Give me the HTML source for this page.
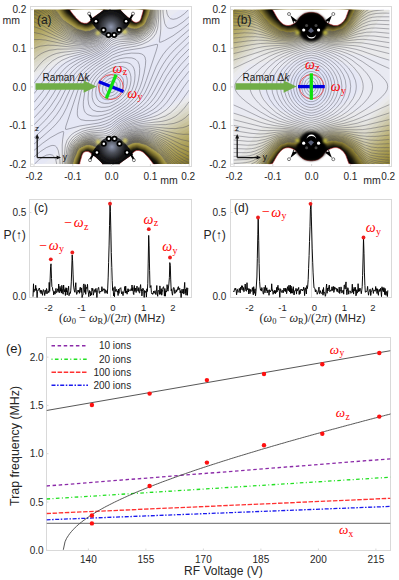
<!DOCTYPE html>
<html><head><meta charset="utf-8"><style>
html,body{margin:0;padding:0;background:#fff;}
svg{display:block;}
</style></head><body>
<svg width="399" height="580" viewBox="0 0 399 580">
<rect width="399" height="580" fill="#fff"/>
<clipPath id="cpa"><rect x="34.0" y="9.7" width="155.3" height="154.5"/></clipPath>
<g clip-path="url(#cpa)">
<rect x="34.0" y="9.7" width="155.3" height="154.5" fill="#e0e4f8"/>
<path fill="#e5e7f5" fill-rule="evenodd" d="M189.1 164.1L34.1 164.1L34.1 9.8L189.1 9.8L189.1 164.1ZM106.5 102.1L111.6 100.9L117.1 98.1L121.4 94.5L124.7 90.1L126.7 84.8L127 79.8L126.6 77.6L125.7 75.6L122.9 72.9L120.1 71.9L117.1 71.7L113.4 72.2L110.1 73.4L106.6 75.2L103.4 77.6L100.6 80.4L98.4 83.6L96.8 87.1L96 90.6L96 94.1L96.7 97.1L98.1 99.3L100.4 101L103.1 101.9L106.5 102.1Z"/>
<path fill="#e9eaf2" fill-rule="evenodd" d="M34.4 79.6L34.1 79.7L34.1 9.8L181.7 9.8L178.9 10.6L176.6 11.8L171.4 15.8L167.1 21.9L162.7 31.3L159 36.8L153.6 41.8L146.1 46L139.4 48.2L132.1 48.8L126.9 48.4L116.4 46.1L111.6 45.6L100.4 51.2L93.6 53.6L85.6 55.1L76.6 55.3L34.4 79.6ZM189.1 164.1L40.9 164.1L44.1 163.2L46.2 162.1L51.6 157.9L55.9 151.8L60.3 142.6L63.9 137.1L69.4 132L76.6 127.9L83.1 125.7L90.1 125L95.9 125.4L106.6 127.7L111.4 128.2L122.9 122.5L129.4 120.2L137.6 118.7L146.4 118.6L189.1 93.9L189.1 164.1Z"/>
<path fill="#eaeaec" fill-rule="evenodd" d="M34.1 76.4L34.1 9.8L170.5 9.8L167.4 12.4L164.7 15.8L162.1 20.6L158.9 28.6L155.9 33.3L151.4 37.7L145.1 41.2L141.9 42.6L138.4 43.5L131.1 43.8L125.9 42.9L114.6 39.1L110.9 38.3L103.1 43.2L95.6 46.8L88.9 48.5L81.6 49L34.1 76.4ZM189.1 164.1L52.4 164.1L55.6 161.4L58.1 158.2L60.9 153.2L64.2 145.1L67.2 140.3L71.9 136L77.9 132.6L81.1 131.2L84.6 130.3L91.9 130L97.1 130.9L108.4 134.7L112.1 135.5L120.1 130.5L127.4 127L134.4 125.2L141.4 124.8L189.1 97.3L189.1 164.1Z"/>
<path fill="#e5e5e2" fill-rule="evenodd" d="M34.4 72.9L34.1 73.1L34.1 9.8L165.5 9.8L161.6 14.8L156.8 26.6L154.1 31.1L149.6 35.5L143.4 39L140.1 40.2L136.9 40.9L129.9 40.8L122.9 38.7L113.1 34.1L110.9 33.5L102.4 39.7L95.9 43.1L89.4 45L81.9 45.5L34.4 72.9ZM189.1 164.1L57.4 164.1L59.6 161.6L61.4 158.8L66.3 147.1L69 142.6L73.4 138.3L79.6 134.8L82.6 133.7L86.1 132.9L93.1 133L100.1 135.1L109.6 139.6L112.1 140.3L120.6 134.1L127.1 130.7L133.9 128.8L141.1 128.3L189.1 100.6L189.1 164.1Z"/>
<path fill="#e0dfd7" fill-rule="evenodd" d="M34.4 69.6L34.1 69.7L34.1 9.8L162.3 9.8L159.3 14.6L155.2 25.3L152.8 29.6L148.6 33.8L142.4 37.2L139.1 38.4L135.9 39L132.1 39L128.9 38.4L121.1 35.5L111.4 29.7L108.1 31.8L102.1 37L97.6 39.7L93.9 41.4L89.9 42.5L85.6 43L80.9 42.7L34.4 69.6ZM189.1 164.1L60.6 164.1L63.7 159.3L67.9 148.3L70.3 144.1L74.4 140L80.6 136.6L83.9 135.4L87.1 134.8L90.9 134.8L94.1 135.4L102.1 138.5L111.6 144.1L115.1 141.8L120.9 136.8L125.4 134.1L129.4 132.3L133.6 131.2L137.6 130.8L142.1 131.1L189.1 103.9L189.1 164.1Z"/>
<path fill="#dcdacd" fill-rule="evenodd" d="M34.1 66.4L34.1 9.8L160 9.8L157.9 13.6L154.1 24.1L151.6 28.6L147.9 32.4L141.6 35.9L138.6 36.9L135.4 37.4L131.9 37.3L128.4 36.6L124.1 35L120.6 33.2L113.1 27.5L111.4 26.6L108.4 28.8L101.6 35.1L96.6 38.2L92.6 39.9L88.1 40.9L84.1 41.1L78.9 40.6L34.1 66.4ZM189.1 164.1L62.9 164.1L65.2 160.1L68.9 149.8L71.3 145.3L75.1 141.4L81.4 137.9L84.4 136.9L87.6 136.4L91.1 136.5L94.6 137.2L98.9 138.8L102.4 140.6L109.9 146.3L111.6 147.2L115.1 144.6L121.4 138.7L126.1 135.7L130.1 133.9L134.6 132.9L138.9 132.7L144 133.3L189.1 107.3L189.1 164.1Z"/>
<path fill="#d7d5c2" fill-rule="evenodd" d="M34.4 62.9L34.1 63.1L34.1 9.8L158.2 9.8L156.8 12.6L152.6 24.3L150.6 27.8L146.9 31.6L140.6 34.9L137.1 35.9L133.1 36.1L129.6 35.6L125.4 34.1L121.6 32.1L118.7 30.1L111.6 23.1L110.1 23.8L109.9 25L101.4 33.4L96.4 36.7L91.9 38.6L87.4 39.5L83.1 39.4L76.9 38.4L34.4 62.9ZM189.1 164.1L64.7 164.1L66.2 161.3L70.5 149.3L72.3 146.1L76.1 142.2L82.1 139L85.6 137.9L89.6 137.7L93.1 138.1L97.1 139.5L100.9 141.4L104.1 143.6L111.4 150.7L112.9 150L113.1 148.8L121.6 140.4L126.9 136.9L131.1 135.2L135.9 134.3L139.9 134.4L146.1 135.4L189.1 110.6L189.1 164.1Z"/>
<path fill="#d2ceb5" fill-rule="evenodd" d="M34.1 59.7L34.1 9.8L156.8 9.8L152.6 21.3L149.8 27.1L146.4 30.6L140.1 34L136.6 34.9L132.9 35L129.6 34.4L125.1 32.7L121.8 30.8L118.9 28.6L111.9 20.5L110.1 21.6L109.9 22.7L100.7 32.3L95.4 35.8L90.9 37.6L86.1 38.2L82.4 38L74.6 36.3L34.1 59.7ZM189.1 164.1L66.2 164.1L70.6 151.8L73.3 146.6L76.9 143L82.9 139.8L86.4 138.9L90.1 138.8L93.4 139.4L97.9 141.1L101.1 142.9L104.1 145.3L111.1 153.3L112.9 152.2L113.1 151.1L122.2 141.6L124.6 139.6L127.6 137.9L132.1 136.2L136.9 135.6L140.6 135.8L148.4 137.5L189.1 113.9L189.1 164.1Z"/>
<path fill="#cdc8a8" fill-rule="evenodd" d="M34.1 56.4L34.1 9.8L155.5 9.8L152.5 19.1L149 26.6L145.6 30L139.6 33.1L136.4 34L132.6 34L129.6 33.4L125 31.6L122.1 29.8L119.5 27.6L111.9 18.3L110.1 19.7L109.9 20.7L100.2 31.3L97.9 33.2L94.6 35L90.1 36.7L85.4 37.1L80.1 36.3L72.4 34.3L34.1 56.4ZM189.1 164.1L67.4 164.1L70.5 154.8L73.9 147.3L77.3 143.8L83.4 140.7L86.6 139.8L90.4 139.8L93.4 140.4L97.9 142.2L100.9 144L103.6 146.3L111.1 155.5L112.9 154.1L113.1 153.1L122.9 142.4L125.1 140.6L128.4 138.8L132.9 137.1L137.9 136.7L144.9 137.9L150.5 139.6L189.1 117.3L189.1 164.1Z"/>
<path fill="#c8c29b" fill-rule="evenodd" d="M34.4 52.9L34.1 53L34.1 9.8L154.6 9.8L152 18.1L148.4 26.1L145.1 29.3L138.9 32.5L135.6 33.2L131.9 33L127.4 31.7L124.2 30.1L121.1 27.8L118.9 25.5L112.1 16.1L99.6 30.6L97.4 32.4L94.1 34.2L89.6 35.8L84.4 36.1L75.9 34.2L70.6 32L34.4 52.9ZM189.1 164.1L68.4 164.1L71 155.8L73.3 150.1L74.7 147.6L77.9 144.5L83.9 141.4L87.1 140.6L90.9 140.7L95.1 142L98.6 143.6L101.9 146L104.1 148.3L110.9 157.7L123.4 143.2L125.7 141.3L129.1 139.5L133.6 138L138.6 137.7L147.1 139.6L152.4 141.8L189.1 120.6L189.1 164.1Z"/>
<path fill="#c3bc8e" fill-rule="evenodd" d="M34.1 49.7L34.1 9.8L153.8 9.8L151.3 17.8L147.6 25.8L144.6 28.7L138.4 31.9L135.4 32.4L131.6 32.2L126.9 30.6L123.9 28.9L121.3 26.8L118.9 24.1L113.6 16.5L112.1 13.6L109.9 17.3L106.3 21.1L99.6 29.3L97.1 31.6L93.4 33.6L88.9 35L83.6 35.1L75.1 32.9L68.9 29.6L34.1 49.7ZM189.1 164.1L69.2 164.1L71.5 156.6L75.3 148.1L78.4 145.1L84.4 142L87.6 141.4L91.4 141.6L96.1 143.2L99.1 144.9L101.8 147.1L104 149.6L109.4 157.3L110.9 160.2L113.1 156.5L116.8 152.6L123.5 144.3L126.1 142.1L129.6 140.2L134.1 138.8L139.4 138.7L147.9 140.9L154.1 144.1L189.1 124L189.1 164.1Z"/>
<path fill="#bfb682" fill-rule="evenodd" d="M34.1 46.4L34.1 9.8L153 9.8L150.9 16.8L147.1 25.3L144.1 28.2L138.1 31.2L135.1 31.7L131.6 31.5L127.1 29.9L124.1 28.1L121.6 26L119.2 23.1L114.1 15.6L112.6 12.2L111.4 12.2L109.9 15.8L105.6 20.4L99.2 28.6L96.6 30.9L92.9 33L87.9 34.3L83.1 34.1L75.1 31.9L66.9 27.5L34.1 46.4ZM189.1 164.1L69.9 164.1L72.1 156.8L76 148.3L78.9 145.6L84.9 142.6L87.9 142.1L91.4 142.3L95.9 143.9L98.9 145.7L101.4 147.8L103.7 150.6L108.8 158.1L110.3 161.6L111.6 161.7L113.1 158L117.4 153.4L123.7 145.3L126.4 142.9L130.1 140.8L135.1 139.5L139.9 139.7L147.9 141.9L156.1 146.3L189.1 127.3L189.1 164.1Z"/>
<path fill="#bab075" fill-rule="evenodd" d="M34.4 42.9L34.1 43L34.1 9.8L152.4 9.8L150.3 16.6L146.5 25.1L143.9 27.6L137.6 30.7L134.9 31.1L131.6 30.8L127.4 29.3L124.6 27.6L121.9 25.3L119.7 22.6L114.7 15.1L113.4 11.6L110.9 11.3L109.4 15L105.1 19.7L98.6 28.2L96.1 30.4L91.9 32.6L88.9 33.5L85.6 33.7L78.1 32L73.9 30.4L65.1 25.1L34.4 42.9ZM189.1 164.1L70.6 164.1L72.7 157.1L75.3 150.8L76.6 148.6L79.4 146L85.4 143.1L88.1 142.7L91.4 143L95.6 144.5L98.4 146.2L101.2 148.6L103.4 151.3L108.3 158.8L109.7 162.3L112.1 162.5L113.6 158.8L117.9 154.1L124.4 145.6L127.1 143.2L131.1 141.2L133.9 140.4L137.4 140.1L144.9 141.8L149.1 143.4L157.9 148.7L189.1 130.6L189.1 164.1Z"/>
<path fill="#b5ab6b" fill-rule="evenodd" d="M34.1 39.7L34.1 9.8L151.7 9.8L150 15.8L146 24.8L143.4 27.3L137.4 30.2L134.4 30.5L131.9 30.2L127.9 28.8L125.4 27.4L122.3 24.8L120.2 22.1L115.3 14.6L113.9 10.6L110.1 10.5L109.9 12.5L109 14.3L104.3 19.6L98.4 27.5L95.6 30L91.4 32.1L88.6 32.8L85.4 33L77.1 31L73.9 29.5L63.4 22.8L34.1 39.7ZM189.1 164.1L71.2 164.1L73 158.1L77 149.1L79.6 146.5L85.6 143.6L88.6 143.3L91.1 143.6L95.1 145L97.6 146.4L100.6 148.9L102.7 151.6L107.8 159.3L109.1 163.2L112.9 163.3L113.1 161.3L114.1 159.4L118.9 154.1L124.6 146.3L127.4 143.8L131.6 141.7L134.4 141L137.6 140.8L145.9 142.8L149.1 144.3L159.6 151L189.1 134L189.1 164.1Z"/>
<path fill="#b0a562" fill-rule="evenodd" d="M34.1 36.4L34.1 9.8L151.1 9.8L149.5 15.6L145.5 24.6L143 26.8L136.9 29.7L134.1 29.9L131.9 29.6L127.9 28.2L125.6 26.8L122.7 24.3L120.6 21.6L115.7 14.1L114.8 12.1L114.5 10.1L110.1 9.8L109.6 10.1L109.2 12.3L108.3 14.1L103.8 19.1L97.6 27.4L95.1 29.5L90.6 31.7L88.1 32.2L84.9 32.3L76.6 30L66.1 23.7L61.9 20.3L34.1 36.4ZM189.1 164.1L71.8 164.1L73.5 158.3L77.4 149.3L79.9 147L86.1 144.1L88.9 143.9L91.1 144.2L95.1 145.6L97.4 146.9L100.4 149.6L102.4 152.2L107.3 159.8L108.2 161.8L108.5 163.8L112.9 164L113.4 163.6L113.7 161.6L114.6 159.8L119.2 154.8L125.4 146.4L127.9 144.3L132.1 142.2L134.6 141.6L137.9 141.5L146.4 143.8L156.9 150.1L161.1 153.5L189.1 137.3L189.1 164.1Z"/>
<path fill="#aca05a" fill-rule="evenodd" d="M34.4 32.9L34.1 33L34.1 9.8L109 9.8L108.7 11.8L107.9 13.6L102.9 19.1L97.1 27.1L94.6 29.2L90.1 31.2L87.4 31.7L84.9 31.6L76.4 29.2L65.6 22.4L60.6 17.8L34.4 32.9ZM135.6 29.3L132.6 29.2L129.1 28.1L126.9 27.1L124.1 24.9L121.8 22.3L116.4 14L115.4 11.8L115.1 9.8L150.6 9.8L149 15.3L146.2 22.3L144.9 24.5L143.1 26.1L140.1 27.8L137.6 29L135.6 29.3ZM189.1 164.1L114 164.1L114 163.6L114.3 161.8L115.1 160.2L119.6 155.3L125.8 146.8L128.4 144.6L132.9 142.6L135.6 142.1L138.1 142.2L146.6 144.6L157.4 151.4L162.4 156.1L189.1 140.6L189.1 164.1ZM107.6 164.1L72.4 164.1L74 158.3L76.9 151.3L78.3 149.1L80.1 147.5L84.6 145.1L88.6 144.4L91.1 144.8L95.1 146.2L99.8 149.8L106.8 160.1L107.7 162.3L107.6 164.1Z"/>
<path fill="#a79b52" fill-rule="evenodd" d="M87.9 31.1L84.1 30.9L75.9 28.2L65.1 21.1L59.4 15.1L34.1 29.7L34.1 9.8L108.4 9.8L108.2 11.6L107.5 13.1L102.5 18.6L96.4 27.1L92.6 29.6L87.9 31.1ZM135.6 28.8L132.9 28.7L129.1 27.6L127.1 26.6L124.6 24.6L122.3 22.1L116.8 13.6L115.9 11.6L115.7 9.8L132.3 9.8L133.9 10.2L134.4 9.8L150.1 9.8L148.5 15.3L144.6 24.1L143.1 25.5L140.4 27.1L137.6 28.4L135.6 28.8ZM189.1 164.1L114.6 164.1L114.6 163.6L115.6 160.6L120.4 155.3L127 146.3L129.1 144.8L132.4 143.3L136.6 142.6L140.6 143.4L147.4 145.7L157.9 152.7L163.6 158.7L189.1 144L189.1 164.1ZM107.1 164.1L91 164.1L89.1 163.5L88.6 164.1L72.9 164.1L74.5 158.6L77.3 151.6L78.6 149.4L80.4 147.9L84.6 145.7L88.6 144.9L90.9 145.3L94.9 146.6L99.6 150.3L106.3 160.3L107.2 162.6L107.1 164.1Z"/>
<path fill="#a3964a" fill-rule="evenodd" d="M87.4 30.6L83.9 30.3L77.9 28.5L75.9 27.5L64.6 19.8L61.1 16.1L58.4 12.4L34.1 26.3L34.1 9.8L83.6 9.8L85.1 11L90.7 9.8L107.9 9.8L107.8 11.3L107.1 12.8L102.1 18.1L95.9 26.8L92.1 29.3L87.4 30.6ZM135.9 28.3L133.1 28.3L129.4 27.1L127.4 26.2L124.9 24.2L123 22.1L117.2 13.3L116.4 11.6L116.1 9.8L130.5 9.8L134.4 11L135.3 9.8L149.6 9.8L148.1 15.1L144.2 23.8L142.9 25.1L140.9 26.3L137.9 27.8L135.9 28.3ZM189.1 164.1L139.5 164.1L137.9 162.8L131.8 164.1L115.1 164.1L115.1 163.6L116 160.8L120.9 155.7L127.4 146.7L132.1 144L136.6 143.2L138.9 143.5L143.9 144.9L147.4 146.5L158.4 154.1L161.9 157.7L164.6 161.4L189.1 147.3L189.1 164.1ZM106.6 164.1L92.8 164.1L88.6 162.8L87.6 164.1L73.4 164.1L74.9 158.8L77.7 151.8L78.9 149.8L80.6 148.3L84.9 146.1L88.4 145.4L90.6 145.7L94.6 147.1L99.1 150.6L105.9 160.7L106.8 162.8L106.6 164.1Z"/>
<path fill="#9e9042" fill-rule="evenodd" d="M34.4 22.9L34.1 23L34.1 9.8L56.9 9.8L34.4 22.9ZM87.1 30.1L84.4 29.9L77.4 27.7L67.4 21.1L62.6 16.8L57.6 9.8L82.3 9.8L85.1 12.1L93.6 9.8L107.5 9.8L106.6 12.6L101.4 18.2L95.4 26.6L91.4 29L87.1 30.1ZM136.1 27.8L133.4 27.8L129.9 26.8L127.9 25.9L125.4 24L123.4 21.8L117.6 13L116.8 11.3L116.6 9.8L128.8 9.8L134.6 11.7L136.1 9.8L149.1 9.8L147.7 14.8L143.9 23.5L141.9 25.2L137.9 27.3L136.1 27.8ZM165.4 164.1L140.8 164.1L137.9 161.7L129.1 164.1L115.5 164.1L115.5 163.6L116.4 161.2L121.6 155.6L127.7 147.1L132.4 144.5L136.6 143.7L138.9 144L145.9 146.3L155.9 152.9L160.5 157.1L165.4 164.1ZM106.4 164.1L94.5 164.1L88.4 162.1L86.8 164.1L73.9 164.1L75.4 158.8L79.3 150.1L80.9 148.7L85.1 146.5L88.4 145.9L90.4 146.1L94.4 147.5L98.9 151.1L105.5 161.1L106.2 162.6L106.4 164.1ZM189.1 164.1L165.9 164.1L189.1 150.7L189.1 164.1Z"/>
<path fill="#95883b" fill-rule="evenodd" d="M34.1 19.7L34.1 9.8L51.2 9.8L34.1 19.7ZM87.1 29.6L84.4 29.3L77.6 27.2L67.8 20.6L63.1 16.5L58.4 9.8L81.2 9.8L83.1 12L84.9 13.3L88.4 11.8L95.5 9.8L107 9.8L106.3 12.3L101 17.8L95.1 26.2L91.6 28.4L87.1 29.6ZM136.4 27.4L133.6 27.4L129.9 26.3L128.1 25.5L125.7 23.6L123.8 21.6L117.9 12.6L117 9.8L127.4 9.8L134.9 12.5L136.1 11.3L136.8 9.8L148.7 9.8L147.3 14.6L143.6 23.2L141.9 24.8L136.4 27.4ZM164.4 164.1L141.8 164.1L140.1 162L138.1 160.5L134.6 162L127.2 164.1L116 163.8L116.7 161.6L122 156.1L127.9 147.6L129.4 146.4L132.4 145L136.6 144.2L138.9 144.5L145.6 146.7L155.4 153.3L158.4 155.8L160.9 158.6L163.4 162.1L164.4 164.1ZM105.9 164.1L95.9 164.1L88.1 161.3L86.9 162.6L86.1 164.1L74.3 164.1L75.7 159.1L79.6 150.3L80.9 149.2L85.1 146.9L88.4 146.3L94.1 147.9L98.5 151.3L105.1 161.3L105.8 162.8L105.9 164.1ZM189.1 164.1L171.7 164.1L189.1 154L189.1 164.1Z"/>
<path fill="#8a7d36" fill-rule="evenodd" d="M34.1 16.3L34.1 9.8L45.4 9.8L34.1 16.3ZM87.4 29.1L84.4 28.8L76.9 26.2L65 17.6L61.9 14.1L59.2 9.8L80.3 9.8L82.4 12.5L84.6 14.2L88.6 12.5L97 9.8L106.6 9.8L105.9 12.1L100.7 17.3L94.9 25.8L91.6 27.9L87.4 29.1ZM136.6 26.9L133.9 27L130.9 26.2L128.6 25.3L126.4 23.6L124.2 21.3L118.4 12.5L117.4 9.8L126.2 9.8L135.1 13.2L136.6 11.8L137.5 9.8L148.2 9.8L146.9 14.6L143.4 22.8L141.9 24.3L136.6 26.9ZM163.6 164.1L142.8 164.1L140.7 161.3L138.4 159.6L134.4 161.3L125.8 164.1L116.4 163.8L117 161.8L122.4 156.4L128.4 147.8L132.6 145.4L136.6 144.7L138.6 145L145.4 147.2L155 153.8L158.1 156.3L160.6 159.1L163.6 164.1ZM105.4 164.1L97 164.1L87.9 160.6L86.4 162L85.5 164.1L74.8 164.1L76.1 159.3L79.9 150.6L81.1 149.5L85.4 147.3L88.4 146.7L94.1 148.3L98.1 151.6L104.8 161.6L105.5 163.1L105.4 164.1ZM189.1 164.1L177.4 164.1L189.1 157.3L189.1 164.1Z"/>
<path fill="#7f7331" fill-rule="evenodd" d="M34.4 12.8L34.1 13L34.1 9.8L39.6 9.8L34.4 12.8ZM87.6 28.6L84.6 28.4L77.3 25.8L65.4 17.1L62.4 13.8L59.9 9.8L79.5 9.8L82.2 13.6L83.9 14.9L84.9 15.1L88.9 13.1L94.6 11.3L98.1 9.8L106.2 9.8L105.6 11.7L99.9 17.5L94.5 25.6L91.4 27.5L87.6 28.6ZM135.9 26.6L133.6 26.5L129.6 25.3L125.9 22.6L124.5 21.1L118.6 12.1L117.8 9.8L125.2 9.8L128.4 11.4L133.9 13.2L135.4 14.1L137.1 12.3L138 9.8L147.8 9.8L146.6 14.3L142.9 22.8L141.4 24.1L137.4 26.2L135.9 26.6ZM163.1 164.1L143.6 164.1L140.9 160.3L138.4 158.7L134.1 160.7L128.4 162.5L124.7 164.1L116.8 163.8L117.4 162.1L123.1 156.3L128.6 148.1L132.4 146L136.6 145.1L138.6 145.4L145.1 147.6L154.4 154.1L159 158.1L163.1 164.1ZM105.1 164.1L98 164.1L94.6 162.4L89.1 160.6L87.6 159.7L86 161.3L84.9 164.1L75.2 164.1L76.5 159.3L80.1 150.9L81.4 149.8L85.6 147.6L88.4 147.2L93.9 148.7L97.9 152L104.5 161.8L105.1 164.1ZM189.1 164.1L183.2 164.1L189.1 160.7L189.1 164.1Z"/>
<path fill="#73682c" fill-rule="evenodd" d="M88.1 28.1L84.9 28L77.6 25.5L65.6 16.5L62.9 13.5L60.6 9.8L78.7 9.8L81.6 14.1L83.3 15.6L84.4 15.8L85.1 15.8L89.6 13.4L95.6 11.5L99 9.8L105.8 9.8L105.3 11.6L99.1 17.7L94.3 25.1L91.9 26.8L88.1 28.1ZM136.4 26.1L134.1 26.2L131.1 25.4L129.1 24.6L127.4 23.3L124.7 20.6L121.9 15.8L118.9 11.8L118.2 9.8L124.4 9.8L127.9 11.7L133.6 13.6L135.6 15.1L137.4 13.1L138.6 9.8L147.4 9.8L146.1 14.3L142.6 22.6L141.4 23.7L136.4 26.1ZM162.4 164.1L144.3 164.1L141.5 159.8L139.8 158.3L138.6 158L137.9 158L133.5 160.3L127.4 162.3L123.8 164.1L117.2 163.8L117.9 162.1L123.9 156.1L128.9 148.5L132.6 146.4L136.6 145.6L139.1 146.1L145.6 148.5L157.5 157.3L160.1 160.3L162.4 164.1ZM104.6 164.1L98.8 164.1L95.1 162.1L89.4 160.2L87.4 158.7L85.7 160.6L84.4 164.1L75.6 164.1L76.8 159.6L80.4 151.2L81.6 150.1L85.6 148L88.1 147.6L93.6 149L97.1 151.9L104.1 162L104.7 163.3L104.6 164.1Z"/>
<path fill="#685d27" fill-rule="evenodd" d="M88.1 27.6L84.9 27.6L77.9 25.1L65.9 16.1L63.3 13.1L61.3 9.8L78 9.8L81 14.6L83.1 16.4L84.1 16.6L85.1 16.5L89.9 13.9L95.9 11.9L99.9 9.8L105.5 9.8L105 11.3L98.4 17.8L94 24.8L91.6 26.4L88.1 27.6ZM135.6 25.8L133.9 25.8L129.9 24.6L126.4 21.8L119.2 11.6L118.6 9.8L123.6 9.8L127.6 12.2L133.6 14.1L135.9 16.1L137.9 13.6L139.1 9.8L147 9.8L145.8 14.1L142.4 22.3L141.4 23.3L138.6 24.7L135.6 25.8ZM161.6 164.1L145.1 164.1L142.1 159.3L139.9 157.4L138.9 157.2L137.9 157.3L133.1 159.9L127.1 161.9L122.9 164.1L117.5 163.8L118.1 162.4L124.1 156.5L129.1 148.8L132.6 146.9L136.6 146L138.4 146.3L145.3 148.8L157.1 157.8L159.8 160.8L161.6 164.1ZM104.4 164.1L99.5 164.1L95.6 161.8L89.4 159.7L87.1 157.7L85.1 160.3L83.9 164.1L76 164.1L77.2 159.6L80.7 151.3L85.9 148.3L88.1 148L93.4 149.3L96.9 152.2L103.7 162.1L104.4 164.1Z"/>
<path fill="#5c5322" fill-rule="evenodd" d="M86.4 27.3L84.6 27.1L78.1 24.7L66.4 15.8L64 13.1L62 9.8L77.3 9.8L78.5 12.3L80.5 15.1L82.6 17.1L83.9 17.3L85.1 17.2L88.9 15L96.1 12.3L100.6 9.8L105.1 9.8L104.7 11.1L98.1 17.5L94.9 23L93.4 24.8L90.1 26.6L86.4 27.3ZM136.4 25.4L134.1 25.4L130.9 24.5L127.9 22.6L125.4 20.1L122.9 15.8L119.5 11.3L118.9 9.8L122.9 9.8L127.1 12.5L133.6 14.6L136.1 17.1L137.1 16.3L138.2 14.3L139.5 9.8L146.6 9.8L145.4 14.1L142.1 22.1L141.1 23L136.4 25.4ZM160.9 164.1L145.7 164.1L144.6 161.6L142.6 158.8L140.4 156.7L139.1 156.5L137.9 156.6L134.1 158.8L126.9 161.5L122.2 164.1L117.9 163.8L118.4 162.6L124.9 156.3L129.5 149.1L132.9 147.2L136.6 146.5L138.4 146.7L144.9 149.1L156.7 158.1L159.4 161.2L160.9 164.1ZM103.9 164.1L100.2 164.1L95.9 161.3L89.4 159.2L86.9 156.7L85.9 157.5L84.9 159.3L83.5 164.1L76.4 164.1L77.5 159.8L81 151.6L85.9 148.7L88.1 148.3L93.1 149.7L96.6 152.6L100.5 158.6L103.4 162.3L104.1 163.6L103.9 164.1Z"/>
<path fill="#50481e" fill-rule="evenodd" d="M87.6 26.8L85.1 26.8L78.4 24.4L66.7 15.3L64.4 12.8L62.6 9.8L76.7 9.8L77.9 12.6L80 15.6L82.4 17.8L83.9 18L85.4 17.8L89.1 15.4L95.9 12.9L101.3 9.8L104.8 9.8L104.4 11L97.9 17.1L93.3 24.3L91.1 25.7L87.6 26.8ZM135.9 25.1L134.1 25L131.1 24.2L128.4 22.6L125.9 20.1L123.2 15.6L119.7 11.1L119.2 9.8L122.4 9.8L126.9 12.9L133.4 15L135.9 17.8L136.9 17.9L138.7 14.6L140 9.8L146.2 9.8L145.1 13.8L141.9 21.9L140.9 22.8L135.9 25.1ZM160.4 164.1L146.4 164.1L145.1 161.3L143.5 158.8L141.1 156.3L139.9 155.8L137.6 156L134.4 158.1L127.2 160.8L121.5 164.1L118.2 163.8L118.6 162.8L125.1 156.7L128.4 151.1L129.9 149.3L133.1 147.6L136.9 146.9L144.6 149.4L156.6 158.8L158.9 161.4L160.4 164.1ZM103.6 164.1L100.7 164.1L96.1 160.9L89.6 158.8L87.1 156L86.1 155.9L84.2 159.3L83 164.1L76.7 164.1L77.9 159.8L81.2 151.8L86.1 149L88.1 148.7L93.1 150.1L96.3 152.8L100.2 158.8L103.2 162.6L103.6 164.1Z"/>
<path fill="#443d1a" fill-rule="evenodd" d="M87.9 26.4L85.1 26.3L78.7 24.1L66.7 14.6L64.7 12.3L63.2 9.8L76 9.8L77.5 13.1L79.6 16.1L82.1 18.5L83.6 18.6L85.4 18.5L88.9 16.1L96.1 13.3L101.9 9.9L104.5 9.8L104.1 10.7L97.1 17.3L93 24.1L90.9 25.4L87.9 26.4ZM136.4 24.6L134.4 24.7L131.4 23.8L128.6 22.3L126.1 19.7L123.9 15.8L120.1 11.1L119.5 9.8L121.8 9.8L127.1 13.5L132.9 15.2L134.1 16.1L135.6 18.2L136.4 18.5L137.8 18.1L139.7 13.3L140.4 9.8L145.9 9.8L144.8 13.8L141.6 21.6L140.9 22.4L136.4 24.6ZM159.6 164.1L147 164.1L145.6 160.8L143.4 157.8L140.9 155.3L139.4 155.2L137.6 155.3L134.1 157.7L126.9 160.5L120.9 164.1L118.5 163.8L118.9 163.1L125.8 156.6L128.8 151.3L130.1 149.6L133.4 148L136.9 147.3L144.4 149.7L156.4 159.3L158.5 161.8L159.6 164.1ZM103.4 164.1L101.3 164.1L95.9 160.3L90 158.6L88.9 157.7L87.4 155.6L86.6 155.3L85.4 155.4L85.1 155.8L83.1 161.1L82.6 164.1L77.1 164.1L78.2 160.1L81.4 152.1L86.1 149.3L88.1 149.1L92.9 150.4L96 153.1L99.9 159.1L103 162.8L103.4 164.1Z"/>
<path fill="#383316" fill-rule="evenodd" d="M86.1 26.1L78.9 23.7L74.6 20L67.1 14.3L65.2 12.1L63.9 9.8L75.4 9.8L77.1 13.6L79.6 16.9L81.9 19.1L84.1 19.3L85.4 19.1L88.9 16.7L96.9 13.4L102.5 9.8L104.2 9.8L103.9 10.5L96.9 16.9L92.6 23.9L89.9 25.3L86.1 26.1ZM136.1 24.3L134.5 24.3L130.9 23.3L128.9 21.9L126.4 19.3L124.2 15.6L119.8 9.8L121.4 9.8L124.4 12.3L127.4 14.1L132.9 15.6L135.9 19.1L138.1 18.8L140.3 12.8L140.8 9.8L145.5 9.8L144.4 13.8L141.3 21.6L136.1 24.3ZM159.1 164.1L147.6 164.1L146 160.3L143.3 156.8L141.1 154.7L138.9 154.5L137.6 154.7L133.6 157.4L127.4 159.8L120.4 164.1L118.8 163.8L126.1 156.9L130.4 149.9L133.1 148.5L136.9 147.7L144.2 150.1L148.4 153.8L156 159.6L157.9 161.8L159.1 164.1ZM103.1 164.1L101.8 164.1L98.1 161.1L95.6 159.7L90.1 158.2L87.1 154.7L84.8 155.1L82.9 160.3L82.2 164.1L77.5 164.1L78.6 160.1L81.6 152.3L86.4 149.6L87.9 149.4L92.6 150.7L95.4 153.1L99.6 159.4L102.7 163.1L103.1 164.1Z"/>
<path fill="#2c2812" fill-rule="evenodd" d="M87.4 25.6L85.4 25.6L79.1 23.5L74.9 19.6L67.4 13.8L65.6 11.8L64.5 9.8L74.8 9.8L76.4 13.6L79.3 17.3L81.6 19.6L84.1 19.9L85.6 19.7L88.9 17.2L95.9 14.4L103.1 9.8L103.9 9.8L96.1 17.1L92.4 23.6L90.6 24.6L87.4 25.6ZM136.6 23.8L134.6 24L129.9 22.3L126.7 19.1L123.6 14.1L120.1 9.8L120.9 9.8L124.1 12.6L127.1 14.5L132.8 16.1L135.9 19.8L138.6 19.1L140.7 12.8L141.2 9.8L145.1 9.8L144.1 13.6L141.1 21.3L136.6 23.8ZM158.4 164.1L148.2 164.1L146.6 160.3L143.6 156.4L141.4 154.2L138.9 153.9L137.4 154.1L133.9 156.7L125.9 160.1L119.9 164.1L119.1 163.8L126.4 157.3L128 155.1L129.3 152.1L130.6 150.2L133.1 148.9L136.9 148.1L143.9 150.3L148.6 154.6L155.6 160L157.5 162.1L158.4 164.1ZM102.6 164.1L102.1 164.1L98.9 161.2L95.9 159.3L90.1 157.7L87.1 154L84.4 154.7L82.3 160.8L81.8 164.1L77.8 164.1L78.9 160.1L82 152.3L86.4 150L87.9 149.8L92.4 151L95.1 153.4L99.4 159.7L102.4 163.1L102.8 163.8L102.6 164.1Z"/>
<path fill="#201e0f" fill-rule="evenodd" d="M87.6 25.1L85.4 25.2L79.4 23.2L67.4 13.1L65.1 9.8L74.2 9.8L75.9 13.8L78.9 17.6L81.4 20.1L83.9 20.4L85.6 20.4L88.9 17.8L94.9 15.4L99.4 12.7L99.9 12.7L95 17.8L93.2 21.8L92.1 23.2L90.4 24.3L87.6 25.1ZM136.4 23.6L134.6 23.6L130.2 22.1L127.5 19.3L123.1 12.7L123.6 12.6L127.4 15.2L132.4 16.3L134.9 19.5L136.1 20.3L139 19.3L141.1 13.1L141.5 9.8L144.8 9.8L143.8 13.6L140.9 21.1L136.4 23.6ZM102.4 10.9L102.4 10.7L102.4 10.9ZM121.4 11L121.4 10.7L121.4 11ZM101.9 11.4L101.9 11L101.9 11.4ZM121.9 11.5L121.9 11.2L121.9 11.5ZM101.4 11.8L101.1 11.5L101.4 11.8ZM122.4 12.1L122.4 11.6L122.4 12.1ZM100.9 12.2L100.6 11.8L100.9 12.2ZM122.9 12.6L122.6 12.3L122.9 12.1L123.2 12.3L122.9 12.6ZM100.4 12.6L99.9 12.3L100.4 12.3L100.4 12.6ZM157.9 164.1L148.8 164.1L147 159.8L144.1 156.2L141.6 153.7L139.1 153.4L137.4 153.4L133.6 156.3L128.1 158.5L123.6 161.1L123.1 160.8L127.6 156.6L130.9 150.6L133.4 149.3L137.1 148.5L143.6 150.6L155.5 160.6L157 162.3L157.9 164.1ZM81.4 164.1L78.2 164.1L79.2 160.3L81.8 153.3L82.6 152.2L86.9 150.1L88.4 150.2L92.9 151.8L95.4 154.3L97.9 158.3L100.4 161.3L99.9 161.6L95.6 158.6L90.6 157.5L88.1 154.3L86.9 153.5L84.1 154.3L82.1 160.1L81.4 164.1ZM122.9 161.6L122.6 161.3L122.9 161.1L122.9 161.6ZM122.4 162L122.1 161.6L122.5 161.6L122.4 162ZM100.6 162.2L100.6 161.7L100.6 162.2ZM121.6 162.4L121.5 162.1L121.9 162.1L121.6 162.4ZM101.1 162.6L101.1 162.3L101.1 162.6ZM121.1 162.8L121.1 162.4L121.1 162.8ZM101.6 163.1L101.6 162.8L101.6 163.1ZM120.6 163.2L120.6 162.9L120.6 163.2Z"/>
<path fill="#1a180d" fill-rule="evenodd" d="M86.6 24.8L85.4 24.8L79.5 22.8L67.8 12.8L65.7 9.8L73.6 9.8L75.3 13.8L76.3 15.3L80.6 20.1L82.4 20.8L85.6 21L89.1 18.2L96.4 15.1L96.5 15.6L94.2 18.1L92.8 21.6L91.9 22.9L90.1 23.9L86.6 24.8ZM136.1 23.3L134.9 23.3L130.6 21.8L127.8 19.1L125.1 14.7L125.6 14.6L128.6 16.1L132.1 16.6L133 17.3L134.1 19.3L135.9 20.9L139.2 19.8L141.3 13.8L141.9 9.8L144.5 9.8L143.4 13.6L140.5 21.1L136.1 23.3ZM124.4 14L124.4 13.7L124.4 14ZM124.9 14.5L124.9 14.1L124.9 14.5ZM97.4 14.7L97.4 14.4L97.4 14.7ZM96.9 15.2L96.5 15.1L96.6 14.8L97 14.8L96.9 15.2ZM157.1 164.1L149.5 164.1L147.2 159.1L143.5 154.8L141.4 153.2L137.4 152.8L133.9 155.6L127.6 158.3L126.9 158.1L128.7 155.8L130.3 152.1L131.2 150.8L133.6 149.7L137.4 148.9L143.6 151.1L155.1 160.9L156.7 162.8L157.1 164.1ZM80.9 164.1L78.5 164.1L82 153.6L82.6 152.6L86.9 150.5L88.1 150.5L92.4 151.9L95.3 154.8L97.9 158.8L97.6 159.3L94.6 157.7L90.9 157.2L87.4 153L85.9 153.3L83.8 154.1L81.5 160.6L80.9 164.1ZM126.9 158.7L126.5 158.6L126.9 158.1L126.9 158.7ZM126.4 159L126.1 158.6L126.4 159ZM125.6 159.4L125.6 159.1L125.6 159.4ZM98.1 159.7L98.1 159.3L98.1 159.7Z"/>
<path fill="#15140b" fill-rule="evenodd" d="M87.1 24.3L85.6 24.5L79.8 22.6L68.1 12.3L66.3 9.8L73 9.8L75.1 14.6L80.9 20.9L85.9 21.6L89.1 18.7L94.6 16.5L91.6 22.6L90.4 23.3L87.1 24.3ZM136.4 22.9L135.1 23L130.9 21.6L128.6 19.3L126.6 16.3L126.9 16L128.1 16.6L132.1 17.1L133.7 19.6L135.6 21.3L139.4 20.2L141.8 13.3L142.3 9.8L144.1 9.8L143.2 13.3L140.4 20.8L136.4 22.9ZM126.4 16L126.4 15.7L126.4 16ZM156.6 164.1L150.1 164.1L147.9 159.2L142.1 152.9L137.4 152.2L133.6 155.2L129.1 157.1L128.7 156.6L130.6 152.3L131.6 151L136.1 149.4L137.6 149.4L143.4 151.3L154.7 161.3L156.6 164.1ZM80.6 164.1L78.9 164.1L82.3 153.6L82.9 152.7L86.9 150.8L88 150.8L92.1 152.3L94.5 154.6L96.3 157.3L96.1 157.8L94.9 157.2L91.1 156.8L90.3 156.1L89.2 154.1L87.4 152.5L83.6 153.6L81.4 159.8L80.6 164.1ZM128.6 157.3L128.4 156.9L128.8 157.1L128.6 157.3ZM96.6 158.1L96.6 157.9L96.6 158.1Z"/>
<path fill="#111009" fill-rule="evenodd" d="M85.9 24.1L79.9 22.2L68.4 11.8L67 9.8L72.3 9.8L74.7 14.8L80.9 21.3L85.9 22.2L89.1 19.3L92.6 18.1L92.8 18.6L92.1 20.8L91.2 22.3L85.9 24.1ZM142.1 15L141.7 14.6L142.4 12.8L142.6 9.8L143.8 9.8L142.1 15ZM142.1 15.3L141.6 15.6L141.5 15.1L141.9 14.8L142.1 15.3ZM141.4 17.1L141 16.6L141.6 15.6L141.9 15.8L141.4 17.1ZM141.4 17.4L140.9 17.5L140.9 17.1L141.1 16.9L141.4 17.4ZM136.1 22.7L135.1 22.7L131.4 21.3L129.2 19.3L127.9 17.1L131.9 17.5L133.1 19.8L135.6 21.8L138.9 20.9L139.9 20.2L140.1 20.4L136.1 22.7ZM92.9 18.3L92.9 17.8L92.9 18.3ZM141.1 18.1L140.9 18.3L140.6 17.8L141.1 17.7L141.1 18.1ZM140.6 19.5L140.1 19.3L140.6 18.1L141 18.6L140.6 19.5ZM140.4 20.2L139.9 19.8L140.4 19.6L140.4 20.2ZM155.9 164.1L150.7 164.1L148.2 158.8L142.4 152.6L137.1 151.6L133.8 154.6L130.1 156L129.9 155.8L131 152.6L132.1 151.2L136.4 149.8L137.4 149.7L142.9 151.4L154.7 162.1L155.9 164.1ZM94.4 156.6L91.1 156.3L89.9 154.1L87.4 152L84.4 153L84.1 152.6L87.1 151.1L91.4 152.3L94.8 155.8L94.9 156.3L94.4 156.6ZM83.9 153.3L83.4 153.1L83.6 152.7L84.1 152.8L83.9 153.3ZM82.6 155L82.3 154.6L83.1 153L83.5 153.3L82.9 153.6L82.6 155ZM82.6 155.3L82.1 155.6L82.1 155.1L82.4 154.9L82.6 155.3ZM82.1 156.3L81.8 155.8L82.1 155.6L82.4 155.8L82.1 156.3ZM81.9 157.4L81.4 157.3L81.9 156.1L82.2 156.6L81.9 157.4ZM95.1 156.7L94.8 156.6L95.1 156.3L95.1 156.7ZM81.6 158.1L81.4 158.3L81.1 157.8L81.6 157.7L81.6 158.1ZM80.4 164.1L79.2 164.1L81.1 158.1L81.5 158.6L80.7 160.3L80.4 164.1Z"/>
<path fill="#0c0b08" fill-rule="evenodd" d="M79.4 21.1L68.7 11.3L67.7 9.8L71.7 9.8L74.5 15.3L79.5 20.6L79.4 21.1ZM143.4 9.8L143 9.8L143.4 9.8ZM143.1 10.6L143.1 10.2L143.1 10.6ZM134.1 21.8L131.1 20.6L129.1 17.8L131.6 17.9L132.6 20.1L134.2 21.3L134.1 21.8ZM86.6 23.6L85.6 23.7L82.6 22.5L80.9 22.3L80.7 21.8L85.9 22.7L89.6 19.6L91.1 19.2L91.8 19.3L91.6 20.8L90.9 22L86.6 23.6ZM79.9 21.6L79.4 21.1L80 21.1L79.9 21.6ZM80.4 22.1L80 21.8L80.1 21.4L80.5 21.6L80.4 22.1ZM134.6 22.1L134.6 21.6L134.9 21.8L134.6 22.1ZM135.4 22.4L135.4 22L135.4 22.4ZM131.9 154.6L131.3 154.6L131.2 154.1L132.1 151.8L136.4 150.2L137.4 150.1L142.4 151.8L142.1 152.1L137.1 151.1L133.6 154.1L131.9 154.6ZM87.6 151.7L87.6 151.5L87.6 151.7ZM88.4 152.2L88.4 151.7L88.4 152.2ZM142.9 152.3L142.4 151.8L142.9 151.8L142.9 152.3ZM93.1 156.1L91.2 155.8L90.4 153.8L88.7 152.1L91.1 152.7L92 153.3L94 155.8L93.1 156.1ZM143.4 152.8L142.9 152.3L143.4 152.3L143.4 152.8ZM143.9 153.3L143.4 152.8L143.9 152.8L143.9 153.3ZM144.4 153.8L143.9 153.3L144.4 153.3L144.4 153.8ZM144.9 154.3L144.4 154.1L144.6 153.7L145 153.8L144.9 154.3ZM145.1 154.8L145.1 154.2L145.5 154.6L145.1 154.8ZM145.6 155.3L145.4 154.8L145.9 154.7L146 155.1L145.6 155.3ZM155.1 164.1L151.4 164.1L148.9 159.1L145.9 155.3L146.4 155.2L154.4 162.6L155.1 164.1ZM80.1 162.8L80.1 162.6L80.1 162.8ZM79.9 163.7L79.9 163.2L79.9 163.7ZM79.9 164.1L79.6 164.1L79.9 164.1Z"/>
<path fill="#070706" fill-rule="evenodd" d="M72.1 13.4L68.4 9.8L70.9 9.8L72.4 12.8L72.1 13.4ZM72.6 13.9L72.3 13.6L72.6 13.3L72.6 13.9ZM72.9 14.3L73.1 14L72.9 14.3ZM73.4 14.9L73.4 14.6L73.4 14.9ZM131.9 20.2L130.4 19.1L130.3 18.3L131.4 18.3L131.9 20.2ZM87.6 22.7L87.4 22.2L89.1 20.6L90.1 20L91 20.1L90.6 21.6L87.6 22.7ZM132.1 20.7L132.1 20.4L132.1 20.7ZM87.1 22.9L86.9 22.6L87.1 22.9ZM136.6 150.8L136.6 150.6L136.6 150.8ZM136.1 151.2L135.8 151.1L136.1 150.9L136.1 151.2ZM135.6 151.6L135.1 151.3L135.6 151.3L135.6 151.6ZM132.1 153.9L132.1 152.8L132.6 152.1L134.6 151.4L135.1 151.6L133.9 153.2L132.1 153.9ZM92.4 155.6L91.5 155.3L91.1 153.6L92.7 154.8L92.8 155.3L92.4 155.6ZM149.6 159.2L149.6 158.9L149.6 159.2ZM150.1 159.8L149.9 159.5L150.1 159.8ZM154.4 164.1L152.1 164.1L150.2 160.1L150.6 160L153.9 163L154.4 164.1Z"/>
<path fill="#050505" fill-rule="evenodd" d="M69.6 10L69.3 9.8L69.9 9.8L69.6 10ZM70.1 10.3L69.9 10.1L70.1 10.3ZM90.1 21.1L89.8 21.1L90.1 21.1ZM133.1 152.9L132.8 152.8L133.1 152.9ZM153.1 163.7L152.8 163.6L153.1 163.7ZM153.6 164.1L153.1 164.1L153.4 163.8L153.6 164.1Z"/>
<path fill="none" stroke="#50505a" stroke-width="0.55" stroke-opacity="0.85" d="M111.9 89.3L113.4 88.1L113.9 86.3L113.3 84.8L111.9 84.3L110.9 84.6L109.9 85.3L109.1 87.3L109.3 88.3L109.9 89.1L110.9 89.5L111.9 89.3M110.8 92.8L112.9 92.2L114.6 91.1L116.1 89.3L116.9 87.3L117.1 85.3L116.6 83.3L115.4 81.8L113.9 81.1L111.6 81.1L109.1 82.1L107.2 84.1L106 86.6L105.9 89.1L106.9 91.3L108.6 92.6L110.8 92.8M111.1 96.1L114.1 94.9L116.9 92.8L118.9 90.1L120.1 87.1L120.4 83.8L119.6 81L117.9 78.9L115.4 77.7L113.6 77.5L111.6 77.8L109.6 78.5L107.6 79.7L104.6 82.8L103.5 84.8L102.9 86.8L102.6 88.8L102.7 90.8L103.4 92.8L104.4 94.2L105.7 95.3L107.4 96.1L109.4 96.3L111.1 96.1M108.3 99.8L112.4 98.9L116.7 96.6L120.1 93.3L122.5 89.3L123.7 84.8L123.4 80.3L122.7 78.3L121.7 76.8L120.4 75.6L118.9 74.7L116.4 74L113.6 74.1L111.1 74.7L108.4 75.9L105.9 77.5L103.6 79.6L101.7 82.1L100.4 84.6L99.6 87.3L99.2 90.3L99.5 93.1L100.4 95.6L101.9 97.6L103.6 98.8L105.6 99.6L108.3 99.8M108.3 103.3L110.6 102.8L113.6 101.6L118.9 98.3L122.9 94.3L125.7 89.3L126.6 86.6L127.2 83.6L127.3 80.6L126.9 77.8L126.1 75.6L124.9 73.6L123.4 72.2L121.4 71.1L118.1 70.3L114.6 70.5L111.4 71.4L107.6 73.1L104.3 75.3L101.4 78.1L99.1 81.1L97.2 84.6L96.1 88.3L95.7 92.3L96.2 96.1L97.4 99.1L99.2 101.3L101.6 102.7L104.6 103.4L108.3 103.3M105.1 107.3L108.4 106.8L110.9 106L115.1 103.9L118.9 101.6L121.8 99.3L124.3 96.8L126.4 94.1L128 91.3L129.5 87.8L130.5 84.1L131 80.3L130.9 76.8L130.2 73.6L129.1 71.1L127.6 69.1L125.4 67.6L122.1 66.5L118.1 66.5L113.1 67.4L109.6 69L104.9 71.7L100.8 74.8L97.4 78.6L94.9 82.6L93.1 87.3L92.1 92.3L92.1 97.1L93.2 101.3L95 104.3L97.6 106.3L101.1 107.3L105.1 107.3M101.6 111.6L105.6 110.9L110.1 109.6L118.1 105.2L121.9 102.6L125.1 99.8L127.9 96.8L130.3 93.3L132.3 89.3L133.8 84.8L134.7 80.1L135 75.3L134.7 71.3L133.8 68.1L132.3 65.6L130.1 63.7L126.9 62.5L122.9 62.1L118.1 62.7L112.9 64.2L105.9 68L100.4 71.8L96.1 75.8L92.7 80.6L90 86.3L88.4 92.6L88 99.1L88.7 104.3L90.4 107.8L93.1 110.2L96.9 111.5L101.6 111.6M166.4 9.8L167.2 14.1L168.6 16.9L170.6 18.7L173.1 19.3L176.4 18.7L180.2 16.8L184.5 13.6L188.4 9.8M97.8 116.1L102.9 115.2L108.4 113.5L110.4 112.7L116.4 109.2L121.7 105.8L125.9 102.6L129.5 99.1L132.4 95.3L135 90.8L137 85.8L138.5 80.1L139.5 73.8L139.7 68.6L139.2 64.6L137.9 61.6L135.9 59.6L134 58.6L131.6 57.9L126.1 57.7L119.9 58.7L112.9 61L104.6 65.8L98.8 69.8L94.1 74.1L90.5 78.6L87.1 85.1L84.7 92.6L83.4 101.3L83.3 105.1L83.7 108.3L84.3 110.6L85.1 112.2L86.3 113.6L87.9 114.7L92.1 116L97.8 116.1M56.7 164.1L55.8 159.8L54.4 156.9L52.4 155.1L49.9 154.5L46.6 155.1L42.6 157.1L38.4 160.3L34.5 164.1M162.9 9.8L163.4 16.1L164.8 23.6L166.4 26.7L167.4 27.6L168.6 28.2L170.1 28.4L172.1 28.1L176.9 26.1L182.9 22.1L189.1 16.7M93 120.6L97.4 120L101.6 119.1L110.4 115.9L126.2 105.6L130.6 101.8L134.3 97.6L137.4 92.8L140 87.3L142.2 80.8L144.1 73.1L145.4 65.6L145.7 60.6L145 57.1L143.4 54.9L141.4 53.9L138.9 53.3L131.4 53.1L123.6 54.2L115.9 56.6L112.4 58.1L98.4 67.1L92.9 71.6L88.8 76.1L86.5 79.3L84.5 83.1L81.1 91.8L78.1 105.1L77.4 110.3L77.3 114.1L77.7 116.1L78.4 117.6L79.6 118.8L81.1 119.7L85.9 120.6L93 120.6M60.1 164.1L59.7 157.8L58.2 150.3L56.6 147.1L55.6 146.2L54.4 145.6L52.9 145.4L50.9 145.7L46.4 147.6L40.6 151.4L34.1 156.8M160.6 9.8L160.8 28.8L160.4 34.1L159.3 41.1L159.6 42.3L161.1 42L164.6 40.5L172.9 35.9L180.9 30.2L189.1 23.3M67 129.3L80.1 125.9L98.6 123.1L106.1 120.8L110.6 118.8L126.8 108.1L133.1 103.1L136.2 99.8L139.1 96.1L141.6 91.8L143.8 87.1L146.3 80.3L156.1 51.1L157.4 46.6L157.6 44.6L157.1 44.3L156.1 44.4L141.6 48.1L125.1 50.6L117.4 52.8L112.4 55L96 65.8L89.8 70.8L86.3 74.6L83.4 78.6L80.8 83.1L78.5 88.6L65.9 126.1L65.4 129.1L65.9 129.5L67 129.3M62.4 164.1L62.2 145.1L62.6 139.8L63.7 132.6L63.4 131.5L61.6 131.9L58.1 133.4L50.1 137.9L42.4 143.4L34.1 150.3M158.8 9.8L158.6 19.6L157.7 28.1L155.9 33.5L152.9 37.8L148.6 41.3L142.1 44.4L136.4 46L122.1 48.4L117.9 49.7L113.4 51.6L112.1 52.2L105.4 57.2L93.1 65L87.2 69.6L82.2 74.8L78 81.3L74.8 87.8L66.6 107.6L63.3 114.1L59.9 119.4L56.3 123.8L52.2 128.1L34.1 144M64.2 164.1L64.4 155.1L65.3 145.8L67.1 140.3L70.1 136L72.2 134.1L74.6 132.4L81.1 129.3L86.9 127.8L101.1 125.4L105.4 124L109.8 122.1L117.4 116.8L129.9 108.8L135.7 104.3L140.7 99.1L145 92.6L148.1 86.1L156.4 66.1L159.7 59.8L163.2 54.3L166.6 50.1L170.7 45.8L189.1 29.6M157.3 9.8L157 18.1L155.8 26.8L153.9 31.8L150.9 36L146.1 39.7L143.1 41.4L140.1 42.6L134.6 44L121.1 46L117.4 47.1L113.1 49L111.9 49.6L105.1 54.9L90.2 64.1L83.9 68.8L79 73.8L75 79.6L71.8 85.6L63.4 103.5L60.1 109.3L56.8 114.3L52.9 119.3L48.5 124.1L34.1 137.7M110.1 25.6L110.1 24.1L110.1 25.6M65.7 164.1L65.9 155.8L67.2 147.1L69 142.1L72.1 137.8L74.4 135.8L77.1 134L82.9 131.2L88.6 129.7L101.9 127.8L105.6 126.7L109.8 124.8L111.1 124.2L117.9 118.9L132.6 109.8L139 105.1L143.9 100.1L147.9 94.3L151.1 88.3L159.6 70.3L162.9 64.5L166.4 59.3L170.1 54.5L174.6 49.6L189.1 35.9M112.9 149.6L112.9 148.2L112.9 149.6M156 9.8L155.7 17.6L154.4 25.8L152.5 30.6L149.4 34.7L147.1 36.6L143.9 38.8L138.6 41.2L132.6 42.5L120.6 43.7L117.1 44.7L113.4 46.3L111.6 47.2L107.9 50.6L103.4 53.8L87 63.3L80.7 67.8L75.8 72.6L71.8 78.1L68.6 83.6L60 100.3L53.6 110.3L45.7 119.8L34.1 131.3M110.3 25.6L110.6 24.1L110.1 22.9L110.1 25.8L110.3 25.6M67 164.1L67.2 156.3L68.6 148.1L70.6 143.1L73.6 139.1L75.9 137.2L79.1 135L84.4 132.6L90.4 131.3L102.4 130.1L105.9 129.1L109.6 127.5L111.4 126.6L115.1 123.2L119.6 120L135.9 110.6L142.5 105.8L147.3 101.1L151.3 95.6L154.5 90.1L163 73.6L169.5 63.3L177.4 53.8L189.1 42.3M112.9 150.8L112.9 148L112.4 149.6L112.9 150.8M154.9 9.8L154.6 17.1L153.2 25.3L151.3 29.8L148.1 33.8L142.4 37.9L137.4 40L131.6 41L119.9 41.7L117.1 42.4L113.6 43.8L111.4 45L107.1 49L101.9 52.7L83.9 62.3L77.2 66.8L72.4 71.3L68.3 76.6L65 81.8L56.4 97.6L50.2 106.8L43.2 115.3L34.1 124.7M110.2 25.8L111 24.6L111.3 23.6L110.9 22.6L110.1 21.9L110.2 25.8M68.1 164.1L68.3 156.8L69.8 148.6L71.8 143.8L74.9 140L80.4 136L85.4 133.9L91.4 132.8L103.1 132.1L105.9 131.4L109.4 130L111.6 128.8L115.9 124.8L121.1 121.1L138.9 111.6L145.9 106.9L150.5 102.6L154.8 97.1L158 91.8L166.6 76.2L172.9 66.8L179.9 58.3L189.1 48.9M112.9 151.8L112.9 148L112 149.1L111.7 150.1L112 151.1L112.9 151.8M154 9.8L153.7 16.8L152.1 24.8L150.2 29.3L147.1 33L141.6 36.8L136.4 38.9L130.6 39.7L119.9 39.7L117.1 40.2L114.1 41.3L111.4 42.7L106.6 47.3L100.6 51.5L94.6 54.7L80.5 61.3L73.6 65.6L69.3 69.3L65.4 73.8L62 78.8L53.6 93.2L48.6 100.9L42.1 109.2L34.1 117.8M110.3 25.8L111.7 24.6L112 22.8L111.8 21.8L110.1 20.9L110.3 25.8M69 164.1L69.3 157.1L70.8 149.1L72.8 144.6L75.9 140.8L81.4 137L86.6 134.9L92.4 134.1L103.1 134.1L105.9 133.6L108.9 132.5L111.6 131.1L116.4 126.5L122.4 122.3L128.1 119.2L142.6 112.4L149.6 108.1L153.8 104.3L157.5 100.1L160.9 95.1L169.4 80.6L174.5 72.8L181.1 64.4L189.1 55.8M112.9 152.8L112.9 147.9L111.4 149.1L111 150.8L111.3 152.1L112.9 152.8M153.1 9.8L152.8 16.6L151.2 24.6L149.2 28.8L146.1 32.4L140.6 36.1L135.4 37.9L129.6 38.5L119.6 37.8L116.9 38.2L114.4 39.1L111.1 40.7L108.8 43.3L106.1 45.9L99.4 50.5L92.6 53.8L77.1 60.1L69.9 64.2L65.1 68.1L60.9 72.8L57.6 77.6L45.6 96.6L40.2 103.6L34.1 110.4M110.4 25.8L111.7 25.3L112.5 24.1L112.5 22.3L111.9 20.2L110.1 20L110.1 25.8L110.4 25.8M69.9 164.1L70.2 157.3L71.8 149.3L73.9 144.8L77 141.3L82.4 137.7L87.6 135.9L93.4 135.3L103.4 136L106 135.6L108.4 134.8L111.9 133.1L114.3 130.3L116.9 127.9L123.9 123.2L130.4 120L146.2 113.6L153.2 109.6L157.8 105.8L162 101.1L165.5 96.1L173.1 83.6L177.5 77.1L182.9 70.1L189.1 63.1M112.9 153.6L112.9 147.9L111 148.8L110.4 150.8L111.1 153.6L112.9 153.8L112.9 153.6M152.4 9.8L152 16.3L150.3 24.3L148.3 28.6L145.1 31.9L139.9 35.4L134.6 37L129.1 37.3L119.1 36.1L116.9 36.3L114.6 36.9L110.9 38.8L108.5 41.8L105.6 44.5L102.1 47.1L98.1 49.5L90.4 52.9L73.4 58.7L65.9 62.5L60.9 66.3L56.3 71.3L52.9 76.1L42.4 92.1L34.1 102.4M111 25.8L112.4 25.3L113.2 23.6L112.9 21.3L111.9 18.9L110.1 19.1L110.1 25.8L111 25.8M70.6 164.1L71 157.3L72.7 149.3L74.8 145.1L78 141.8L83.1 138.4L85.6 137.5L88.6 136.8L93.9 136.5L103.9 137.7L105.9 137.6L108.1 137L112.1 135L114.4 132.1L117.4 129.3L121.1 126.5L125.1 124.2L132.6 120.9L149.7 115.1L157.1 111.3L162 107.6L166.6 102.6L170 97.8L180.6 81.7L189.1 71.1M111.7 154.8L112.9 154.7L112.9 147.8L110.8 148.3L110.1 149.1L109.8 150.1L109.9 151.8L110.4 153.6L111.1 154.9L111.7 154.8M151.7 9.8L151.3 16.3L149.4 24.6L148.4 26.8L146.9 29L142.9 32.5L138.1 35.1L132.6 36.3L127.9 36.1L118.4 34.3L114.9 34.7L110.9 36.9L107.8 40.8L104.1 44.1L100.6 46.5L96.6 48.7L88.1 52L69.6 57L61.9 60.3L56.6 64L51.9 68.9L48.1 73.8L39.1 87.1L34.1 93.6M112.4 26.1L113.5 25.1L113.9 23.1L113.2 20.3L111.9 17.7L110.1 18.2L110.1 25.8L111.6 26.2L112.4 26.1M71.3 164.1L71.7 157.6L73.7 149.1L74.7 146.8L76.1 144.8L80.1 141.3L84.9 138.7L90.4 137.5L95.4 137.7L104.6 139.5L108.1 139.1L112.1 136.9L115.1 133.1L118.9 129.7L122.4 127.3L126.1 125.2L134.9 121.8L153.3 116.8L157.4 115.3L161.1 113.4L166.4 109.8L171.2 104.8L175 99.8L184 86.6L189.1 79.9M111.2 156.1L112.9 155.6L112.9 147.8L111.4 147.6L110.4 147.8L109.7 148.3L109.1 150.3L109.7 153.3L111.2 156.1M151 9.8L150.4 17.3L149.3 22.3L148.3 25.3L147.2 27.3L145.6 29.2L140.9 32.8L136.4 34.8L130.9 35.4L125.6 34.7L117.1 32.2L115.1 32.2L113.6 32.9L110.9 35L107.6 39.4L104.1 42.7L100.1 45.4L95.6 47.7L91.1 49.5L85.9 51L65.1 55.1L57.9 57.6L52.5 60.8L47.6 65.3L43.3 70.6L34.1 83.4M113.2 26.8L113.9 26.5L114.4 25.7L114.6 23.1L113.8 20.1L111.9 16.5L110.1 17.4L110.1 25.8L111.6 26.6L113.2 26.8M72 164.1L72.6 156.3L73.7 151.3L74.7 148.6L75.8 146.6L77.4 144.6L82.1 141L86.6 139L91.9 138.4L97.4 139.1L105.9 141.6L108.1 141.5L112.1 138.8L115.2 134.6L118.6 131.3L122.9 128.4L127.4 126.1L132.1 124.2L137.1 122.8L157.6 118.8L165.3 116.1L170.7 112.8L175.6 108.3L179.8 103.1L189.1 90M111.5 157.1L112.9 156.4L112.9 147.8L111.1 147.1L109.9 147L109.1 147.3L108.5 148.3L108.5 151.1L109.3 153.8L110.9 157.2L111.5 157.1M150.4 9.8L149.8 17.3L148.7 22.1L147.6 25.1L146.5 27.1L144.9 28.9L139.6 32.7L135.1 34.3L129.9 34.5L124.6 33.4L120.6 31.9L117.9 30.5L116.5 29.3L115.9 28.3L114.9 21.6L113.8 18.8L111.9 15.3L110.1 16.5L110.1 25.8L112.7 28.3L113.1 29.3L112.9 30.3L107.6 37.9L102.9 42.3L96.1 46.2L88.1 48.9L80.9 50.3L61.4 52.4L56.4 53.5L52.1 55L47.4 57.5L43.2 60.8L39.1 65.2L34.1 71.8M72.6 164.1L73.2 156.6L74.3 151.6L75.4 148.6L76.6 146.6L78.2 144.8L83.4 141.1L87.9 139.5L93.1 139.3L98.4 140.4L102.1 141.8L105.1 143.3L106.4 144.3L107 145.3L108 152.1L109.1 154.8L111.1 158.5L112.9 157.3L112.9 148.1L112.9 147.7L111.8 147.1L110.2 145.3L109.9 144.6L110 143.6L115.4 135.9L120.1 131.5L126.9 127.6L134.6 124.9L142.1 123.5L161.9 121.4L166.9 120.2L171.1 118.7L175.6 116.3L179.9 112.8L184.1 108.3L189.1 101.7M149.8 11.6L149.5 15.3L148.8 19.1L147.8 23.1L146.7 25.6L143.9 28.9L140.6 31.3L138.1 32.7L133.9 33.7L129.6 33.7L124.9 32.5L119.5 29.8L117.5 27.6L115.1 20.3L112.1 13.9L111.9 13.8L110.1 15.7L110.1 25.8L111.1 27.1L111.6 28.8L110.9 31.5L109.4 34.1L106.1 38.2L103.1 40.8L99.6 43.2L96.1 45L92.6 46.4L84.4 48.3L75.9 48.9L57.4 49.2L49.1 50.4L44.9 51.8L41.1 53.6L37.6 56.1L34.1 59.4M73.2 162.1L73.5 158.6L74.2 154.6L75.2 150.8L76.3 148.3L77.5 146.6L79.1 144.9L82.4 142.5L84.9 141.1L89.4 140L93.6 140.2L98.1 141.3L101.4 142.7L103.6 144L104.9 145.2L105.7 146.6L107.8 153.3L111.1 160L112.9 158.1L112.9 147.8L111.8 146.6L111.4 144.8L112.1 142.3L113.6 139.7L116.9 135.6L119.9 133L123.4 130.6L126.6 128.9L130.4 127.4L138.6 125.5L147.1 124.9L165.6 124.6L173.9 123.4L178.1 122L182 120.1L185.6 117.5L189.1 114.1M149 14.3L147.4 22.3L145.6 26.1L144.1 27.8L141.6 29.8L139.1 31.5L136.6 32.5L132.4 33.1L128.4 32.7L124.4 31.4L120.1 29L118.1 26.3L115.6 20.1L112.3 12.8L111.6 12.6L110.1 14.8L110 25.8L110.8 27.1L111 28.3L110.2 31.3L107.5 35.3L104.4 38.6L100.9 41.3L96.4 43.7L89.9 46L82.6 47.1L72.1 47.1L54.9 45.4L48.1 45.2L40.6 46.1L37.3 47.1L34.1 48.4M149.1 13.3L149.1 13.4M73.9 159.6L75.7 151.3L77.3 147.8L78.9 146L81.4 144L83.9 142.3L86.4 141.3L90.4 140.7L94.6 141.1L98.6 142.4L102.9 144.8L104.9 147.4L107.3 153.6L110.6 160.8L111.4 161.2L112.9 159L113 148.1L112.2 146.6L112 145.3L112.7 142.6L115.4 138.7L118.4 135.4L121.9 132.7L126.4 130.2L132.9 127.9L140.1 126.7L150.9 126.7L168.1 128.4L175.1 128.6L182.6 127.6L186.1 126.6L189.1 125.2M148.1 17.1L146.1 24.1L144.9 26.1L143.4 27.7L139.6 30.5L137.1 31.7L133.6 32.4L130.4 32.4L125.4 31L122.4 29.5L120.1 27.7L118.3 24.8L113.5 14.6L112.7 12.3L111.1 11.9L110.1 13.8L110 25.8L110.5 27.1L110.6 28.3L110.2 30.1L109.1 32L105.1 36.8L100.6 40.4L94.9 43.3L88.6 45.1L81.6 45.9L73.1 45.5L66.1 44.4L45.6 40.1L39.4 39.5L34.1 39.6M148.2 16.3L148.1 16.8M74.9 156.8L76.8 149.8L78 147.8L79.6 146.1L83.4 143.3L85.9 142.1L89.4 141.4L92.6 141.4L97.6 142.8L100.6 144.3L102.9 146.1L104.6 148.8L109.6 159.3L110.3 161.6L111.9 161.9L112.9 160L113 148.1L112.4 146.6L112.4 145.3L112.9 143.6L113.9 141.8L118.1 136.8L122.4 133.4L128.1 130.5L134.4 128.7L141.4 127.9L149.9 128.3L157.1 129.4L177.4 133.7L183.9 134.4L189.1 134.2M74.8 157.3L74.9 157M147.1 19.3L146.1 22.8L144.8 25.3L143.1 27.2L139.9 29.7L137.4 31L134.9 31.7L131.9 31.9L128.9 31.4L124.4 29.7L120.6 27L118.9 24.4L114.5 15.6L113.1 11.8L110.6 11.3L110.1 12.5L110 25.8L110.3 27.8L109.8 29.6L108.6 31.6L104.1 36.6L99.1 40.3L93.1 43L86.4 44.4L78.6 44.5L69.1 43.1L62.1 41.2L41.6 34.1L34.1 32.5M147.2 18.8L147.1 19.1M76 154.3L76.9 151.1L78.3 148.3L79.9 146.6L83.1 144.1L85.4 142.9L88.1 142.1L91.1 141.9L94.1 142.4L98.6 144.1L100.6 145.3L102.4 146.8L104.1 149.4L108.6 158.3L110 162.1L112.4 162.6L112.9 161.3L113 148.1L112.7 146.1L113.1 144.3L114.4 142.2L118.9 137.2L123.9 133.5L129.9 130.8L136.6 129.4L144.4 129.3L153.9 130.7L160.9 132.6L181.6 139.7L189.1 141.3M75.8 155.1L75.9 154.7M145.1 23.8L143.9 25.7L142.1 27.3L139.1 29.5L136.9 30.6L134.4 31.2L132.1 31.3L126.9 30.2L122.9 28.1L120.4 25.6L114.7 15.1L113.4 11.2L110.1 10.7L110.1 27.3L109.5 29.3L108.1 31.3L103.1 36.5L97.6 40.1L91.4 42.5L87.9 43.2L84.1 43.5L80.4 43.4L75.1 42.8L66.9 40.7L55.9 36.2L41.6 29.3L34.1 26.7M145.9 21.8L145.9 21.9M145.7 22.3L145.6 22.7M145.6 22.8L145.4 23.3M145.3 23.3L145.1 23.8M77.5 150.8L78.6 148.8L79.9 147.3L83.1 144.8L85.6 143.4L87.9 142.7L90.6 142.5L95.9 143.5L99.9 145.6L102.6 148.2L108.3 158.8L109.6 162.6L112.9 163.1L112.9 146.6L113.5 144.6L114.9 142.5L119.9 137.3L125.4 133.7L131.6 131.3L138.6 130.3L142.6 130.4L147.6 131L155.9 133L167.1 137.6L181.4 144.5L189.1 147.1M77.3 151.3L77.4 151.1M77.1 152.1L77.1 151.9M142.8 26.1L138.6 29.2L135.4 30.5L131.1 30.7L126.4 29.4L122.9 27.2L120.6 24.8L115.1 14.8L113.8 10.8L110.1 10.1L110 26.8L109.4 28.6L107.9 30.8L102.4 36.2L99.6 38.1L96.4 39.9L93.1 41.1L89.9 42L86.4 42.5L82.6 42.5L73.9 41.3L66.1 38.7L55.4 33.3L43.6 26.1L34.1 21.8M143.6 25.3L143.4 25.5M143.3 25.6L143.1 25.8M143.1 25.8L142.9 26M79.8 148.1L84.1 144.7L87.6 143.3L91.9 143.1L96.6 144.4L99.9 146.4L102.4 148.9L107.9 159.1L109.3 163.1L112.9 163.7L113 147.1L113.6 145.2L115.1 143L120.6 137.6L126.4 134.1L129.6 132.7L132.9 131.9L136.4 131.4L140.1 131.3L148.9 132.5L156.6 135L167.3 140.3L179.5 147.8L189.1 152.1M79.6 148.3L79.6 148.3M79.4 148.6L79.4 148.5M110.1 9.8L110 26.1L108.9 28.8L103.6 34.3L99.4 37.4L93.6 40.1L87.4 41.5L82.9 41.6L77.9 40.9L72.6 39.7L67.9 37.9L56.9 31.8L45.1 23.3L34.1 17.6M141.2 26.8L137.6 29.2L133.9 30.2L129.6 29.9L125.6 28.3L122.4 26.1L120.6 23.8L115.4 14.4L114.5 12.3L114.2 10.3L111.5 9.8M141.5 26.6L141.4 26.7M112.9 164.1L113 147.8L113.4 146.4L114.1 145L119.4 139.5L123.6 136.4L129.4 133.7L135.6 132.3L140.1 132.2L145.4 132.9L150.4 134.1L155.1 135.9L166.2 142.1L177.9 150.5L189.1 156.3M82 146.8L85.6 144.5L89.4 143.6L93.6 144L97.4 145.5L100.6 147.8L102.5 150.1L107.6 159.3L108.4 161.3L108.9 163.5L112.3 164.1M81.7 147.1L81.9 146.9M81.4 147.3L81.4 147.3M110.1 9.8L110 25.8L108.9 28.2L102.9 34.1L98.6 37.1L92.9 39.6L86.6 40.7L82.4 40.6L77.1 39.8L72.6 38.5L68.1 36.6L57.4 29.9L45.9 20.6L39.7 16.8L34.1 14M138.3 28.3L135.1 29.5L131.4 29.7L127.4 28.6L123.6 26.4L120.9 23.3L115.9 14.6L115 12.3L114.5 9.8M138.7 28.1L138.6 28.1M112.9 164.1L113 147.8L114.1 145.6L120.1 139.7L124.4 136.7L130.1 134.2L136.4 133.1L140.9 133.2L145.9 134L150.6 135.4L154.9 137.2L165.6 143.8L177.1 153.2L183.6 157.1L189.1 159.9M84.9 145.3L87.9 144.3L91.6 144.1L95.6 145.2L99.4 147.4L101.3 149.3L102.9 151.8L107.4 159.8L108.1 161.8L108.4 163.9L109.1 164.1M84.5 145.6L84.9 145.4M84.1 145.8L84.4 145.7M83.8 146.1L83.9 146M110.1 9.8L110 25.8L109.1 27.4L102.4 33.7L98.1 36.6L92.1 39.1L85.9 40L81.9 39.7L76.6 38.6L72.4 37.3L68.4 35.3L58.2 28.6L47.9 19.2L45.6 17.6L39.4 13.6L34.1 11M136.1 28.8L132.9 29.3L129.1 28.7L126.4 27.6L123.1 25.2L120.9 22.4L116.2 14.1L115.2 11.8L115 9.8M112.9 164.1L113 147.8L113.9 146.4L120.6 140.1L124.9 137.2L130.9 134.7L137.1 133.8L141.4 134.1L146.6 135.2L150.6 136.5L154.6 138.5L164.6 145.1L175.1 154.6L177.4 156.2L183.6 160.2L189.1 162.9M87.4 144.8L90.6 144.5L94.1 145.2L96.9 146.4L99.9 148.6L102.1 151.3L106.8 159.6L107.7 161.8L108 164.1M86.6 145.1L86.6 145.1M110.1 9.8L109.9 26.2L101.9 33.4L97.9 36L91.9 38.5L85.9 39.2L81.9 38.9L76.6 37.7L72.6 36.3L68.9 34.3L59 27.3L47.4 16.2L42.6 12.8L37.6 9.8M115.6 11.8L115.5 11.1M115.9 12.5L115.7 12.1M116.1 13.1L115.9 12.6M133.7 28.8L131.1 28.7L128.4 28L126.4 27L123.9 25.3L121.6 22.6L116.1 13.1M112.9 164.1L113.1 147.6L121.1 140.4L125.1 137.8L130.9 135.4L137.1 134.6L141.1 134.9L146.4 136.1L150.4 137.5L154.3 139.6L163.9 146.4L175.6 157.6L180.4 161L185.6 164.1M90.1 144.9L92.6 145.3L95.1 146L99.6 149L101.8 151.8L106.8 160.6M106.9 160.7L107 161.1M107.1 161.3L107.3 161.8M107.4 162L107.5 162.8M110.1 9.8L109.9 26.2L100.9 33.4L97.4 35.6L91.9 37.8L86.1 38.5L82.1 38.2L76.9 36.9L72.9 35.4L69.2 33.3L60.4 26.8L54.3 20.8L49.9 15.9L45.9 12.6L41.8 9.8M117.9 15.4L117.8 15.3M118.1 15.8L118 15.6M118.4 16.2L118.3 16.1M118.6 16.6L118.4 16.3M118.9 17.1L118.7 16.8M119.1 17.5L118.9 17.1M119.4 18L119.2 17.6M128.4 27.5L125.9 26.2L123.1 23.9L119.4 18.1M129.1 27.8L128.5 27.6M129.9 28L129.3 27.8M130.6 28.2L130.2 28.1M112.9 164.1L113.1 147.6L122.1 140.4L125.6 138.2L131.1 136L136.9 135.3L140.9 135.6L146.1 136.9L149.9 138.3L153.6 140.4L162.6 147L168.8 153.1L173.1 157.9L177.1 161.2L181.4 164.1M91.9 145.6L92 145.6M92.9 145.7L93.2 145.8M93.4 145.9L94.1 146.1M94.1 146.1L94.8 146.3M94.9 146.4L95.4 146.6M95.4 146.6L98.4 148.5L100.1 150.1L103.3 155.3M103.4 155.4L103.6 155.8M103.6 155.8L104 156.6M104.1 156.7L104.3 157.1M104.4 157.2L104.5 157.3M104.6 157.6L104.8 157.8M104.9 158L104.9 158.1M110.1 9.8L109.9 26.1L104.4 29.8L100 33.3L96.9 35.2L91.6 37.2L86.4 37.9L82.4 37.5L77.1 36.1L73.4 34.7L69.8 32.6L60.8 25.6L54.9 19.6L50.6 14.3L45.2 9.8M121.6 21.1L121.6 21.1M122.1 21.9L122.1 21.8M122.6 22.6L122.6 22.6M122.9 23L122.8 22.8M124.9 24.9L124.8 24.8M125.1 25.1L125.1 25.1M112.9 164.1L113.1 147.7L118.4 144.1L123.1 140.4L126.4 138.5L131.4 136.6L136.6 135.9L140.6 136.3L145.9 137.7L149.6 139.1L153.1 141.2L162.1 148.1L168.1 154.3L172.2 159.3L178 164.1M97.6 148.5L97.7 148.6M98.6 149.3L98.7 149.3M98.9 149.5L98.9 149.6M99.1 149.8L99.2 149.8M99.4 150L99.5 150.1M99.6 150.2L99.7 150.3M99.9 150.5L99.9 150.6M100.1 150.8L100.1 150.8M100.4 151.2L100.5 151.3M100.6 151.5L100.7 151.6M101.1 152.3L101.1 152.3M110.1 9.8L109.9 26.1L105.8 28.3L99.6 33L96.1 35L91.4 36.7L86.4 37.2L82.4 36.8L77.4 35.4L73.6 33.9L70.4 31.9L61 24.3L55.7 18.6L51.6 13.2L47.9 9.8M112.9 164.1L113.1 147.7L117.1 145.6L123.4 140.8L126.9 138.8L131.6 137.1L136.6 136.6L140.6 137L145.6 138.4L149.4 139.9L152.6 141.9L158.4 146.3L162.1 149.6L167.4 155.3L171.4 160.6L175.2 164.1M110.1 9.8L109.9 26L105.8 27.8L99.1 32.7L95.6 34.6L91.1 36.1L86.6 36.6L82.9 36.3L78.1 34.9L74.4 33.4L71 31.3L64.7 26.3L61.2 23.1L56.1 17.3L52.4 12L50.2 9.8M112.9 164.1L113.1 147.7L117.4 145.8L123.9 141.1L127.4 139.2L131.9 137.7L136.4 137.2L140.1 137.5L144.9 138.9L148.6 140.4L152.1 142.6L158.7 147.8L161.9 150.8L167 156.6L170.6 161.8L172.9 164.1M110.1 9.8L109.9 26L107.9 26.4L105.4 27.6L98.6 32.4L95.1 34.2L91.1 35.6L86.9 36.1L83.1 35.7L78.9 34.5L74.9 32.9L71.6 30.8L64.9 25.3L61.4 21.9L57 16.8L52.1 9.8M112.9 164.1L113.1 147.8L115.1 147.4L117.4 146.3L124.4 141.4L127.9 139.6L131.9 138.2L136.1 137.7L139.9 138.1L144.4 139.4L148.1 140.9L151.5 143.1L158.2 148.6L161.6 151.8L165.8 156.8L169.9 162.8L171 164.1M110.1 9.8L109.9 26L107.9 26.1L105.4 27.1L103.1 28.4L98.1 32.1L94.6 33.9L90.9 35.1L86.9 35.5L83.4 35.2L79.1 33.9L75.4 32.4L72.1 30.3L65.3 24.6L61.6 20.9L57.4 15.7L53.7 9.8M112.9 164.1L113.1 147.8L115.1 147.7L117.6 146.7L119.9 145.4L124.9 141.7L128.4 139.9L132.1 138.7L136.1 138.3L139.6 138.6L143.9 139.9L147.6 141.4L151 143.6L157.8 149.3L161.3 152.8L165.6 158.1L169.4 164.1M110 9.8L109.9 25.9L107.9 25.8L105.1 26.8L102.8 28.1L97.9 31.7L94.1 33.6L90.6 34.7L87.1 35L83.6 34.7L79.6 33.5L75.7 31.8L72.6 29.8L65.6 23.9L62.2 20.3L58 15.1L54.9 9.8M113 164.1L113.1 147.9L115.1 148L117.9 147L120.1 145.8L125.1 142.1L128.9 140.2L132.4 139.1L135.9 138.8L139.4 139.1L143.6 140.4L147.4 142L150.4 144L157.2 149.8L161.1 153.8L165.1 158.8L168.1 164.1M110 9.8L109.9 25.9L107.9 25.6L105.6 26.1L102.6 27.7L98.4 30.9L95.6 32.4L91.6 33.9L88.1 34.5L84.9 34.3L81.6 33.6L76.9 31.7L73.9 30L64.4 21.6L59.9 16.3L57.4 12.6M56.1 10.2L56.1 10.1M56.4 10.6L56.3 10.6M56.6 11.1L56.6 11.1M56.9 11.6L56.7 11.3M57.1 12L57 11.8M57.4 12.5L57.1 12.1M113 164.1L113.1 147.9L115.1 148.2L117.4 147.7L120.4 146.1L124.6 142.9L127.4 141.4L131.1 139.9L134.6 139.3L137.9 139.4L140.9 140.1L145.9 141.9L148.9 143.6L158.1 151.7L162.8 157.1L165.3 160.8M165.4 160.9L165.8 161.6M165.9 161.8L166 162.1M166.1 162.2L166.2 162.3M166.4 162.7L166.4 162.8M166.6 163.2L166.7 163.3M110 9.8L109.9 25.9L107.9 25.3L105.1 25.9L102.4 27.3L96.6 31.4L91.1 33.6L87.9 34L84.6 33.8L81.1 32.9L77.1 31.2L73.4 28.8L64.6 20.8M113 164.1L113.1 148L115.1 148.5L117.9 147.9L120.9 146.3L126.4 142.4L131.6 140.3L134.6 139.8L138.1 140L141.4 140.8L145.6 142.4L149.4 144.8L158 152.6M158.1 152.7L158.2 152.8M158.4 153L158.5 153.1M158.6 153.3L158.7 153.3M158.9 153.5L158.9 153.6M159.1 153.8L159.1 153.8M110 9.8L109.9 25.8L109.1 25.3L107.9 24.9L104.9 25.5L101.9 27.1L96.8 30.8L92.6 32.7L89.6 33.4L86.6 33.5L83.9 33.2L80.6 32.1L75.1 29.4L68.4 23.6M67.6 22.9L67.6 22.8M67.9 23.1L67.8 23.1M68.4 23.6L68.1 23.3M113 164.1L113.1 148L115.1 148.9L118.1 148.3L121.1 146.7L126.1 143L130.4 141.1L133.4 140.4L136.4 140.3L139.1 140.6L142.4 141.7L147.9 144.4L154.7 150.3M154.9 150.5L155 150.6M155.1 150.7L155.3 150.8M110 9.8L109.9 25.7L109.1 25L108.1 24.6L105.4 24.9L101.9 26.6L97.4 30L94.6 31.5L90.9 32.7L87.1 33.1L83.4 32.6L77.6 30.3L74.9 28.6L71.2 25.3M70.1 24.3L70.1 24.3M70.9 25L70.7 24.8M71.1 25.3L70.9 25.1M113 164.1L113.1 148.1L113.9 148.8L114.9 149.2L117.6 148.9L121.1 147.2L125.6 143.8L128.4 142.3L132.1 141.1L135.9 140.7L139.6 141.2L145.4 143.5L148.1 145.2L152.2 148.8M152.4 149L152.4 149.1M110 9.8L109.9 25.6L109.1 24.7L108.1 24.3L106.6 24.2L105.1 24.5L101.5 26.3L97.4 29.5L95.1 30.8L91.4 32.2L88.4 32.7L85.1 32.5L81.9 31.6L77.4 29.6L74.5 27.6M73.1 26.3L73.1 26.3M73.9 27L73.7 26.8M74.1 27.3L73.9 27.1M74.4 27.5L74.2 27.3M113 164.1L113.1 148.2L113.9 149.1L114.9 149.5L116.4 149.6L117.9 149.3L121.6 147.4L127.6 143.1L131.4 141.7L134.4 141.1L137.6 141.3L140.9 142.1L145.6 144.2L148.4 146.1M148.4 146.1L148.9 146.6M149.1 146.8L149.2 146.8M149.4 147L149.5 147.1M149.6 147.2L149.7 147.3M110 9.8L109.9 25.4L109.1 24.3L108.1 23.9L106.6 23.8L104.9 24.2L101.1 26.1L95.4 30.2L92.4 31.5L89.4 32.2L86.6 32.3L84.1 31.9L77.4 29.1M76.6 28.6L76.6 28.6M77.1 28.9L77 28.8M113 164.1L113.1 148.4L113.9 149.5L114.9 149.9L116.4 150L118.1 149.6L121.9 147.7L127.6 143.6L130.9 142.2L133.6 141.6L136.4 141.5L138.9 141.9L145.3 144.6M145.4 144.6L145.8 144.8M146.1 145L146.2 145.1M110 9.8L109.9 24.9L109.1 23.9L107.9 23.3L106.4 23.3L104.6 23.8L100.9 25.7L95.6 29.7L92.9 30.9L90.1 31.7L85.4 31.7L80.5 30.1M80.4 30L79.9 29.8M113 164.1L113.1 148.9L113.9 149.9L115.1 150.5L116.6 150.5L118.4 150L122.1 148.1L127.5 144.1L130.1 142.9L132.9 142.1L137.6 142.1L142.7 143.8M143.1 144L143.3 144.1M110 9.8L109.9 24.1L109.1 23.3L108.1 22.9L105.1 23.1L101.4 24.9L96.4 28.8L93.6 30.2L89.6 31.4L85.5 31.3M82.9 30.6L82.8 30.6M83.9 30.9L83.5 30.8M85.1 31.3L84.4 31.1M113 164.1L113.1 149.7L113.9 150.5L114.9 150.9L117.9 150.7L121.3 149.1L126.6 145L129.6 143.5L133.9 142.4L138 142.6M138.6 142.7L139 142.8M139.6 143L139.7 143.1M140.4 143.3L140.4 143.3M110 9.8L109.9 23.2L108.9 22.5L107.6 22.3L104.6 22.8L100.4 25.1L95.1 29.1L92.1 30.4L89.4 31M88.9 31.1L87.6 31.1M133.3 142.8L134.4 142.7M113 164.1L113.1 150.6L114.1 151.3L115.4 151.5L118.6 150.9L122.6 148.7L127.9 144.7L130.4 143.6L133.1 142.8M110 9.8L109.9 22.2L107.4 21.7L103.9 22.6L100.1 24.8L95.6 28.4L92.1 30M91.9 30.1L91.6 30.2M91 30.3L90.9 30.4M131.6 143.6L131.9 143.5M130.8 143.8L131.1 143.7M113 164.1L113.1 151.6L115.6 152.1L119.1 151.2L122.9 149L127.4 145.4L130.6 143.9M110 9.8L109.9 21.3L107.1 21.1L103.6 22.2L99.9 24.5L95.9 27.8M95.9 27.8L95.6 28M95.5 28.1L95.4 28.2M95.1 28.3L94.9 28.5M94.6 28.6L94.6 28.6M94.1 28.8L94.1 28.8M127.7 145.6L127.9 145.5M127.4 145.8L127.6 145.6M127 146.1L127.1 146M126.7 146.3L126.9 146.2M113 164.1L113.1 152.5L115.9 152.7L118.9 151.8L123.1 149.3L126.6 146.3M110 9.8L109.9 20.4L106.9 20.6L103.9 21.6L100.4 23.7L97.6 26M97.5 26.1L97.4 26.2M97.2 26.3L97.1 26.4M96.9 26.6L96.9 26.6M126 147.3L126.1 147.2M125.7 147.6L125.9 147.4M125.4 147.8L125.6 147.6M113 164.1L113.1 153.4L116.1 153.2L119.1 152.2L122.7 150.1L125.4 147.8M110 9.8L109.9 19.6L107.1 19.9L104.4 20.9L101.1 22.7L98.4 24.8M125.1 148.6L125.1 148.5M124.8 148.8L124.9 148.7M124.5 149.1L124.6 149M113 164.1L113.1 154.2L115.9 153.9L118.6 152.9L121.4 151.4L124.4 149.2M109.9 9.8L109.9 18.7L104.6 20.3L99.1 23.7M99 23.8L98.9 23.9M123.9 150.1L124.1 149.9M113.1 164.1L113.1 155.1L118.4 153.6L123.9 150.1M109.9 9.8L109.9 17.9L104.4 19.8L99.9 22.7M99.7 22.8L99.6 22.9M123.5 150.8L123.6 150.7M123.2 151.1L123.4 150.9M113.1 164.1L113.1 155.9L118.6 154L123.1 151.1M109.9 9.8L109.9 17.1L104.6 19.2L100.4 21.8M122.8 151.8L122.9 151.8M113.1 164.1L113.1 156.7L118.4 154.6L122.6 152M109.9 9.8L109.9 16.3L104.4 18.8L101.1 20.8M101.1 20.8L100.9 21M122.1 152.8L122.1 152.8M113.1 164.1L113.1 157.5L118.6 155L121.9 153M109.9 9.8L109.9 15.4L101.9 19.8M101.9 19.8L101.6 20M101.5 20.1L101.4 20.2M113.1 164.1L113.1 158.4L121.4 153.8M109.9 9.8L109.9 14.5L102.4 19M102.3 19.1L102.1 19.2M113.1 164.1L113.1 159.3L120.6 154.8M109.9 9.8L109.7 13.8L108.2 15.1L103.1 18M103 18.1L102.9 18.2M119.8 155.8L119.9 155.8M113.1 164.1L113.3 160.1L114.6 158.8L119.6 155.9M109.9 9.8L109.9 12.4L109.1 13.5L107.9 14.7L104.4 16.7M104.2 16.8L104.1 16.9M119 156.8L119.1 156.8M113.1 164.1L113.1 161.4L113.8 160.3L115.1 159.1L118.9 156.9M109.9 9.8L109.6 11.6L108.8 13.1L107.6 14.2L105.6 15.5M105.5 15.6L105.4 15.6M117.8 158.1L117.9 158M113.1 164.1L113.5 162.1L114.3 160.6L117.6 158.2M109.3 9.8L108.7 12.3L107.1 14M109.9 9.8L109.6 9.8M107 14.1L106.9 14.2M106.7 14.3L106.6 14.4M116.5 159.3L116.6 159.3M116.2 159.6L116.4 159.4M113.1 164.1L113.7 163.8L114 162.3L114.6 161.1L116.1 159.6M108.8 9.8L108.4 11.8M108.4 11.8L108.1 12.3M107.9 12.6L107.9 12.6M115 161.3L115.1 161.2M114.7 161.8L114.9 161.5M114.2 164.1L114.6 162"/>
<path fill="#fff" stroke="#c0282a" stroke-width="0.6" d="M-130.4 -60L69.6 9.7L70.1 10.3L70.7 11.2L71.4 12.2L72.2 13.3L73.1 14.4L74 15.5L74.9 16.6L76 17.7L77.1 18.9L78.2 20L79.3 21L80.3 21.8L81.3 22.4L82.3 22.8L83.3 23.1L84.2 23.3L85.2 23.3L86 23.3L86.8 23.2L87.5 22.9L88.1 22.5L88.8 22L89.4 21.5L90 21L90.5 20.5L91 20L91.4 19.5L91.9 18.9L92.5 18.2L93.5 17.4L94.9 16.4L96.7 15.2L98.7 13.8L100.7 12.5L102.3 11.2L103.5 10L103.9 8.8L103.6 7.7L103.1 6.5L102.6 5.5L102.6 4.6L103.5 4L105.5 3.6L108.5 3.3L112 3.2L115.5 3.3L118.5 3.6L120.5 4L121.4 4.6L121.5 5.5L121.1 6.5L120.6 7.7L120.3 8.8L120.5 10L121.4 11.2L122.6 12.6L124.1 14L125.6 15.3L126.9 16.5L128 17.4L128.8 18L129.4 18.3L129.9 18.5L130.3 18.5L130.7 18.6L131 18.8L131.3 19.1L131.4 19.3L131.5 19.6L131.5 19.9L131.7 20.2L132 20.5L132.5 20.8L133 21.3L133.6 21.7L134.3 22L135 22.3L135.7 22.4L136.4 22.4L137.2 22.3L137.9 22L138.7 21.7L139.4 21.2L140 20.5L140.6 19.5L141.1 18.3L141.5 16.8L141.9 15.4L142.3 14.1L142.6 13L142.8 12.2L143 11.5L143.1 10.9L143.1 10.4L143.2 10L143.2 9.7L343.2 -60Z"/>
<path fill="#fff" stroke="#c0282a" stroke-width="0.6" d="M353.4 233.8L153.4 164.1L152.9 163.5L152.3 162.6L151.6 161.6L150.8 160.5L149.9 159.4L149 158.3L148.1 157.2L147 156.1L145.9 154.9L144.8 153.8L143.7 152.8L142.7 152L141.7 151.4L140.7 151L139.7 150.7L138.8 150.5L137.8 150.5L137 150.5L136.2 150.6L135.5 150.9L134.9 151.3L134.2 151.8L133.6 152.3L133 152.8L132.5 153.3L132 153.8L131.6 154.3L131.1 154.9L130.5 155.6L129.5 156.4L128.1 157.4L126.3 158.6L124.3 160L122.3 161.3L120.7 162.6L119.5 163.8L119.1 165L119.4 166.1L119.9 167.3L120.4 168.3L120.4 169.2L119.5 169.8L117.5 170.2L114.5 170.5L111 170.6L107.5 170.5L104.5 170.2L102.5 169.8L101.6 169.2L101.5 168.3L101.9 167.3L102.4 166.1L102.7 165L102.5 163.8L101.6 162.6L100.4 161.2L98.9 159.8L97.4 158.5L96.1 157.3L95 156.4L94.2 155.8L93.6 155.5L93.1 155.3L92.7 155.3L92.3 155.2L92 155L91.7 154.7L91.6 154.5L91.5 154.2L91.5 153.9L91.3 153.6L91 153.3L90.5 153L90 152.5L89.4 152.1L88.7 151.8L88 151.5L87.3 151.4L86.6 151.4L85.8 151.5L85.1 151.8L84.3 152.1L83.6 152.6L83 153.3L82.4 154.3L81.9 155.5L81.5 157L81.1 158.4L80.7 159.7L80.4 160.8L80.2 161.6L80 162.3L79.9 162.9L79.9 163.4L79.8 163.8L79.8 164.1L-120.2 233.8Z"/>
<g><radialGradient id="hga" cx="111" cy="27" r="20" gradientUnits="userSpaceOnUse"><stop offset="0" stop-color="#9098b0"/><stop offset="0.3" stop-color="#50545e"/><stop offset="0.65" stop-color="#1a1a1c"/><stop offset="1" stop-color="#050505"/></radialGradient><path d="M90 19L93.5 17.4L103.5 10L103.5 8L120.5 8L120.5 10L128 17.4L131.5 19C130 24 125 30 120 34C116 38 106 38 102 34C97 30 92 24 90 19Z" fill="url(#hga)" filter="url(#bl05)"/><circle cx="96" cy="21.2" r="3" fill="#050505" filter="url(#bl05)"/><circle cx="103.5" cy="30" r="3" fill="#050505" filter="url(#bl05)"/><circle cx="108.5" cy="35" r="3" fill="#050505" filter="url(#bl05)"/><circle cx="114.2" cy="35" r="3" fill="#050505" filter="url(#bl05)"/><circle cx="119.2" cy="30" r="3" fill="#050505" filter="url(#bl05)"/><circle cx="126.1" cy="21.2" r="3" fill="#050505" filter="url(#bl05)"/><circle cx="97.9" cy="33" r="2.2" fill="#e0d860" opacity="0.85" filter="url(#bl1)"/><circle cx="124.8" cy="31.8" r="2.2" fill="#e0d860" opacity="0.85" filter="url(#bl1)"/><circle cx="96" cy="21.2" r="1.25" fill="#fff" filter="url(#bl05)"/><circle cx="103.5" cy="30" r="1.25" fill="#fff" filter="url(#bl05)"/><circle cx="108.5" cy="35" r="1.25" fill="#fff" filter="url(#bl05)"/><circle cx="114.2" cy="35" r="1.25" fill="#fff" filter="url(#bl05)"/><circle cx="119.2" cy="30" r="1.25" fill="#fff" filter="url(#bl05)"/><circle cx="126.1" cy="21.2" r="1.25" fill="#fff" filter="url(#bl05)"/><path d="M89 14L92.5 20" stroke="#050505" stroke-width="2" filter="url(#bl05)"/><path d="M133 14L129.5 20" stroke="#050505" stroke-width="2" filter="url(#bl05)"/><circle cx="89.1" cy="13.6" r="1.5" fill="#fff" stroke="#222" stroke-width="0.6"/><circle cx="133" cy="13.6" r="1.5" fill="#fff" stroke="#222" stroke-width="0.6"/></g><g transform="rotate(180 111.5 86.9)"><radialGradient id="hga" cx="111" cy="27" r="20" gradientUnits="userSpaceOnUse"><stop offset="0" stop-color="#9098b0"/><stop offset="0.3" stop-color="#50545e"/><stop offset="0.65" stop-color="#1a1a1c"/><stop offset="1" stop-color="#050505"/></radialGradient><path d="M90 19L93.5 17.4L103.5 10L103.5 8L120.5 8L120.5 10L128 17.4L131.5 19C130 24 125 30 120 34C116 38 106 38 102 34C97 30 92 24 90 19Z" fill="url(#hga)" filter="url(#bl05)"/><circle cx="96" cy="21.2" r="3" fill="#050505" filter="url(#bl05)"/><circle cx="103.5" cy="30" r="3" fill="#050505" filter="url(#bl05)"/><circle cx="108.5" cy="35" r="3" fill="#050505" filter="url(#bl05)"/><circle cx="114.2" cy="35" r="3" fill="#050505" filter="url(#bl05)"/><circle cx="119.2" cy="30" r="3" fill="#050505" filter="url(#bl05)"/><circle cx="126.1" cy="21.2" r="3" fill="#050505" filter="url(#bl05)"/><circle cx="97.9" cy="33" r="2.2" fill="#e0d860" opacity="0.85" filter="url(#bl1)"/><circle cx="124.8" cy="31.8" r="2.2" fill="#e0d860" opacity="0.85" filter="url(#bl1)"/><circle cx="96" cy="21.2" r="1.25" fill="#fff" filter="url(#bl05)"/><circle cx="103.5" cy="30" r="1.25" fill="#fff" filter="url(#bl05)"/><circle cx="108.5" cy="35" r="1.25" fill="#fff" filter="url(#bl05)"/><circle cx="114.2" cy="35" r="1.25" fill="#fff" filter="url(#bl05)"/><circle cx="119.2" cy="30" r="1.25" fill="#fff" filter="url(#bl05)"/><circle cx="126.1" cy="21.2" r="1.25" fill="#fff" filter="url(#bl05)"/><path d="M89 14L92.5 20" stroke="#050505" stroke-width="2" filter="url(#bl05)"/><path d="M133 14L129.5 20" stroke="#050505" stroke-width="2" filter="url(#bl05)"/><circle cx="89.1" cy="13.6" r="1.5" fill="#fff" stroke="#222" stroke-width="0.6"/><circle cx="133" cy="13.6" r="1.5" fill="#fff" stroke="#222" stroke-width="0.6"/></g>
</g>
<clipPath id="cpb"><rect x="233.4" y="9.7" width="156.2" height="154.5"/></clipPath>
<g clip-path="url(#cpb)">
<rect x="233.4" y="9.7" width="156.2" height="154.5" fill="#e0e4f8"/>
<path fill="#e5e7f5" fill-rule="evenodd" d="M389.5 164.1L233.5 164.1L233.5 9.8L389.5 9.8L389.5 164.1ZM312 106.1L315.9 105.1L320 103.3L323.8 101.1L327.2 98.3L330 95.3L331.9 92.3L333.3 89.1L334 85.6L333.9 82.1L333.1 78.8L331.5 75.8L329.3 73.1L326.5 70.8L323 68.8L319.3 67.5L315.5 66.8L311.3 66.9L306.5 68L301.8 70.1L297.5 72.8L293.9 76.1L291 79.8L289.2 83.6L288.4 87.6L288.6 91.6L289.8 95.3L291.8 98.6L294.8 101.6L298.8 104L303 105.6L307.5 106.3L312 106.1Z"/>
<path fill="#e9eaf2" fill-rule="evenodd" d="M389.5 164.1L233.5 164.1L233.5 9.8L389.5 9.8L389.5 164.1ZM312.2 116.3L317.4 115.1L323.2 113.1L339.6 106.1L349.3 100.3L353.1 97.3L356.3 94.1L358.6 91.1L360.2 87.8L360.9 84.8L360.9 81.6L360.1 78.3L358.5 75.1L356.3 72.1L353.3 69.1L349.6 66.3L345.8 64.1L337 60.8L320.8 57L316 56.5L311.3 56.6L299 60.1L290.3 63.6L282.3 67.3L277 70.3L272.2 73.6L268.3 76.8L265.1 80.3L263.2 83.3L261.9 86.6L261.5 89.6L261.8 92.8L262.8 96.1L264.7 99.3L267.2 102.3L270.5 105.3L274.2 107.8L278.1 109.8L288.7 113.3L301.3 116L307.3 116.5L312.2 116.3Z"/>
<path fill="#eaeaec" fill-rule="evenodd" d="M233.5 78.6L233.5 9.8L389.5 9.8L389.5 59.8L374.3 56.2L365.8 54.9L335 53.3L318.8 51.2L311.3 51L287.8 57.5L272.8 60.9L260.5 63.1L248.3 64.5L233.5 78.6ZM389.5 164.1L233.5 164.1L233.5 113.6L248.5 117.1L257 118.5L286.3 119.7L303.8 121.8L311.3 122.1L317.9 120.6L333.3 116L349.3 112.3L361.3 110.2L374 108.8L389.5 93.9L389.5 164.1Z"/>
<path fill="#e5e5e2" fill-rule="evenodd" d="M233.5 73.7L233.5 9.8L389.5 9.8L389.5 11.5L386.5 12.8L384.8 14.1L379.3 19.7L374.8 26.2L371.8 32.1L369.2 36.3L366.5 39.6L361 45.1L349.5 48.1L337 49.2L330.5 49.1L318.8 47.5L311.3 47.1L289.8 52.7L275.5 54.5L265.5 54.7L255 53.8L233.5 73.7ZM389.5 164.1L233.5 164.1L233.5 161.1L236.8 159.2L240.8 155.2L247 147.3L254.6 135.8L261.8 128.3L272.8 125.3L285 123.9L291 124L306.3 125.8L311.3 126L331.5 120.7L346.8 118.6L356.5 118.4L367.3 119.5L389.5 98.9L389.5 164.1Z"/>
<path fill="#e0dfd7" fill-rule="evenodd" d="M233.5 69.4L233.5 9.8L379.3 9.8L375.7 13.3L371.5 19.1L366.1 29.6L363.3 33.8L355.7 41.6L352.8 43L345.8 45.1L334 46.5L329 46.3L318.5 44.7L311.3 44.1L293.3 48.9L283.5 50.3L270.3 50.2L264 49.4L257.3 47.9L233.5 69.4ZM389.5 164.1L241.5 164.1L244.3 161.6L247 158.4L260.2 138.8L267.5 131.6L270.5 130.1L277 128.2L287.8 126.7L293.3 127L306.5 128.7L311.3 129L329 124.2L338.8 122.9L346.5 122.6L352 122.9L357.8 123.7L365.3 125.3L389.5 103.1L389.5 164.1Z"/>
<path fill="#dcdacd" fill-rule="evenodd" d="M233.5 65.5L233.5 9.8L373.5 9.8L369 16.1L363.4 27.3L361 31.1L353.3 39L351.8 40.2L349.3 41.3L343.8 42.9L332.8 44.3L328.3 44L311.3 41.6L294 46.4L289 47.3L284.3 47.6L275.5 47.4L269.3 46.6L262 44.8L258 42.7L250.9 49.8L233.5 65.5ZM389.5 164.1L247.4 164.1L250.5 160.1L254.6 153.3L262.5 141.6L270.5 133.6L273.8 131.9L278.8 130.4L285 129.2L289 128.9L297.8 129.6L311.3 131.5L328.5 126.6L338 125.5L346.8 125.6L353 126.4L360.4 128.3L364.3 130.6L371.6 123.3L389.5 107.1L389.5 164.1Z"/>
<path fill="#d7d5c2" fill-rule="evenodd" d="M233.8 61.6L233.5 61.8L233.5 9.8L369.8 9.8L367.6 13.3L361.3 26.1L359.1 29.6L351.5 37.3L349.5 38.8L347 39.9L337 42.2L331.8 42.6L327.8 42.2L311.3 39.5L295.5 44.2L289.8 45.2L284.5 45.5L275.5 45L268.8 43.7L265.5 42.6L258.3 38.3L244.1 52.3L233.8 61.6ZM389.5 164.1L251.2 164.1L256.5 154.8L264.2 143.3L272.3 135.4L276 133.3L285 131L290 130.6L298 131.4L311.3 133.6L328.5 128.5L333 127.8L338 127.6L346.8 128L353.5 129.3L357 130.5L364.3 134.9L378.4 120.8L389.5 110.8L389.5 164.1Z"/>
<path fill="#d2ceb5" fill-rule="evenodd" d="M233.5 58.3L233.5 9.8L367.2 9.8L359.7 25.1L357.7 28.3L350.3 35.8L347.8 37.7L345.8 38.6L336.5 40.7L331.3 41.1L327.5 40.7L311.3 37.5L297.5 42.1L290.3 43.5L284.8 43.8L276 43L269 41.3L263.3 38.2L257.8 34.5L238 54.3L233.5 58.3ZM389.5 164.1L253.9 164.1L257.9 156.1L265.7 144.6L273.5 136.8L275.1 135.6L277.5 134.5L285.8 132.5L290.5 132.1L298.8 133L311.3 135.6L318.5 133L328.3 130.2L332.8 129.5L337.8 129.4L346.8 130L353.8 131.8L359.5 135.2L364.5 138.8L384.2 119.1L389.5 114.3L389.5 164.1Z"/>
<path fill="#cdc8a8" fill-rule="evenodd" d="M233.5 54.8L233.5 9.8L365.1 9.8L363.2 14.6L356.5 27.3L349.4 34.6L346.8 36.5L344.8 37.5L336 39.5L331 39.8L321.5 38.3L311.3 35.8L297.5 40.7L290.3 42.1L284.8 42.2L276.8 41.4L271 39.9L262.3 34.9L257.5 31L233.5 54.8ZM389.5 164.1L256.1 164.1L259.1 157.1L266.8 145.6L274.4 138.1L276.5 136.5L278.5 135.7L286.5 133.6L291.8 133.4L299 134.3L311.3 137.3L319.3 134.2L329.5 131.4L335.5 130.8L343.3 131.3L348.3 132.1L352.5 133.6L360.2 138.3L365 142.2L389.5 117.7L389.5 164.1Z"/>
<path fill="#c8c29b" fill-rule="evenodd" d="M233.5 51L233.5 9.8L363.7 9.8L362 14.1L355.4 26.6L348.5 33.6L346 35.5L343.8 36.5L335.8 38.4L330.5 38.7L320.3 36.8L311.3 34.1L304.3 37.2L297.5 39.5L290 40.9L284.8 40.9L277.5 40L272.5 38.6L263 33.1L257 27.7L233.5 51ZM389.5 164.1L257.6 164.1L260.3 157.6L267.9 146.3L275.3 139L277.5 137.5L279.5 136.6L286.8 134.8L292 134.6L299 135.5L311.3 139L319.3 135.5L329.5 132.6L335.5 132.1L343.5 132.8L349.5 134.1L353.3 136L360.5 140.9L365.3 145.8L389.5 121.6L389.5 164.1Z"/>
<path fill="#c3bc8e" fill-rule="evenodd" d="M233.5 47.2L233.5 9.8L362.4 9.8L359.1 17.3L354.4 26.1L347.5 33L345 34.7L342.8 35.7L335.3 37.4L330 37.6L320.3 35.7L311.3 32.4L303.8 36.2L296.3 38.7L288.3 39.9L279.5 39L274.3 37.7L265.8 32.9L261.3 29.6L256.3 24.4L233.5 47.2ZM389.5 164.1L258.9 164.1L261.3 158.1L269 146.8L276.1 139.8L280.3 137.5L287.8 135.6L295 135.9L301 137.1L311.3 140.7L319.3 136.7L329.5 133.7L335.3 133.3L343.5 134.1L348.8 135.4L357 140.3L361.3 143.8L365.8 149.1L389.5 125.4L389.5 164.1Z"/>
<path fill="#bfb682" fill-rule="evenodd" d="M233.5 43.5L233.5 9.8L361.3 9.8L358.1 17.1L353.5 25.6L347 32.1L344.8 33.7L342.3 34.8L335 36.5L329.8 36.6L320.3 34.7L311.3 30.8L304 35L296.5 37.6L288.3 38.8L279.5 37.9L274.3 36.2L265.3 30.9L260.8 27L255.8 21.3L233.5 43.5ZM389.5 164.1L260 164.1L262.3 158.3L270.5 146.6L278 139.7L280.3 138.5L285.8 137L290 136.5L297.8 137.2L303.5 138.9L311.3 142.3L319.5 137.7L329.5 134.8L335.5 134.4L344.3 135.4L346.8 136L349.8 137.4L357.7 142.6L361.3 145.9L366.3 152.2L389.5 129L389.5 164.1Z"/>
<path fill="#bab075" fill-rule="evenodd" d="M233.5 39.9L233.5 9.8L360.3 9.8L359.2 12.8L354.3 22.6L352 25.9L346.8 31.1L344.5 32.8L342 33.9L336 35.5L330.8 35.9L321.8 34.2L318 32.8L311.3 29.1L304 33.9L296.5 36.7L288 37.9L279 36.7L274.5 35L265.5 29.4L261.3 25.6L255 18.4L233.5 39.9ZM389.5 164.1L290.2 164.1L289.3 163.5L287.4 164.1L261 164.1L263.2 158.6L271.1 147.3L278.5 140.4L281 139.2L286.3 137.7L291 137.3L298.3 138.2L303.8 140L311.3 144L319.3 138.8L329.3 135.8L335.3 135.3L344.3 136.4L349.5 138.7L357.3 143.9L360.3 146.8L367 155.1L389.5 132.6L389.5 164.1Z"/>
<path fill="#b5ab6b" fill-rule="evenodd" d="M290.8 36.8L286.8 36.9L279.8 35.9L277.3 35.1L274.3 33.6L267.5 29.4L264.6 27.1L261.3 23.8L254.3 15.6L233.5 36.4L233.5 9.8L331.8 9.8L334 11.4L336.3 9.8L359.4 9.8L356.4 16.6L352.3 24.3L346.1 30.6L342.5 32.9L333.5 35.1L326.8 34.5L319.5 32.6L312.5 28L311.3 27.6L305.8 31.8L302.5 33.7L297.3 35.7L290.8 36.8ZM389.5 164.1L291.9 164.1L288.8 161.8L287 162.5L285.1 164.1L261.9 164.1L263.9 159.1L271.1 148.6L277.7 142.1L280.8 140.2L288.3 138.1L296.8 138.7L303.3 140.7L310 145.1L311.3 145.5L316.6 141.3L320.3 139.3L329.3 136.6L333.5 136.1L344 137.4L349.5 140L355.3 143.8L357.8 145.9L367.8 157.9L389.5 136.2L389.5 164.1Z"/>
<path fill="#b0a562" fill-rule="evenodd" d="M290.3 36.1L286.5 36.1L279 34.7L276 33.4L269.4 29.3L266.5 27.3L262.9 23.8L253.5 13L233.5 32.9L233.5 9.8L330.2 9.8L334.5 13L335.9 12.3L337.8 9.8L358.6 9.8L355.7 16.3L351.7 23.8L345.6 30.1L342.3 32.2L333.3 34.4L325.8 33.6L319.5 31.7L316.6 29.8L312.8 26.5L311.3 26.2L310 26.6L306 30.6L302.3 33L297 34.9L290.3 36.1ZM389.5 164.1L293.5 164.1L288.5 160.5L286.3 161.3L283.7 164.1L262.8 164.1L264.5 159.6L271.7 149.1L278.3 142.6L281 140.9L288.3 138.9L296.8 139.4L303.2 141.6L305.9 143.3L309.8 146.7L311.3 146.9L312.5 146.4L317.1 142.1L320.5 140L329.5 137.4L333.5 137L344.3 138.5L347.8 140.1L353 143.5L358 147.8L367.5 159.8L368.5 160.5L389.5 139.7L389.5 164.1Z"/>
<path fill="#aca05a" fill-rule="evenodd" d="M290 35.3L286.5 35.3L279.3 33.9L276.5 32.6L269.3 28.1L263.1 22.6L254.8 12.3L252.3 10.7L233.5 29.4L233.5 9.8L328.7 9.8L334.8 14.2L336.6 13.6L339 9.8L357.8 9.8L355.1 16.1L351 23.6L345.1 29.6L342 31.5L333 33.7L324.5 32.6L319.3 30.7L316.7 28.8L313.7 25.6L312.8 25L311.3 24.9L309.5 25.5L305.6 29.8L302 32.3L296.8 34.3L290 35.3ZM389.5 164.1L295.2 164.1L292.2 162.3L288.5 159.3L285.9 160.1L282.5 164.1L263.5 164.1L265.1 159.8L272.3 149.5L278.5 143.3L281.3 141.6L288.5 139.5L297 140.2L303 142.3L305.8 144.3L308.9 147.6L309.8 148.1L311.3 148.2L313 147.5L316.8 143.3L320.5 140.8L327 138.8L333.3 137.7L341.8 138.7L344 139.3L347.3 140.9L353 144.7L357.5 148.7L366.9 160.8L369.8 162.7L389.5 143.1L389.5 164.1Z"/>
<path fill="#a79b52" fill-rule="evenodd" d="M233.5 26L233.5 9.8L249.7 9.8L233.5 26ZM290.5 34.6L286.8 34.6L279.5 33.1L277 31.9L269.9 27.3L264.2 22.3L255.5 11.5L253.1 9.8L327.1 9.8L335.3 15.3L337.6 14.3L340 9.8L357.1 9.8L354.5 15.8L350.5 23.1L344.8 29L341.8 30.9L333 33.1L324 31.9L321.5 31.1L319.3 29.9L317.3 28.2L313.5 24L311.3 23.5L309.3 24.3L305.3 29.1L302 31.5L296.8 33.6L290.5 34.6ZM369.8 164.1L297 164.1L293 162L288.3 158.1L285.1 159.3L281.6 164.1L264.2 164.1L265.7 160.1L272.9 149.8L279 143.7L281.5 142.2L288.5 140.2L297 140.8L302.8 143L305.1 144.8L308.5 148.7L309.3 149.3L311.3 149.6L313.3 148.7L317.3 143.9L320.8 141.5L326.5 139.6L333.3 138.4L340.5 139.3L343.8 140.1L347 141.8L353 145.8L356.8 149.3L366.3 161.8L369.8 164.1ZM389.5 164.1L372 164.1L389.5 146.5L389.5 164.1Z"/>
<path fill="#a3964a" fill-rule="evenodd" d="M233.5 22.6L233.5 9.8L246.3 9.8L233.5 22.6ZM291.3 33.8L287 33.9L280 32.4L277.7 31.3L270.5 26.7L264.3 21.1L256 10.5L255.1 9.8L325.5 9.8L329 11.7L334.8 16.1L335.8 16.3L338.5 14.8L340.8 9.8L356.4 9.8L353.9 15.6L350 22.8L344.3 28.6L341.5 30.3L335.5 32.1L332.8 32.5L323.5 31.1L321 30.2L318.8 28.7L313.8 22.7L311.3 22.1L308.8 23.3L305 28.3L302 30.8L296.8 32.9L291.3 33.8ZM367.5 164.1L298.6 164.1L294.3 162L289.2 157.8L287.8 157.1L284.3 158.7L280.7 164.1L264.9 164.1L266.3 160.3L273.5 150.1L279.5 144.1L281.8 142.8L288.5 140.8L297 141.5L300.5 142.6L302.8 143.8L304.8 145.6L308.6 150.3L311.3 151L313.5 150L317.4 144.8L320.8 142.2L326 140.4L333.3 139.1L339.5 139.9L343.5 140.8L346.4 142.3L352.6 146.6L356.5 150.5L365.8 162.8L367.5 164.1ZM389.5 164.1L375.4 164.1L389.5 149.9L389.5 164.1Z"/>
<path fill="#9e9042" fill-rule="evenodd" d="M233.5 19.3L233.5 9.8L243 9.8L233.5 19.3ZM289.8 33.3L286.8 33.2L280 31.7L270.8 25.9L264.3 19.8L256.7 9.8L288.7 9.8L289.3 10.3L291.3 9.8L324 9.8L328.5 12.1L334.5 16.8L336.3 17.3L339.2 15.3L341.5 9.8L355.7 9.8L353.4 15.3L349.5 22.6L344 28.1L341.3 29.8L335.3 31.6L332.8 31.9L323.3 30.4L320.8 29.3L318.8 27.8L314.3 21.7L311.3 20.9L308.5 22.1L304.6 27.8L301.5 30.3L296.3 32.4L289.8 33.3ZM365.5 164.1L333.4 164.1L333 163.8L330.4 164.1L300 164.1L294.8 161.6L289.3 157.1L287.3 156.2L283.7 158.1L279.9 164.1L265.6 164.1L266.8 160.6L273.8 150.6L279.8 144.6L281.8 143.4L288.5 141.4L294.5 141.6L298 142.3L301 143.5L303.4 145.1L308.3 151.5L311.3 152.2L314 150.9L317.8 145.5L321 142.8L326.3 141L333.3 139.7L338.5 140.4L343.3 141.5L346 143L352.2 147.3L356.1 151.3L365.5 164.1ZM389.5 164.1L378.7 164.1L389.5 153.2L389.5 164.1Z"/>
<path fill="#95883b" fill-rule="evenodd" d="M233.5 16L233.5 9.8L239.7 9.8L233.5 16ZM291 32.6L287.3 32.7L280.5 31.1L271.8 25.6L264.9 19.3L257.8 9.8L287.1 9.8L288.3 11.5L289 12L295 9.8L322.5 9.8L328 12.5L334.5 17.7L336.5 18.1L339.9 15.8L342.2 9.8L355.1 9.8L352.9 15.1L349 22.3L343.8 27.6L341.3 29.2L333 31.4L323.3 29.9L321 28.8L319.2 27.3L316.4 22.8L314.5 20.6L311.3 19.8L308 21.2L304.4 27.1L301.6 29.6L296.5 31.7L291 32.6ZM364.3 164.1L334.9 164.1L333.8 162.1L325.4 164.1L301.4 164.1L295.3 161.2L289.5 156.5L287 155.3L285.1 156.1L283 157.6L279.2 164.1L266.2 164.1L267.3 160.8L274.3 150.8L280 145.1L282 143.9L288.8 141.9L294.5 142.2L298.5 143.1L301.3 144.2L303.3 145.8L306.1 150.3L308 152.5L311.3 153.3L314.5 151.8L318.1 146.1L321 143.5L325.8 141.7L333.3 140.4L343 142.2L351.6 147.8L355.9 152.3L364.3 164.1ZM389.5 164.1L382 164.1L389.5 156.5L389.5 164.1Z"/>
<path fill="#8a7d36" fill-rule="evenodd" d="M233.5 12.8L233.5 9.8L236.5 9.8L233.5 12.8ZM290.3 32.1L287 32.1L280.5 30.4L272 24.8L265.5 18.8L258.8 9.8L285.9 9.8L287.2 12.3L288.8 13.6L294 11L298.1 9.8L321.3 9.8L327.5 12.9L334.5 18.5L337 18.9L340.4 16.3L342.8 9.8L354.6 9.8L352.4 14.8L348.7 21.8L343.3 27.3L341 28.8L333 30.8L323.3 29.3L321.3 28.3L319.5 26.8L317 22.3L315 19.8L311.3 18.8L307.8 20.2L304 26.6L301.3 29.1L296.3 31.2L290.3 32.1ZM363.3 164.1L336.2 164.1L334.5 160.4L322.5 164.1L302.6 164.1L295.8 160.8L288.3 154.8L286.5 154.4L282.5 157.1L278.6 164.1L266.7 164.1L267.8 161.1L274.8 151.1L280.5 145.3L282.3 144.3L288.8 142.4L295 142.8L298.8 143.7L301 144.7L302.9 146.3L305.5 150.8L307.5 153.3L311.3 154.3L314.8 152.8L318.5 146.6L321.3 144L325.5 142.4L333.3 140.9L342.8 142.8L351.1 148.3L355.5 153.1L363.3 164.1ZM389.5 164.1L385.2 164.1L389.5 159.8L389.5 164.1Z"/>
<path fill="#7f7331" fill-rule="evenodd" d="M289.5 31.6L287 31.5L280.7 29.8L272.5 24.3L266.1 18.3L259.8 9.8L284.8 9.8L286.3 13.1L288.3 15.1L294.8 11.6L300.3 9.8L320.1 9.8L327.3 13.4L334.5 19.2L337.3 19.6L341.1 16.6L343.4 9.8L354 9.8L352 14.6L348.3 21.6L343 26.9L341 28.3L333 30.3L323.5 28.8L321.5 27.9L319.8 26.3L317.5 21.8L315.3 19L311.3 18L307.3 19.6L303.5 26.3L300.8 28.8L295.8 30.7L289.5 31.6ZM362.3 164.1L337.2 164.1L335.9 160.1L334.8 158.8L327.5 161.9L320.6 164.1L304.8 164.1L302.8 163.6L296.5 160.6L288.3 154.1L286 153.7L281.9 156.8L278 164.1L267.3 164.1L268.4 161.1L275.2 151.3L280.7 145.8L282.3 144.9L288.8 142.9L295 143.3L298.8 144.3L301 145.3L302.6 146.8L305 151.4L307.3 154.2L311.3 155.2L315 153.7L317 150.8L319 146.8L321.5 144.5L325.5 142.9L333.3 141.5L342.5 143.3L350.5 148.8L355.3 154.1L362.3 164.1ZM389.5 164.1L388.5 164.1L389.5 163L389.5 164.1Z"/>
<path fill="#73682c" fill-rule="evenodd" d="M289 31.1L287 30.9L280.8 29.2L273 23.8L266.8 18.1L260.7 9.8L283.8 9.8L285.4 13.8L288 16.3L295.3 12.2L302 9.8L318.8 9.8L326.8 13.7L334.3 19.8L337.3 20.2L338 20.1L341.5 17L344 9.8L353.5 9.8L347.9 21.3L342.8 26.6L340.8 27.9L333 29.9L323.5 28.3L321.7 27.3L320.1 25.8L318 21.3L315.6 18.3L311.3 17.2L307 18.8L305 21.7L303.1 25.8L300.5 28.3L295.5 30.3L289 31.1ZM361.3 164.1L338.2 164.1L336.8 159.3L335.5 157.6L334.8 157.4L327.3 161.2L319.3 163.9L308.4 164.1L305 163.6L303 163.2L296.5 160L288.3 153.3L285.8 153L281.5 156.4L277.4 164.1L267.8 164.1L268.8 161.3L275.5 151.6L281 146.1L282.5 145.3L288.8 143.4L295 143.8L299 144.9L300.8 145.8L302.3 147.3L304.5 151.9L306.8 154.8L311.3 155.9L315.5 154.3L317.5 151.3L319.4 147.3L322 144.8L325.8 143.4L333.3 142L342.3 143.8L350 149.2L354.6 154.3L361.3 164.1Z"/>
<path fill="#685d27" fill-rule="evenodd" d="M291 30.4L287.3 30.4L281.8 29L280 28.1L273.3 23.2L268 18.4L264.1 13.6L261.6 9.8L282.9 9.8L284.7 14.6L287 17.3L288 17.4L295.1 13.1L303.5 9.9L317.5 10.1L319.3 10.5L325.6 13.6L334.3 20.5L337.3 20.8L338.5 20.6L342 17.3L344.5 9.8L353 9.8L347.5 21.1L342.5 26.2L340.8 27.4L333 29.4L323.8 27.9L322 27L320.6 25.6L318.4 20.8L316 17.8L311.3 16.6L306.8 18L304.5 21.2L302.7 25.6L300.5 27.7L295.8 29.7L291 30.4ZM360.3 164.1L339 164.1L337.7 158.6L336.1 156.3L334.8 156.1L326.8 160.6L319 163.4L311.3 164L305 163.2L303.3 162.8L297 159.7L288.5 152.8L286 152.4L284.8 152.8L281.1 156.1L276.9 164.1L268.3 164.1L269.1 161.6L275.8 152L280.8 147L282.5 145.7L288.8 143.9L294.8 144.2L298.8 145.3L300.5 146.2L301.9 147.6L304 152.3L306.5 155.5L311.3 156.6L315.8 155L318 151.8L319.8 147.6L322.1 145.3L325.8 143.9L333.3 142.6L342 144.3L349.5 149.7L354.3 155.1L360.3 164.1Z"/>
<path fill="#5c5322" fill-rule="evenodd" d="M291 29.8L287.5 30L282 28.5L280.5 27.8L273.9 22.8L268.5 17.9L264.7 13.3L262.5 9.8L282.1 9.8L284.4 15.8L286.5 18.3L288 18.5L295.5 13.6L303.5 10.4L312.7 9.8L317.5 10.5L319 10.8L326 14.4L334.3 21.2L336.8 21.4L338.5 21.3L342.5 17.6L345 9.8L352.5 9.8L347.2 20.8L342.3 25.9L340.5 27L333.3 28.9L323.8 27.4L321 25.3L318.9 20.3L316.3 17.2L311.3 16L306.5 17.4L304 20.8L302.2 25.3L300.3 27.3L295.5 29.2L291 29.8ZM359.5 164.1L339.8 164.1L338.3 157.6L336.8 155.3L334.8 155L327 159.7L319 162.9L311.3 163.6L305 162.7L303.5 162.4L297.4 159.3L288.8 152.3L286.5 151.8L285 151.9L280.8 155.6L276.3 164.1L268.8 164.1L269.5 161.8L276.3 152.1L281.8 146.6L287.5 144.6L294.5 144.7L299.4 146.1L301.5 147.9L303.6 152.8L306.3 156.1L311.3 157.2L316 155.7L318.4 152.3L320.3 147.8L322.5 145.7L326 144.4L333.3 143.1L341.8 144.8L349 150.1L354 155.9L359.5 164.1Z"/>
<path fill="#50481e" fill-rule="evenodd" d="M291 29.3L287.5 29.4L282.3 28.1L280.8 27.3L274.5 22.6L269 17.5L265.5 13.3L263.3 9.8L281.3 9.8L283 15.3L283.8 16.6L286 19.3L287.8 19.5L290.3 18.2L296 14.1L303.8 10.8L311.3 10L317.5 10.9L319 11.3L325.7 14.8L334 21.7L336.3 22L338.8 21.8L342.8 18L345.4 9.8L352.1 9.8L346.8 20.7L342 25.6L340.5 26.6L333.3 28.4L324 27L321.4 25.1L319.3 19.8L316.5 16.6L311.3 15.4L306 17.1L303.6 20.3L301.8 25.1L300 26.9L295.3 28.8L291 29.3ZM358.5 164.1L340.6 164.1L339.3 157.3L337.3 154.3L335.5 154L334.3 154.1L326.5 159.3L318.8 162.4L311.3 163.2L304.3 162.2L296.8 158.4L289.5 152.2L288.3 151.3L287.3 151.3L284.5 151.5L280.4 155.3L275.8 164.1L269.3 164.1L269.9 162.1L276.6 152.3L282.2 146.8L287.5 145L294.5 145.2L299.3 146.6L301.2 148.3L303.2 153.3L305.8 156.3L306.5 156.8L311.3 157.8L316.3 156.3L318.9 152.8L320.7 148.1L322.8 146.1L325.8 144.9L333.3 143.6L341.5 145.3L348.5 150.4L353.5 156.3L358.5 164.1Z"/>
<path fill="#443d1a" fill-rule="evenodd" d="M291 28.8L287.8 29L281.3 27.1L274.9 22.1L269.3 16.8L266 12.8L264.1 9.8L280.5 9.8L282.8 16.6L285.5 20L287.5 20.3L288.3 20.3L289.8 19.4L296.5 14.5L304 11.2L311.3 10.4L318 11.4L324.5 14.6L334 22.3L335.5 22.5L339 22.2L343.1 18.3L345.9 9.8L351.6 9.8L346.4 20.6L341.7 25.3L340.3 26.3L333.3 28L324.3 26.6L321.9 24.8L319.8 19.6L317 16.3L316.1 15.8L311.3 14.9L305.8 16.5L303.2 19.8L301.3 24.8L299.7 26.6L295 28.3L291 28.8ZM357.8 164.1L341.3 164.1L340.1 156.8L337.8 153.4L335.8 153.1L334.3 153.1L326.3 158.7L318.5 162L311.3 162.8L304.5 161.8L297.2 158.1L290.3 152L287.8 150.7L284.5 150.9L280 155.1L275.3 164.1L269.7 164.1L270.3 162.2L277 152.5L282.3 147.2L287.8 145.4L294.5 145.6L299 146.9L300.9 148.8L302.8 153.7L305.5 156.8L307 157.5L311.3 158.3L316 157.1L316.8 156.6L319.3 153.3L321.2 148.3L323 146.5L325.8 145.4L333.3 144.1L341.3 145.7L348.1 150.8L353.3 157.1L357.8 164.1Z"/>
<path fill="#383316" fill-rule="evenodd" d="M291 28.3L287.8 28.5L281.5 26.7L275.5 21.8L269.7 16.3L266.8 12.8L264.9 9.8L279.8 9.8L281.7 16.1L282.5 17.6L285.3 20.9L288 21.2L290.5 19.8L296.8 15L304 11.6L311.3 10.8L318 11.8L324.3 15L333.5 22.6L335 23L339 22.7L343.5 18.5L346.3 9.8L351.2 9.8L346.1 20.3L340.3 25.9L333.3 27.6L324.3 26.2L322.3 24.6L320.2 19.1L317.3 16L316.3 15.4L311.3 14.4L307 15.4L305.5 16.1L302.8 19.4L301.1 24.3L299.3 26.3L294.8 27.9L291 28.3ZM357 164.1L342 164.1L340.8 156.3L338 152.5L335.3 152.2L334.3 152.2L325.7 158.3L318.5 161.6L311.3 162.4L304.5 161.4L297.5 157.7L294.1 155.1L291 152L288.5 150.3L287.8 150.1L284.3 150.5L279.8 154.7L274.9 164.1L270.2 164.1L270.7 162.3L277.3 152.7L282.5 147.5L287.8 145.8L294.3 146.1L298.8 147.3L300.7 149.3L302.3 154.1L305.3 157.3L306.3 157.9L311.3 158.8L315.5 157.8L317 157L319.8 153.6L321.4 148.8L323.3 146.9L326 145.9L333.3 144.6L341.3 146.2L347.8 151.3L353.1 157.8L357 164.1Z"/>
<path fill="#2c2812" fill-rule="evenodd" d="M288.8 28.1L281.8 26.3L275.8 21.3L269.8 15.5L265.6 9.8L279.1 9.8L281.1 16.6L282 18.1L284.8 21.4L288 22L290.8 20.4L294 17.6L297.3 15.3L304.3 12L311.3 11.1L318 12.2L324.5 15.7L332.3 22.3L334.3 23.5L339.7 22.8L343.9 18.6L346.8 9.8L350.7 9.8L345.9 20.1L340 25.5L333.5 27.1L324.5 25.8L323.3 25L322.3 23.8L320.5 18.7L317.5 15.6L316.3 14.9L311.3 14L306.3 15.1L305.1 15.8L302.3 19.1L300.6 24.1L298.8 26L294.5 27.4L288.8 28.1ZM356 164.1L342.7 164.1L341.5 156.1L338.3 151.8L334 151.5L328 156.1L324 158.6L318.3 161.2L311.3 162.1L304.5 161.1L298.9 158.1L294.2 154.6L291.3 151.5L288.3 149.6L284 150.1L279.5 154.4L274.4 164.1L270.6 163.8L271 162.6L277.5 153L282.8 147.8L287.8 146.2L294 146.5L298.5 147.7L300.3 149.6L302 154.6L304.5 157.2L305.8 158.2L311.3 159.2L316.3 158.1L317.3 157.5L320.2 154.1L321.8 149.2L323.5 147.2L326 146.3L333.5 145L341 146.6L347.3 151.6L352.6 158.3L356 164.1Z"/>
<path fill="#201e0f" fill-rule="evenodd" d="M289.3 27.6L287.8 27.6L282 25.9L276.3 21.1L270.2 15.1L266.4 9.8L278.4 9.8L280.8 17.5L283.9 21.3L285 22.2L288.5 22.5L291 21L294.3 18.1L297.8 15.7L304.3 12.4L311.3 11.5L318.1 12.6L324.2 16.1L332 22.7L334.3 24L339.3 23.5L340 23.1L344.2 18.8L347.2 9.8L350.3 9.8L345.6 19.8L340 25.2L333.5 26.7L324.8 25.4L323.5 24.6L322.7 23.6L320.9 18.3L318.3 15.7L317 14.6L311 13.6L305.5 14.8L303.9 16.3L301.9 18.6L300.3 23.7L298.6 25.6L294.3 27L289.3 27.6ZM355.3 164.1L343.4 164.1L342.2 155.8L339.3 151.8L338.3 151.1L334 150.7L324.8 157.5L318.3 160.8L311.3 161.7L304.3 160.6L298.3 157.1L294.5 154.2L291.3 150.8L288.3 149.1L283.7 149.8L278.9 154.6L274 164.1L271 163.8L271.3 162.8L277.8 153.2L283 148.1L288 146.5L293.8 146.9L298.3 148.1L299.9 149.8L301.5 154.8L303.7 157.1L305.5 158.6L311 159.6L316.3 158.5L317.6 157.8L320.5 154.6L322.1 149.6L323.9 147.6L325.8 146.9L333.5 145.5L340.8 147L346.8 151.9L352.1 158.6L355.3 164.1Z"/>
<path fill="#1a180d" fill-rule="evenodd" d="M289.5 27.1L287.8 27.2L282.3 25.6L276.8 20.8L270.3 14.3L267.2 9.8L277.8 9.8L280.2 17.8L284.3 22.6L285.5 22.9L288.3 23.3L289.3 22.9L291.5 21.5L294.3 18.8L298.2 16.1L304.5 12.7L311.3 11.8L318 12.9L323.1 15.8L328.3 19.8L331.3 22.7L333.8 24.4L334.5 24.5L339.5 23.9L340.3 23.3L344.7 18.8L347.6 9.8L349.9 9.8L345.3 19.7L340 24.8L333.5 26.3L324.8 24.9L323.1 23.3L321.4 18.1L318.5 15.3L317 14.2L311 13.2L305.5 14.4L303.5 16L301.5 18.3L299.9 23.3L298.5 25.1L294 26.5L289.5 27.1ZM354.5 164.1L344 164.1L342.8 155.3L339.3 150.9L338.5 150.6L334 150L324.3 157.2L318 160.5L311.3 161.4L304.5 160.3L298.6 156.8L294.5 153.6L291.5 150.3L288 148.6L283.5 149.5L278.5 154.3L273.5 164.1L271.5 164.1L271.5 163.6L277.9 153.6L282.5 148.9L283.3 148.3L288 146.9L293.8 147.4L298 148.4L299.5 150.1L301.1 155.1L304 157.9L305.5 159L311 160L317 158.8L318.3 157.8L321 154.8L322.5 149.8L324 148L325.8 147.4L333.5 145.9L340.5 147.4L346.5 152.3L351.8 159.3L354.5 164.1Z"/>
<path fill="#15140b" fill-rule="evenodd" d="M289.8 26.6L288 26.8L282.7 25.3L277 20.4L270.8 13.9L267.9 9.8L277.1 9.8L279.7 18.1L284 23.1L288.8 23.7L291.8 22.1L294.5 19.3L299.3 16L304.6 13.1L311.3 12.1L313 12.7L317.8 13.2L323 16.3L327.9 20.1L330.5 22.8L333.5 24.9L336 24.9L337.8 24.4L338.1 24.8L333.5 26L331 25.3L325 24.5L323.5 23.1L321.8 17.8L319.3 15.4L316.5 13.6L311.5 12.7L306 13.8L303.3 15.6L301 18L299.5 23.1L298.1 24.8L293.8 26.1L289.8 26.6ZM346.5 15.9L346.2 15.6L346.9 14.6L347.9 10.1L349.5 9.8L346.5 15.9ZM346.3 16.5L346 16.3L346.3 15.9L346.3 16.5ZM346 17.1L345.8 16.8L346 16.7L346 17.1ZM345.8 17.7L345.5 17.6L345.8 17.3L345.8 17.7ZM345.5 18.4L345.5 18L345.5 18.4ZM345.3 19L345 18.8L345.3 19ZM344.8 19.6L344.8 19.3L344.8 19.6ZM344.3 20.1L344.3 19.8L344.3 20.1ZM343.8 20.6L343.8 20.3L343.8 20.6ZM343.3 21.1L343.3 20.8L343.3 21.1ZM342.8 21.6L342.9 21.3L342.8 21.6ZM342.3 22.1L342.5 21.8L342.3 22.1ZM341.8 22.6L342 22.3L341.8 22.6ZM341.3 23.1L341.5 22.8L341.3 23.1ZM340.8 23.6L341 23.3L340.8 23.6ZM340.3 24.1L340.5 23.8L340.3 24.1ZM339.3 24.6L338.9 24.6L339 24.3L339.3 24.6ZM340 24.4L339.6 24.3L340 24.4ZM338.5 24.8L338.1 24.6L338.5 24.3L338.5 24.8ZM353.8 164.1L344.7 164.1L343.4 155.1L339.3 150.2L334 149.4L323.2 157.3L317.8 160.2L311.3 161.1L304.8 160.1L299 156.6L294.8 153.2L291.5 149.7L288.5 148.3L286 148.6L285.8 148.1L288.3 147.3L297.5 148.7L299 150.1L300.8 155.4L303.8 158.2L306 159.6L311.5 160.4L317 159.2L319.7 157.1L321.5 155.1L323.2 149.6L324.8 148.2L333.5 146.4L340 147.6L346.3 152.8L351.3 159.6L353.8 164.1ZM284.8 148.8L284 149L283.9 148.6L284.8 148.3L285 148.5L285.5 148.1L285.8 148.3L284.8 148.8ZM283.3 149.1L283.3 148.7L283.7 148.8L283.3 149.1ZM283 149.5L282.6 149.3L283 149.5ZM282.5 149.9L282.2 149.8L282.5 149.9ZM282 150.4L281.7 150.3L282 150.4ZM281.5 150.9L281.2 150.8L281.5 150.9ZM281 151.4L280.7 151.3L281 151.4ZM280.5 151.9L280.2 151.8L280.5 151.9ZM280 152.4L279.7 152.3L280 152.4ZM279.5 152.9L279.2 152.8L279.5 152.9ZM279 153.4L278.7 153.3L279 153.4ZM278.5 153.9L278.2 153.8L278.5 153.9ZM278 154.6L278 154.2L278 154.6ZM277.8 155.1L277.5 154.9L277.8 155.1ZM277.3 155.8L277.3 155.4L277.3 155.8ZM277 156.4L276.8 156.1L277 156.4ZM276.5 157.1L276.5 156.6L276.5 157.1ZM276.3 157.7L276 157.7L276 157.2L276.4 157.3L276.3 157.7ZM276 158.2L275.8 158.3L275.7 157.8L276 158.2ZM273 164.1L272 164.1L271.9 163.3L275.5 158.4L275.7 158.8L273 164.1Z"/>
<path fill="#111009" fill-rule="evenodd" d="M288.5 26.3L282.8 24.9L277.4 20.1L270.5 12.7L268.6 9.8L276.4 9.8L277.9 15.1L279.5 18.8L283.8 23.5L288 24.4L291.5 23L294.7 19.8L299.6 16.3L303.5 14.2L304 14.2L300.7 17.6L299.1 22.8L298 24.3L293.5 25.6L288.5 26.3ZM348.5 10.8L348.5 9.8L349.1 9.8L348.5 10.8ZM348.5 11.1L348.1 11.1L348.3 10.7L348.5 11.1ZM348 11.8L348 11.5L348 11.8ZM307 13.3L307 13L307 13.3ZM305.5 13.6L305.4 13.3L305.8 13.3L305.5 13.6ZM306.3 13.5L306.3 13.2L306.3 13.5ZM305 13.7L304.8 13.4L305 13.7ZM304.5 14.1L304.1 13.8L304.6 13.8L304.5 14.1ZM318.8 14.5L318.8 14.2L318.8 14.5ZM319.5 14.9L319.1 14.8L319.3 14.6L319.5 14.9ZM320 15.4L319.8 15L320.1 15.1L320 15.4ZM320.5 15.9L320.2 15.6L320.5 15.3L320.9 15.6L320.5 15.9ZM333 25.4L324.7 23.8L323.8 22.6L322.4 18.1L320.8 15.8L321.3 15.7L322.5 16.4L327.4 20.3L329.8 22.8L333 24.9L333 25.4ZM353 164.1L345.3 164.1L343.8 154.6L339.5 149.7L336.5 149.2L333.8 148.9L322.8 157L318.8 159.1L318.4 158.8L321.8 155.6L323.4 150.3L324.5 148.9L333.3 146.8L334.5 146.9L340.3 148.2L345.8 153L351 160.4L353 164.1ZM289 147.8L288.7 147.8L289 147.8ZM301.5 157.5L300 156.8L295.3 153.1L292.8 150L290.5 148.5L289.5 148.3L289.5 147.8L296.3 148.8L297.8 149.4L298.7 150.6L300.2 155.3L301.8 157.1L301.5 157.5ZM302 157.9L301.6 157.6L302 157.3L302.3 157.6L302 157.9ZM302.8 158.1L302.4 157.8L302.8 157.8L302.8 158.1ZM303.3 158.6L303 158.2L303.3 158.6ZM303.8 159L303.8 158.6L303.8 159ZM318.3 159.5L317.9 159.3L318 159L318.5 159.1L318.3 159.5ZM317.5 159.9L317.5 159.4L317.8 159.6L317.5 159.9ZM316.3 160L316 159.8L316.3 160ZM317 159.9L316.8 159.6L317 159.9ZM315.5 160.2L315.5 159.9L315.5 160.2ZM273.8 161.6L273.5 161.6L273.8 161.6ZM273.3 162.5L273.3 162.1L273.3 162.5ZM272.5 163.8L272.3 163.3L273 162.6L273.2 163.1L272.5 163.8Z"/>
<path fill="#0c0b08" fill-rule="evenodd" d="M289 25.9L288 25.9L283 24.6L277.8 19.8L274.9 16.1L271 12.3L269.4 9.8L275.7 9.8L277.1 14.8L278.8 18.6L283.8 24.1L288 24.9L291 23.9L292.5 23L295 20.3L298 18.4L300 16.6L300.5 16.7L298.7 22.6L297.8 23.8L293.3 25.2L289 25.9ZM301.5 16.1L301.3 16L301.5 16.1ZM301 16.6L300.6 16.3L301 16.3L301 16.6ZM322.3 17L322.3 16.7L322.3 17ZM322.8 17.6L322.8 17.2L322.8 17.6ZM329.8 24.1L325.8 23.8L324.8 23.2L322.9 17.8L323.3 17.7L327 20.6L329.9 23.6L329.8 24.1ZM330.5 24.2L330.1 24.1L330.5 24.2ZM352.3 164.1L346 164.1L345.2 157.8L344.3 154.4L340.3 149.8L338.8 149L333.5 148.4L330.5 150.2L322.5 156.6L321.8 157L321.4 156.8L322.5 155.3L323.9 150.3L325.3 149L333.5 147.2L340 148.5L345.5 153.3L350.8 161.2L352.3 164.1ZM292.3 149L292.3 148.6L292.3 149ZM299.5 155.5L295.3 152.4L292.6 148.8L296.8 149.4L297.8 150L299.5 155.5ZM299.8 156.1L299.8 155.6L299.8 156.1ZM321 157.4L320.9 157.1L321.3 157.1L321 157.4Z"/>
<path fill="#070706" fill-rule="evenodd" d="M278 19.1L275 15.3L271.5 11.8L270.2 9.8L275 9.8L276 13.8L278.3 18.7L278 19.1ZM299 18.8L298.7 18.6L299 18.3L299 18.8ZM292.3 24.9L290.6 24.8L293 23.4L295.5 20.6L298.8 18.8L298.2 22.3L297.5 23.3L292.3 24.9ZM278.5 19.6L278.2 19.6L278.3 19.1L278.5 19.6ZM327.8 23.4L326 23.3L325.1 22.8L324.1 19.6L326.8 21.1L328.3 23.1L327.8 23.4ZM278.8 20.1L278.6 19.8L279 19.7L278.8 20.1ZM279.5 20.4L279.2 20.3L279.5 20.4ZM280 20.9L279.7 20.8L280 20.9ZM328.5 23.4L328.3 23.1L328.5 23.4ZM290.3 25.2L290 25.1L290.3 24.7L290.3 25.2ZM289.5 25.3L289.5 25L289.5 25.3ZM333.8 147.9L333.5 147.8L333.8 147.9ZM332.5 148.5L332.1 148.3L332.2 148.1L332.5 148.5ZM333 148.2L333 147.8L333 148.2ZM323.5 154.9L323.3 154.6L324.3 150.8L325 149.8L331.9 148.3L331.9 148.8L330.3 149.7L327.1 152.6L323.5 154.9ZM298.3 153.7L295.7 152.1L294.2 149.6L297.3 150.3L297.8 151.1L298.3 153.7ZM343 151.8L342.7 151.8L343 151.8ZM343.5 152.4L343.3 152.1L343.5 152.4ZM344 152.9L343.7 152.6L344 152.9ZM344.5 153.5L344.2 153.1L344.5 153.1L344.5 153.5ZM351.3 164.1L346.7 164.1L345.8 157.6L344.5 153.8L344.8 153.5L350.2 161.6L351.3 163.6L351.3 164.1Z"/>
<path fill="#050505" fill-rule="evenodd" d="M275.5 14.8L271 9.8L274.2 9.8L275.5 14.8ZM275.8 15.3L275.8 15L275.8 15.3ZM294.8 23.6L294 23.7L293.9 23.3L295.8 21.2L297.8 20.1L298 20.3L297.3 22.7L294.8 23.6ZM326.5 22.8L325.3 22L325.1 21.1L326.5 21.8L326.8 22.3L326.5 22.8ZM293.5 24L293.5 23.7L293.5 24ZM329 149.8L329 149.5L329 149.8ZM324.8 153.1L324.5 152.8L324.8 151.3L325.4 150.3L326.3 149.9L328.7 149.8L326.8 152L324.8 153.1ZM297.3 152.4L296 151.4L295.8 150.6L296.3 150.4L297.1 151.1L297.3 152.4ZM346.5 157.8L346.5 157.4L346.5 157.8ZM347 158.6L346.5 158.3L346.8 158L347 158.6ZM350.5 164.1L347.4 164.1L346.8 158.6L347.4 158.8L349.5 161.8L350.5 164.1Z"/>
<path fill="none" stroke="#50505a" stroke-width="0.55" stroke-opacity="0.8" d="M311.8 89.3L313.1 88.1L313.4 86.1L312.5 84.3L311 83.8L310.2 84.1L309.5 84.8L309 87.1L310 89L311 89.4L311.8 89.3M311.5 92.6L313.3 91.9L314.6 90.6L315.6 88.6L315.8 86.3L315.4 84.1L314.3 82.1L312.8 81L311 80.6L309.3 81.2L307.8 82.6L306.8 84.6L306.6 86.8L307 89.1L308.1 91.1L309.8 92.3L311.5 92.6M312.3 95.6L314.8 94.4L316.8 92.1L318 89.1L318.3 85.6L317.4 82.3L315.8 79.7L313.5 78L310.8 77.5L308 78.5L305.8 80.8L304.4 84.1L304.1 87.6L305 91.1L306.9 93.8L309.5 95.4L312.3 95.6M312.7 98.6L314.5 98L316.3 96.8L318.9 93.8L320.5 89.8L320.8 85.3L319.6 80.8L317.3 77.3L315.8 76L314 75L312.3 74.5L310.5 74.5L308.5 75L306.8 75.9L305.1 77.3L303.8 79L302.7 81.1L302 83.3L301.7 88.1L302.9 92.6L304 94.6L305.5 96.3L307.3 97.6L309 98.4L311 98.7L312.7 98.6M312.9 101.6L315.2 100.8L317.3 99.6L319.2 97.8L320.8 95.8L322 93.4L322.9 90.8L323.3 88.1L323.3 85.1L322.9 82.3L321.9 79.6L320.6 77.1L319 75.1L317 73.4L315 72.3L312.8 71.6L310.5 71.5L308.3 71.9L305.9 73.1L303.8 74.7L302 76.8L300.6 79.3L299.6 82.1L299.1 85.1L299.1 88.1L299.6 91.1L300.5 93.8L302 96.3L303.8 98.5L306 100.2L308.3 101.3L310.8 101.7L312.9 101.6M312.7 104.6L315.5 103.8L318 102.5L320.4 100.6L322.5 98.1L324.1 95.3L325.3 92.1L326 88.8L326 85.6L325.6 82.3L324.6 79.1L323.1 76.1L321.3 73.6L318.9 71.3L316.3 69.7L313.5 68.8L310.8 68.5L307.8 69.1L305 70.3L302.5 72.2L300.3 74.6L298.4 77.6L297.2 80.8L296.5 84.3L296.4 87.8L296.9 91.3L298 94.6L299.6 97.6L301.8 100.3L304.3 102.4L307 103.9L310 104.6L312.7 104.6M311.3 107.6L314.5 107.1L317.8 105.8L320.8 103.8L323.6 101.1L325.9 97.8L327.5 94.3L328.5 90.6L328.9 86.6L328.5 82.6L327.5 78.8L325.9 75.3L323.6 72.1L320.8 69.3L317.8 67.4L314.5 66.1L311.3 65.6L307.8 66.1L304.5 67.4L301.5 69.4L298.8 72.1L296.6 75.3L294.9 78.8L293.9 82.6L293.5 86.6L293.9 90.6L294.9 94.3L296.5 97.8L298.8 101.1L301.5 103.8L304.6 105.8L308 107.1L311.3 107.6M311.8 110.3L315.8 109.5L319.5 107.9L323 105.5L326 102.4L328.5 98.8L330.4 94.8L331.5 90.6L331.8 86.3L331.4 82.1L330.2 77.8L328.2 73.8L325.7 70.3L322.6 67.3L319 65L315.3 63.5L311.3 62.8L307.3 63.5L303.5 64.9L299.9 67.3L296.7 70.3L294 74.1L292.1 78.1L291 82.3L290.6 86.8L291.1 91.3L292.3 95.6L294.3 99.6L297 103.2L300.3 106.2L304 108.5L308 109.9L311.8 110.3M313.2 112.8L317.5 111.7L321.8 109.6L325.5 106.8L328.9 103.3L331.6 99.3L333.5 94.8L334.6 90.3L334.9 85.6L334.3 80.8L332.8 76.3L330.5 72.1L327.6 68.3L324 65.1L320 62.6L315.5 60.9L311.3 60.2L306.5 61L302 62.8L297.8 65.6L294.2 69.1L291.1 73.3L289 77.8L287.8 82.6L287.5 87.6L288.2 92.6L289.8 97.3L292.4 101.8L295.7 105.8L299.8 109.1L304.3 111.5L309.3 112.8L311.3 113L313.2 112.8M311.4 115.6L316.5 114.6L321.5 112.6L326.3 109.6L330.4 105.8L333.7 101.6L336.2 96.8L337.7 91.8L338.3 86.6L337.7 81.3L336.2 76.3L333.7 71.6L330.3 67.1L326 63.3L321.3 60.4L316.3 58.5L311.3 57.6L306 58.6L301 60.5L296.3 63.5L292.2 67.1L288.7 71.6L286.2 76.3L284.7 81.3L284.1 86.6L284.7 91.8L286.2 96.8L288.6 101.6L292.1 106.1L296.3 109.8L301 112.7L306.3 114.7L311.4 115.6M312.8 117.8L318.5 116.4L324 114L329.3 110.6L333.7 106.6L337.3 101.8L339.9 96.8L341.5 91.6L341.9 86.1L341.2 80.6L339.5 75.3L336.6 70.3L332.7 65.6L328 61.6L322.8 58.5L317 56.3L311.3 55.2L305.5 56.3L299.5 58.6L294 61.9L289.3 66.1L285.4 70.8L282.6 76.1L280.9 81.6L280.5 87.3L281.3 93.1L283.3 98.6L286.4 103.8L290.5 108.4L295.5 112.4L301.3 115.4L307.8 117.5L311.3 118L312.8 117.8M312.8 120.1L319.3 118.5L325.8 115.7L331.7 112.1L336.6 107.8L340.7 102.8L343.7 97.3L345.5 91.8L346 86.1L345.3 80.3L343.2 74.6L339.8 69.1L335.6 64.3L330.3 60.1L324.3 56.7L317.8 54.2L311.3 52.9L304.5 54.3L297.8 56.9L291.5 60.5L286.4 64.8L282.1 69.8L278.8 75.6L276.9 81.3L276.4 87.3L277.3 93.3L279.5 99.1L282.9 104.6L287.5 109.6L293.3 113.9L300 117.3L307.5 119.7L311.3 120.3L312.8 120.1M312 122.3L319.3 120.6L327 117.6L333.8 113.8L339.5 109.3L344.3 104.1L348 98.1L350.1 92.1L350.7 86.3L349.9 80.3L347.6 74.3L343.9 68.6L339 63.3L333.3 58.9L326.5 55.3L318.6 52.3L311.3 50.8L303.8 52.4L296 55.3L289.1 59.1L283.2 63.6L278.4 68.8L274.6 74.8L272.4 80.8L271.7 86.8L272.5 92.8L274.9 99.1L278.9 105.1L283.9 110.3L290 114.8L297 118.4L305.5 121.3L310 122.3L312 122.3M311.9 124.3L320.5 122.2L330 118.6L337.2 114.8L343.3 110.3L348.7 104.8L353 98.6L354.4 95.6L355.5 92.3L356.1 89.3L356.3 86.3L356 83.3L355.4 80.3L352.7 74.1L348.3 67.8L342.5 62.1L336.5 57.8L329.1 54.1L319.8 50.7L311.3 48.8L302.6 50.8L293.3 54.2L285.7 58.1L279.4 62.6L273.7 68.3L269.4 74.6L267.9 77.8L266.9 80.8L266.3 83.8L266.1 86.8L266.4 89.8L267.1 93.1L269.8 99.3L274.2 105.6L280.1 111.3L286.7 115.8L294.4 119.6L304.5 123L309.5 124.2L311.9 124.3M312.4 126.1L321.9 123.6L333.8 119.3L341.3 115.7L347.7 111.3L354.4 105.1L359.4 98.6L361.1 95.3L362.3 92.3L363 89.3L363.2 86.3L362.9 83.3L362.1 80.3L360.8 77.1L358.9 73.8L353.5 67.1L346.8 61.1L340.3 56.8L332.9 53.3L321.3 49.3L311.3 46.9L301.5 49.3L289.9 53.3L281.9 57.1L275.4 61.3L268.7 67.3L265.9 70.6L263.4 74.1L261.5 77.3L260.2 80.6L259.5 83.8L259.2 86.8L259.5 89.8L260.4 93.1L261.7 96.3L263.6 99.6L269.1 106.3L276.1 112.6L283.4 117.1L292 120.8L305.8 125.1L311 126.3L312.4 126.1M312.3 127.8L323.3 124.9L338.5 119.9L345.5 116.8L352.5 112.6L361 105.8L364.7 102.1L367.7 98.6L369.9 95.3L371.4 92.3L372.3 89.3L372.5 86.3L372.1 83.3L371.1 80.3L369.4 77.1L367.1 73.8L364 70.3L360.2 66.6L351.6 59.8L344.5 55.7L337.2 52.6L321.8 47.8L311.3 45.1L297.5 48.8L284.4 53.1L277 56.3L270.3 60.3L261.8 67.1L257.9 70.8L254.9 74.3L252.7 77.6L251.1 80.8L250.2 83.8L249.9 86.8L250.2 89.8L251.3 93.1L253.1 96.3L255.5 99.6L258.8 103.3L262.7 107.1L271.4 113.8L278.4 117.8L286.4 121.1L305.9 126.8L311 128L312.3 127.8M311.7 129.6L338.6 122.3L345 120.3L354.5 116.1L364.6 110.1L371.8 105.1L377.9 100.3L382.4 96.3L385.4 92.8L387.1 89.8L387.7 86.8L387.3 83.8L385.7 80.8L381.3 75.8L373.5 69.3L362.4 61.6L352.9 56.1L347 53.4L341 51.3L311.3 43.5L280.8 51.7L275 53.8L269 56.5L259.4 62.1L248.7 69.6L240.8 76.1L236.5 81.1L235 84.3L234.7 87.3L235.5 90.3L237.5 93.6L240.7 97.1L245.6 101.3L252.6 106.6L260.3 111.8L269.8 117.3L278.5 121L307.5 128.8L311.7 129.6M389.5 68.6L379.5 64.2L361 55.3L352.5 52L344.3 49.6L327.8 46.3L311.3 42L298 45.7L278.5 49.8L269.6 52.3L260.8 55.8L233.5 68.4M233.5 104.9L243.3 109.2L261.2 117.8L270 121.3L277.8 123.6L294.8 127L311.3 131.2L326.8 126.9L343.8 123.4L353.3 120.6L361.7 117.3L380 108.7L389.5 104.6M389.5 60.2L379.8 57.3L362.5 51.2L356.1 49.3L347.2 47.6L328.5 45L311.3 40.5L301 43.6L293.8 45.3L274.3 48.1L265.5 49.9L233.5 60.1M233.5 113.1L242.8 116L259.9 122.1L266.5 124L274.8 125.6L294 128.2L300.8 129.7L311.3 132.7L320.5 129.9L328.5 127.9L348.3 125L357.3 123.2L389.5 112.9M389.5 53.7L360.5 46.5L352.8 45.5L335.8 44.6L330 44L321.5 42.2L311.3 39.2L301.3 42.3L294 44L287.3 44.9L270.8 45.9L263 46.7L255.8 48.2L233.5 53.6M233.5 119.7L262.3 126.9L270 127.9L286.5 128.6L292.5 129.3L300.8 130.9L311.3 134L320 131.2L328.5 129.2L334.5 128.4L352.5 127.2L359.8 126.3L367 124.9L389.5 119.5M389.5 47.9L368.8 43.9L361.3 42.8L354.8 42.6L336.5 43.2L329.8 42.7L321 41L311.3 37.8L300.8 41.4L292 43.1L285.3 43.6L267 43.2L260.5 43.5L252 44.6L233.5 47.9M233.5 125.4L253.8 129.4L261.5 130.5L268 130.7L285.8 130L292.8 130.5L300.8 132L311.3 135.3L321 132.1L330.5 130.1L337 129.6L356 129.8L362.6 129.6L370.8 128.5L389.5 125.2M389.5 42.7L372 40.1L363 39.3L357 39.6L340.3 41.6L331 41.8L326.5 41.2L321.3 40L311.3 36.6L300.3 40.5L295.5 41.5L290.3 42.1L285.8 42.3L279 41.9L265.3 40.4L258.5 40.2L248.8 40.8L233.5 42.8M233.5 130.6L251 133.3L260 134L266 133.7L276.8 132.2L284.3 131.5L291 131.4L300.3 132.9L311.3 136.6L321.5 133L327.3 131.7L331.8 131.1L336.5 130.9L344 131.3L358.3 132.8L364.8 133L374.3 132.4L389.5 130.3M389.5 37.9L374 36L365 35.8L357.5 36.7L344 39.7L336.5 40.6L332 40.8L327.5 40.3L321.8 39.2L317.3 37.8L311.3 35.4L305 38L299.5 39.7L293.8 40.8L288.3 41.1L278 40.3L264.3 37.6L255.8 36.7L246.3 36.8L233.5 38.1M233.5 135.4L249 137.3L258 137.5L265.5 136.6L279 133.5L285.5 132.6L290 132.5L295.3 132.9L300 133.8L305 135.3L311.3 137.8L317.5 135.2L322.5 133.6L328.5 132.4L333.8 132L345 132.9L359 135.6L367.3 136.4L376.5 136.4L389.5 135.1M389.5 33.3L375.3 32L366.8 32.2L358 33.9L344.5 38.2L337 39.4L332.8 39.8L328 39.5L321.8 38.3L317.3 36.8L311.3 34.2L305.3 37L300 38.7L294.8 39.7L289 40.1L285 39.9L277.8 38.8L263.8 35.1L253.5 33.2L244.5 32.8L233.5 33.7M233.5 140L247.8 141.3L256.5 141.1L265.3 139.3L278.3 135.1L285.3 133.8L289.3 133.5L294.8 133.8L299.8 134.6L305 136.3L311.3 139L317 136.3L321.5 134.8L328 133.4L333 133L337 133.2L345.3 134.4L359.8 138.2L369.5 140L378.3 140.4L389.5 139.5M389.5 28.9L375.8 28L371.3 28.1L367.5 28.6L360.3 30.6L345.5 36.6L335 38.7L329.5 38.8L322.8 37.7L317.5 36L311.3 33.1L305.5 35.9L300.3 37.8L295.5 38.8L289.8 39.2L285.3 38.9L277.5 37.5L260 31.6L252.5 29.8L245.3 29L233.5 29.5M233.5 144.3L247 145.2L251.8 145.1L255.8 144.6L263 142.5L277.5 136.6L287.3 134.5L292.5 134.4L299 135.3L304.8 137.1L311.3 140.1L316.5 137.4L321 135.8L326.8 134.5L332.3 133.9L336.8 134.2L345.5 135.7L363.5 141.8L370.5 143.6L376.5 144.2L389.5 143.7M389.5 24.7L376 24.1L372 24.3L368 25L362.3 27L345.8 35.2L342.5 36.2L335.3 37.7L329.5 38L322.8 36.9L317.5 35.2L311.3 31.9L305.8 35L300.8 36.9L296.3 37.9L290.3 38.4L285.5 38L277.5 36.2L258.3 28.5L251.5 26.4L245.8 25.6L233.5 25.7M233.5 148.5L247 149L251.3 148.7L255.3 148L261.8 145.7L277.5 137.9L287.3 135.5L293 135.3L299.3 136.1L304.8 138L311.3 141.3L316.3 138.4L320.5 136.7L326.3 135.3L331.8 134.8L336.8 135.2L345.5 137L365.5 145.2L371.3 147L377.5 147.7L389.5 147.6M389.5 20.7L376.5 20.4L371.8 20.8L368.5 21.5L362.8 23.9L355.2 28.6L345 34.3L336.5 36.6L331.3 37.2L325.8 36.8L320.5 35.5L316.5 33.8L311.3 30.8L305 34.5L299.3 36.6L292.3 37.5L286.5 37.3L280 35.9L276.8 34.8L257.5 25.7L251.3 23.4L248.8 22.8L244.8 22.4L233.5 22.1M233.5 152.5L246.3 152.7L250.3 152.3L254.8 151.2L261.7 148.3L277.5 139.1L280.5 138L287 136.3L292.8 136L299.3 136.9L305 138.9L311.3 142.4L316.3 139.3L320.5 137.5L325.8 136.2L331.5 135.6L336.5 136L345.8 138.2L357 143.4L365.5 147.9L371.8 150.1L378.8 151L389.5 151.1M389.5 16.8L377.3 16.8L372.5 17.3L369 18.1L362.8 21.1L354.4 27.3L345 33.2L342.3 34.2L336.3 35.9L331.3 36.5L325.5 36L320.5 34.8L316.3 32.9L311.3 29.6L305 33.7L299.3 35.9L292.8 36.8L286.5 36.5L280 34.9L276.8 33.7L266.8 28.6L257 23.1L250.3 20.3L242.8 19.2L233.5 18.8M233.5 156.4L245 156.3L249.5 155.7L253 154.8L257 153.3L260.8 151.3L269.2 145.6L278.3 139.9L286 137.4L291.3 136.7L297 137.1L301.8 138.3L306 140.2L311.3 143.6L317 139.7L322.3 137.6L329.8 136.3L332.8 136.3L336 136.7L342.8 138.2L346.5 139.6L356.3 144.7L365.3 150.2L371.3 152.9L379 154L389.5 154.4M389.5 13.2L382.8 13.1L377 13.4L372.5 14.1L368.5 15.3L362.5 18.7L353.5 26.3L345 32.1L342.3 33.3L336.3 35.1L331 35.8L325.3 35.3L320.3 34L316.3 32.1L311.3 28.5L305.2 32.8L299.5 35.2L296.3 35.8L293 36.1L289.5 36.1L286.5 35.8L280.3 34.1L277 32.8L267.6 27.6L257.3 21.1L251.5 18.2L243.5 16.6L233.5 15.8M233.5 160L245 159.6L249.3 159L253 157.9L260.5 153.8L270 146.6L278.5 140.8L286.3 138.1L291.5 137.4L297 137.8L302 139.1L306 141L311.3 144.7L316.9 140.6L322 138.4L325.8 137.5L329.8 137L332.8 137L336 137.5L343 139.2L347 140.9L355.6 145.8L364.5 152.1L370.3 155.1L378.8 156.7L389.5 157.4M383.9 9.8L374 10.8L370.5 11.7L367.3 13L361.3 17.2L352.6 25.6L344.8 31.2L342 32.6L336 34.4L331 35.2L325.3 34.7L320.5 33.5L316.8 31.6L311.8 27.8L311.3 27.7L310.8 27.8L304.8 32.3L299.5 34.5L296.3 35.2L293 35.5L289.5 35.5L286.5 35L280.3 33.3L277.3 31.9L268.6 26.8L258.5 19.9L252.5 16.3L244 14.3L233.5 13.2M233.5 163.4L239.5 163.2L245.3 162.7L249.5 161.9L253.5 160.5L261 155.6L270.8 147.4L278.5 141.8L281 140.6L286.5 138.7L291.5 138.1L297 138.4L302 139.8L305.7 141.6L310.8 145.5L311.3 145.5L317.3 141.1L322 139L325.8 138.1L330 137.6L333 137.7L336 138.2L342.8 140L346.8 141.8L354.7 146.6L363 153.1L369 156.9L373.3 158.1L378 159L385.3 159.9L389.5 160.1M368.4 9.8L366 11L361.8 14.5L352.3 24.5L345.8 29.6L342.8 31.4L338.5 32.9L335 34L331.8 34.5L327.8 34.4L324 33.9L321 33L318.5 31.9L315.8 30.1L312.3 27.1L311.3 26.9L310.3 27.1L306 30.8L302.3 33L297.3 34.5L292 34.9L286.8 34.4L281 32.7L278.5 31.7L269.3 26.1L259.3 18.6L253.3 14.6L244.8 12.2L237.8 11.1L233.5 10.8M251.2 164.1L256 161.8L263.5 155.4L271.3 148.3L278.4 142.8L280.8 141.5L286.3 139.5L289 138.9L292.8 138.7L296 138.8L299 139.4L304.3 141.5L306.7 143.1L310.3 146.1L311.3 146.3L312.2 146.1L317 142L320.3 140.2L325.3 138.8L330.8 138.2L336 138.8L342.3 140.6L345 141.8L353.9 147.3L363 155L368.3 158.6L372.5 160L377.5 161.1L386 162.3L389.5 162.5M364.3 9.8L358.9 15.3L350.7 24.6L343.5 30.2L337.8 32.5L334.8 33.4L331.5 33.9L327.3 33.8L323.5 33.2L321 32.5L318.7 31.3L316.2 29.6L312.8 26.5L311.3 26.1L309.8 26.5L305.7 30.3L302 32.5L297.3 33.9L292 34.4L287 33.9L279.3 31.3L269.9 25.3L254.3 13.2L248.8 11.3L242.3 9.8M256.4 164.1L271.8 149.1L277.9 144.1L280.8 142.2L286.3 140.2L289 139.5L292.8 139.2L296.3 139.4L299.3 140L304 142L306.3 143.6L309.8 146.7L311.3 147.1L312.8 146.6L316.8 142.9L320.5 140.7L325.5 139.3L331 138.8L333.8 139L337.3 139.8L342.5 141.4L345.4 142.8L353.3 148.1L362.2 156.1L367.5 160.1L374.3 162.3L383.6 164.1M362 9.8L350.1 24.1L343 29.7L337 32.1L333.8 33.1L331 33.4L326.8 33.2L323 32.6L318.8 30.8L316.5 29.1L313.3 25.9L311.3 25.4L309.3 26L305.5 29.7L302 31.9L297.3 33.4L292.5 33.8L287 33.3L279.3 30.5L269.7 24.1L255 11.9L249.6 9.8M258.9 164.1L262.9 159.3L273.1 149.1L280 143.4L286.5 140.7L289.3 140L293.3 139.8L296.5 140L299.3 140.6L303.5 142.3L305.9 144.1L309.3 147.3L311.3 147.8L313.3 147.1L317.1 143.3L320.8 141.1L325.3 139.9L331 139.3L335.5 139.9L341.8 141.8L344 142.8L352.8 148.7L361.3 156.9L366.5 161.2L370.3 162.8L374.7 164.1M267.5 21.3L255.9 10.8L253.8 9.8M360.3 9.8L349.5 23.6L342.5 29.3L335 32.2L332.3 32.8L329 32.9L325.5 32.6L322.3 31.8L318 29.6L313.8 25.5L312.8 24.9L311.3 24.7L309.8 25L308.8 25.6L305.7 28.8L303 30.8L300.5 32L297.5 32.9L294 33.3L289.3 33.1L287 32.7L282.8 31.3M267.8 21.5L267.6 21.3M268 21.7L267.9 21.6M268.3 21.9L268.2 21.8M268.8 22.3L268.5 22.1M269 22.5L268.8 22.3M269.3 22.7L269.1 22.6M269.5 22.9L269.5 22.8M269.8 23.1L269.8 23.1M280.8 30.6L280.8 30.6M281.5 30.9L281.4 30.8M282.8 31.3L282.1 31.1M260.7 164.1L263.7 160.1L267.3 156.2L273.4 149.8L278.8 145.1L281.5 143.3L287.5 141L290.5 140.4L294.5 140.3L299.8 141.2L302.3 142.2L304.3 143.5L308.8 147.8L309.8 148.3L311.3 148.5L312.8 148.2L313.8 147.6L316.8 144.4L319.1 142.6L321.5 141.4L324 140.6L328 140L332.3 139.9L335.3 140.4L339.8 141.8M340.3 142L340.6 142.1M352.8 149.8L352.8 149.8M353 150L353.1 150.1M353.3 150.3L353.3 150.3M353.5 150.5L353.6 150.6M353.8 150.7L353.9 150.8M354 151L354.1 151.1M354.3 151.2L360.3 157.4L365.8 162.3L369.7 164.1M263.3 16.4L256.6 9.8M358.9 9.8L349 23.1L342.3 28.8L335 31.7L332.3 32.3L329 32.4L325.5 32.1L322.5 31.4L320.3 30.5L318.3 29.1L314.3 25L313 24.3L311.3 24L309.5 24.4L308.8 24.8L304.3 29.4L302.3 30.7L300 31.7L294.8 32.8L290.5 32.7L287.6 32.3M263.5 16.6L263.5 16.6M286.8 32.1L286.7 32.1M262.2 164.1L265.1 159.8L274.3 150L280.8 144.4L287.3 141.6L290.3 141L294.3 140.8L296.8 141L299.5 141.6L301.9 142.6L304 143.9L308.5 148.3L309.5 148.9L311.3 149.2L313 148.8L314 148.2L318 144L322 141.7L324.8 140.9L328.3 140.5L331.8 140.4L334.7 140.8M335.5 141L335.6 141.1M358 156.4L358.2 156.6M358.3 156.7L358.4 156.8M358.5 156.9L364.8 163.1L366.3 164.1M259.3 11.1L258.1 9.8M357.8 9.8L349.8 21.1L348 23.1M259.8 11.6L259.3 11.1M260 11.9L260 11.8M260.3 12.2L260.2 12.1M348 23.1L347.8 23.3M339.1 29.6L335 31.1L332.3 31.8L328 31.9L324.3 31.4L320 29.8L317.8 28.1L314.7 24.6L313.3 23.7L311.3 23.4L309.3 23.8L308 24.6L304.5 28.6L301.3 30.7L296.5 32.1L291.8 32.3M347.7 23.3L347.5 23.5M347.5 23.6L347.3 23.7M347.2 23.8L347 24M346.9 24.1L346.8 24.2M346.6 24.3L346.5 24.4M346.3 24.6L346.3 24.6M346.1 24.8L346 24.9M345.8 25.1L345.8 25.1M340.4 29.1L340 29.2M339.7 29.3L339.3 29.5M283.1 143.8L287.3 142.1L289.3 141.6L294.3 141.2L297.5 141.6L300.5 142.5L302.5 143.5L304.9 145.3L307.8 148.6L309.3 149.5L311.3 149.8L313.3 149.4L314.5 148.6L318 144.6L321.3 142.5L325.5 141.3L330.5 140.9M282.6 144.1L283 143.9M282 144.3L282.3 144.2M281.5 144.6L281.5 144.5M280.7 145.1L280.8 145M279.5 146.1L279.5 146.1M279.3 146.3L279.3 146.3M279 146.6L279 146.5M278.7 146.8L278.8 146.8M278.4 147.1L278.5 147M278.2 147.3L278.3 147.2M277.9 147.6L278 147.5M277.6 147.8L277.8 147.7M277.4 148.1L277.5 147.9M277.1 148.3L277.3 148.2M276.8 148.6L277 148.4M276.6 148.8L276.8 148.6M276.3 149.1L276.5 148.8M263.4 164.1L266 160.1L274.4 150.8L276.3 149.1M361.3 161L361.3 161.1M361.5 161.3L361.6 161.3M361.8 161.5L362.5 162.3M362.5 162.3L364.3 164.1M356.7 9.8L350.5 18.9M350.4 19.1L350.3 19.3M350.1 19.6L350 19.7M333.5 31.1L327.3 31.4L322.3 30.4L318.8 28.3L314.5 23.8L313.5 23.1L311.3 22.8L309 23.2L307.5 24.3L304.6 27.8L302 29.8L299 31.1L295.5 31.8M335.8 30.3L335.8 30.3M335.2 30.6L335 30.6M334.4 30.8L333.8 31M295.4 31.8L294 31.9M288.2 142.3L294.8 141.7L299.8 142.7L301.8 143.5L303.6 144.8L308.2 149.6L309 150.1L311.3 150.4L313.5 150L314.8 149.1L318 145.3L320.8 143.2L323.8 142.1L328 141.4M287.4 142.6L287.5 142.5M273.5 152.8L273.5 152.8M273.3 153.1L273.3 153M272.6 153.8L272.8 153.6M272.4 154.1L272.5 153.9M264.4 164.1L266.6 160.6L272.3 154.2M355.9 9.8L353 14.3M353 14.3L352.8 14.7M352.7 14.8L352.5 15.1M352.3 15.3L352.3 15.4M351.8 16.1L351.8 16.1M331.3 30.9L326 30.8L321.8 29.7L318.8 27.7L314.8 23.2L313.8 22.6L311.3 22.1L308.5 22.8L307 24L303.5 28.2L300 30.3M299.9 30.3L299.5 30.5M299.2 30.6L298.8 30.7M298.4 30.8L298 30.9M325.8 142.1L325.8 142.1M291.1 142.3L296 142.2L300.5 143.4L303.5 145.3L307.8 150L308.8 150.6L311.3 151L314 150.3L315.3 149.3L318.8 145.2L322 143.1M324.5 142.3L324.8 142.3M323.5 142.6L323.8 142.5M322.7 142.8L323 142.7M322 143.1L322.5 142.9M270 157.6L270 157.5M269.8 157.8L269.8 157.8M269.3 158.3L269.5 158.1M269.1 158.6L269.3 158.4M265.3 164.1L266.8 161.3L269 158.7M355.1 9.8L354.5 10.9M354.4 11.1L354.3 11.3M354.1 11.6L354 11.7M327.3 30.5L324 30.1L321.3 29L319 27.3L316 23.6L315 22.8L314 22.1L311.5 21.6L308.3 22.3L306.7 23.6L303.8 27.4M303.6 27.6L303.5 27.6M303.3 27.8L303.3 27.9M294.8 142.5L295.5 142.6M296.3 142.7L297.2 142.8M297.3 142.8L300 143.6L302.2 144.8L304 146.4L306.7 149.8L308.5 151.2L309.5 151.4L311.3 151.6L314 151L315.8 149.6L318 146.6M319.5 145.1L319.5 145.1M319.2 145.3L319.3 145.3M319 145.6L319 145.5M318.7 145.8L318.8 145.8M318 146.6L318.5 146M267.1 162.1L267.3 161.8M266.8 162.6L267 162.2M266.1 164.1L266.8 162.7M319 26.7L316.2 23.1L314.3 21.6L312.5 21.2L311 21L308.3 21.7L306.5 23.1L305.5 24.5M305.4 24.6L305.3 24.8M305.1 25.1L305 25.2M319.3 27L319.1 26.8M319.5 27.2L319.3 27.1M319.8 27.5L319.6 27.3M320 27.7L319.9 27.6M320.3 27.9L320.2 27.8M321 28.4L320.9 28.3M321.8 28.8L321.8 28.8M301.8 145L301.9 145.1M302.5 145.6L302.5 145.6M302.8 145.8L302.8 145.8M303 146L303.1 146.1M303.3 146.3L304 147.1M304 147.1L306.2 150.1L307.8 151.3L308.3 151.7L310.8 152.2L314.3 151.5L316 150L316.8 149M317.3 148.3L317.3 148.3M316.9 148.8L317 148.6M317.3 23.7L316.5 22.7L314.5 21.1L311.3 20.4L308.3 21.1L306.5 22.5M306.4 22.6L306.3 22.7M306.1 22.8L306 22.9M317.5 24.1L317.3 23.8M317.8 24.4L317.7 24.3M304.5 148.5L304.6 148.6M304.8 148.8L304.9 149.1M305 149.2L306 150.6L308 152.1L310 152.6L311.3 152.8L314 152.1L315.8 150.9M316.1 150.6L316.3 150.4M315.8 150.8L316 150.7M316.8 22.3L314.6 20.6L311.8 20L309.3 20.3L307.5 21M307.4 21.1L307.3 21.2M307.1 21.3L307 21.4M305.5 150.7L305.6 150.8M305.8 150.9L305.9 151.1M306 151.2L306.2 151.3M306.3 151.4L308 152.7L311 153.3L314.8 152.3M315.1 152.1L315.3 151.9M314.8 152.3L315 152.1M315 20.2L311.3 19.4L308.5 20M315.3 20.4L315.1 20.3M315.5 20.6L315.4 20.6M315.8 20.9L315.7 20.8M307.3 152.8L307.3 152.8M307.5 153L311.3 153.8L313.3 153.4M313.5 153.3L313.8 153.3M312.8 19.1L312.4 19.1"/>
<path fill="#fff" stroke="#c0282a" stroke-width="0.6" d="M72.6 -60L272.6 9.7L272.8 10L273 10.4L273.3 11L273.7 11.6L274.1 12.2L274.5 13L275 13.9L275.6 14.9L276.2 16L276.9 17.2L277.6 18.3L278.3 19.3L279.1 20.3L279.9 21.2L280.7 22.1L281.6 23L282.5 23.7L283.3 24.3L284.1 24.7L285 25.1L285.8 25.3L286.7 25.4L287.5 25.5L288.3 25.5L289.1 25.5L289.8 25.3L290.5 25.2L291.3 24.9L292 24.6L292.7 24.3L293.4 23.9L294.2 23.5L294.9 23.1L295.7 22.6L296.4 22.1L297 21.5L297.6 20.8L298 20.1L298.5 19.3L298.9 18.5L299.4 17.7L300 17L300.7 16.3L301.5 15.7L302.3 15L303.2 14.4L304.1 13.9L305 13.5L306 13.2L307 12.9L308 12.7L309.1 12.6L310.1 12.5L311.2 12.5L312.3 12.5L313.3 12.6L314.4 12.7L315.5 12.9L316.5 13.2L317.5 13.5L318.4 13.9L319.3 14.4L320.2 15L321 15.7L321.8 16.3L322.5 17L323.1 17.7L323.5 18.4L323.8 19.2L324.2 20L324.7 20.8L325.5 21.5L326.6 22.3L328 23.1L329.5 23.9L331 24.6L332.5 25.1L333.8 25.5L335 25.6L336.1 25.6L337.1 25.5L338.1 25.2L339.1 24.8L340 24.3L340.9 23.7L341.8 23L342.7 22.1L343.6 21.2L344.3 20.3L345 19.3L345.6 18.3L346.1 17.2L346.5 16L346.9 14.9L347.3 13.9L347.6 13L347.9 12.2L348.1 11.6L348.4 11L348.5 10.4L348.7 10L348.8 9.7L548.8 -60Z"/>
<path fill="#fff" stroke="#c0282a" stroke-width="0.6" d="M72.6 233.2L272.6 163.5L272.8 163.2L273 162.8L273.3 162.2L273.7 161.6L274.1 161L274.5 160.2L275 159.3L275.6 158.3L276.2 157.2L276.9 156L277.6 154.9L278.3 153.9L279.1 152.9L279.9 152L280.7 151.1L281.6 150.2L282.5 149.5L283.3 148.9L284.1 148.5L285 148.1L285.8 147.9L286.7 147.8L287.5 147.7L288.3 147.7L289.1 147.7L289.8 147.9L290.5 148L291.3 148.3L292 148.6L292.7 148.9L293.4 149.3L294.2 149.7L294.9 150.1L295.7 150.6L296.4 151.1L297 151.7L297.6 152.4L298 153.1L298.5 153.9L298.9 154.7L299.4 155.5L300 156.2L300.7 156.9L301.5 157.5L302.3 158.2L303.2 158.8L304.1 159.3L305 159.7L306 160L307 160.3L308 160.5L309.1 160.6L310.1 160.7L311.2 160.7L312.3 160.7L313.3 160.6L314.4 160.5L315.5 160.3L316.5 160L317.5 159.7L318.4 159.3L319.3 158.8L320.2 158.2L321 157.5L321.8 156.9L322.5 156.2L323.1 155.5L323.5 154.8L323.8 154L324.2 153.2L324.7 152.4L325.5 151.7L326.6 150.9L328 150.1L329.5 149.3L331 148.6L332.5 148.1L333.8 147.7L335 147.6L336.1 147.6L337.1 147.7L338.1 148L339.1 148.4L340 148.9L340.9 149.5L341.8 150.2L342.7 151.1L343.6 152L344.3 152.9L345 153.9L345.6 154.9L346.1 156L346.5 157.2L346.9 158.3L347.3 159.3L347.6 160.2L347.9 161L348.1 161.6L348.4 162.2L348.5 162.8L348.7 163.2L348.8 163.5L548.8 233.2Z"/>
<filter id="bl1" x="-50%" y="-50%" width="200%" height="200%"><feGaussianBlur stdDeviation="1.1"/></filter>
<filter id="bl2" x="-50%" y="-50%" width="200%" height="200%"><feGaussianBlur stdDeviation="2.2"/></filter>
<filter id="bl05" x="-50%" y="-50%" width="200%" height="200%"><feGaussianBlur stdDeviation="0.5"/></filter>
<g><ellipse cx="311.3" cy="33" rx="12" ry="9" fill="#1a1a0c" opacity="0.45" filter="url(#bl2)"/><path d="M295.5 21.5L300 17L305 13.5L311.2 12.5L317.5 13.5L322.5 17L327 21.5C327 27 324.5 33 320 38C316 42.5 306.5 42.5 302.5 38C298 33 295.5 27 295.5 21.5Z" fill="#060606" filter="url(#bl1)"/><circle cx="297.5" cy="32.5" r="2.3" fill="#d8d040" opacity="0.8" filter="url(#bl1)"/><circle cx="325.2" cy="32.5" r="2.3" fill="#d8d040" opacity="0.8" filter="url(#bl1)"/><path d="M308 31L311 27.5L314 31L311 33Z" fill="#6a7290" opacity="0.8" filter="url(#bl05)"/><circle cx="306.6" cy="25.4" r="1.5" fill="#707070" opacity="0.6" filter="url(#bl05)"/><circle cx="316" cy="25.4" r="1.5" fill="#707070" opacity="0.6" filter="url(#bl05)"/><circle cx="303.7" cy="30" r="1.6" fill="#fff" filter="url(#bl05)"/><circle cx="318.6" cy="30" r="1.6" fill="#fff" filter="url(#bl05)"/><path d="M306.6 33.6A4.8 5 0 0 0 316.2 33.6A3.2 2.4 0 0 1 306.6 33.6Z" fill="#fff" filter="url(#bl05)"/><path d="M290.3 15.3L297 20.5L293.5 23.5Z" fill="#050505" filter="url(#bl05)"/><path d="M332 15.3L325.3 20.5L328.8 23.5Z" fill="#050505" filter="url(#bl05)"/><circle cx="289" cy="14" r="1.5" fill="#fff" stroke="#222" stroke-width="0.6"/><circle cx="333.3" cy="14" r="1.5" fill="#fff" stroke="#222" stroke-width="0.6"/><circle cx="294.5" cy="22" r="0.9" fill="#fff" opacity="0.8"/><circle cx="327.8" cy="22" r="0.9" fill="#fff" opacity="0.8"/></g>
<g transform="matrix(1 0 0 -1 0 173.2)"><ellipse cx="311.3" cy="33" rx="12" ry="9" fill="#1a1a0c" opacity="0.45" filter="url(#bl2)"/><path d="M295.5 21.5L300 17L305 13.5L311.2 12.5L317.5 13.5L322.5 17L327 21.5C327 27 324.5 33 320 38C316 42.5 306.5 42.5 302.5 38C298 33 295.5 27 295.5 21.5Z" fill="#060606" filter="url(#bl1)"/><circle cx="297.5" cy="32.5" r="2.3" fill="#d8d040" opacity="0.8" filter="url(#bl1)"/><circle cx="325.2" cy="32.5" r="2.3" fill="#d8d040" opacity="0.8" filter="url(#bl1)"/><path d="M308 31L311 27.5L314 31L311 33Z" fill="#6a7290" opacity="0.8" filter="url(#bl05)"/><circle cx="306.6" cy="25.4" r="1.5" fill="#707070" opacity="0.6" filter="url(#bl05)"/><circle cx="316" cy="25.4" r="1.5" fill="#707070" opacity="0.6" filter="url(#bl05)"/><circle cx="303.7" cy="30" r="1.6" fill="#fff" filter="url(#bl05)"/><circle cx="318.6" cy="30" r="1.6" fill="#fff" filter="url(#bl05)"/><path d="M306.6 33.6A4.8 5 0 0 0 316.2 33.6A3.2 2.4 0 0 1 306.6 33.6Z" fill="#fff" filter="url(#bl05)"/><path d="M290.3 15.3L297 20.5L293.5 23.5Z" fill="#050505" filter="url(#bl05)"/><path d="M332 15.3L325.3 20.5L328.8 23.5Z" fill="#050505" filter="url(#bl05)"/><circle cx="289" cy="14" r="1.5" fill="#fff" stroke="#222" stroke-width="0.6"/><circle cx="333.3" cy="14" r="1.5" fill="#fff" stroke="#222" stroke-width="0.6"/><circle cx="294.5" cy="22" r="0.9" fill="#fff" opacity="0.8"/><circle cx="327.8" cy="22" r="0.9" fill="#fff" opacity="0.8"/></g>
</g>
<rect x="30.5" y="6.5" width="161" height="160" fill="none" stroke="#d9d9d9"/>
<line x1="30.5" y1="9.7" x2="33" y2="9.7" stroke="#d9d9d9"/>
<line x1="34.0" y1="166.5" x2="34.0" y2="164" stroke="#d9d9d9"/>
<line x1="30.5" y1="48.3" x2="33" y2="48.3" stroke="#d9d9d9"/>
<line x1="72.8" y1="166.5" x2="72.8" y2="164" stroke="#d9d9d9"/>
<line x1="30.5" y1="86.9" x2="33" y2="86.9" stroke="#d9d9d9"/>
<line x1="111.6" y1="166.5" x2="111.6" y2="164" stroke="#d9d9d9"/>
<line x1="30.5" y1="125.6" x2="33" y2="125.6" stroke="#d9d9d9"/>
<line x1="150.4" y1="166.5" x2="150.4" y2="164" stroke="#d9d9d9"/>
<line x1="30.5" y1="164.2" x2="33" y2="164.2" stroke="#d9d9d9"/>
<line x1="189.2" y1="166.5" x2="189.2" y2="164" stroke="#d9d9d9"/>
<text x="26.4" y="13.3" font-size="10" text-anchor="end" fill="#262626" font-family="'Liberation Sans', sans-serif" >0.2</text>
<text x="26.4" y="51.9" font-size="10" text-anchor="end" fill="#262626" font-family="'Liberation Sans', sans-serif" >0.1</text>
<text x="26.4" y="90.5" font-size="10" text-anchor="end" fill="#262626" font-family="'Liberation Sans', sans-serif" >0.0</text>
<text x="26.4" y="129.2" font-size="10" text-anchor="end" fill="#262626" font-family="'Liberation Sans', sans-serif" >-0.1</text>
<text x="26.4" y="167.8" font-size="10" text-anchor="end" fill="#262626" font-family="'Liberation Sans', sans-serif" >-0.2</text>
<text x="2.4" y="24.4" font-size="10.5" text-anchor="start" fill="#262626" font-family="'Liberation Sans', sans-serif" >mm</text>
<text x="34.0" y="180.2" font-size="10" text-anchor="middle" fill="#262626" font-family="'Liberation Sans', sans-serif" >-0.2</text>
<text x="72.8" y="180.2" font-size="10" text-anchor="middle" fill="#262626" font-family="'Liberation Sans', sans-serif" >-0.1</text>
<text x="111.6" y="180.2" font-size="10" text-anchor="middle" fill="#262626" font-family="'Liberation Sans', sans-serif" >0.0</text>
<text x="150.4" y="180.2" font-size="10" text-anchor="middle" fill="#262626" font-family="'Liberation Sans', sans-serif" >0.1</text>
<text x="188.2" y="180.2" font-size="10" text-anchor="middle" fill="#262626" font-family="'Liberation Sans', sans-serif" >0.2</text>
<text x="160.2" y="183.8" font-size="10.5" text-anchor="start" fill="#262626" font-family="'Liberation Sans', sans-serif" >mm</text>
<rect x="230.5" y="6.5" width="161" height="160" fill="none" stroke="#d9d9d9"/>
<line x1="230.5" y1="9.7" x2="233" y2="9.7" stroke="#d9d9d9"/>
<line x1="234.0" y1="166.5" x2="234.0" y2="164" stroke="#d9d9d9"/>
<line x1="230.5" y1="48.3" x2="233" y2="48.3" stroke="#d9d9d9"/>
<line x1="272.8" y1="166.5" x2="272.8" y2="164" stroke="#d9d9d9"/>
<line x1="230.5" y1="86.9" x2="233" y2="86.9" stroke="#d9d9d9"/>
<line x1="311.6" y1="166.5" x2="311.6" y2="164" stroke="#d9d9d9"/>
<line x1="230.5" y1="125.6" x2="233" y2="125.6" stroke="#d9d9d9"/>
<line x1="350.4" y1="166.5" x2="350.4" y2="164" stroke="#d9d9d9"/>
<line x1="230.5" y1="164.2" x2="233" y2="164.2" stroke="#d9d9d9"/>
<line x1="389.2" y1="166.5" x2="389.2" y2="164" stroke="#d9d9d9"/>
<text x="226.4" y="13.3" font-size="10" text-anchor="end" fill="#262626" font-family="'Liberation Sans', sans-serif" >0.2</text>
<text x="226.4" y="51.9" font-size="10" text-anchor="end" fill="#262626" font-family="'Liberation Sans', sans-serif" >0.1</text>
<text x="226.4" y="90.5" font-size="10" text-anchor="end" fill="#262626" font-family="'Liberation Sans', sans-serif" >0.0</text>
<text x="226.4" y="129.2" font-size="10" text-anchor="end" fill="#262626" font-family="'Liberation Sans', sans-serif" >-0.1</text>
<text x="226.4" y="167.8" font-size="10" text-anchor="end" fill="#262626" font-family="'Liberation Sans', sans-serif" >-0.2</text>
<text x="202.4" y="24.4" font-size="10.5" text-anchor="start" fill="#262626" font-family="'Liberation Sans', sans-serif" >mm</text>
<text x="234.0" y="180.2" font-size="10" text-anchor="middle" fill="#262626" font-family="'Liberation Sans', sans-serif" >-0.2</text>
<text x="272.8" y="180.2" font-size="10" text-anchor="middle" fill="#262626" font-family="'Liberation Sans', sans-serif" >-0.1</text>
<text x="311.6" y="180.2" font-size="10" text-anchor="middle" fill="#262626" font-family="'Liberation Sans', sans-serif" >0.0</text>
<text x="350.4" y="180.2" font-size="10" text-anchor="middle" fill="#262626" font-family="'Liberation Sans', sans-serif" >0.1</text>
<text x="388.2" y="180.2" font-size="10" text-anchor="middle" fill="#262626" font-family="'Liberation Sans', sans-serif" >0.2</text>
<text x="363.2" y="183.8" font-size="10.5" text-anchor="start" fill="#262626" font-family="'Liberation Sans', sans-serif" >mm</text>
<path d="M35.5 83.2 H83.6 V80.4 L96.6 86.5 L83.6 92.8 V89.8 H35.5 Z" fill="#70ad47"/>
<text x="42.6" y="80.8" font-size="10" text-anchor="start" fill="#1a1a1a" font-family="'Liberation Sans', sans-serif" >Raman &#916;<tspan font-style="italic">k</tspan></text>
<path d="M235.5 83.2 H283.6 V80.4 L296.6 86.5 L283.6 92.8 V89.8 H235.5 Z" fill="#70ad47"/>
<text x="242.6" y="80.8" font-size="10" text-anchor="start" fill="#1a1a1a" font-family="'Liberation Sans', sans-serif" >Raman &#916;<tspan font-style="italic">k</tspan></text>
<ellipse cx="110.9" cy="87" rx="12.3" ry="12.4" fill="none" stroke="#e8474a" stroke-width="0.9"/>
<line x1="98.8" y1="81.8" x2="123.6" y2="91.6" stroke="#0000e0" stroke-width="3.2"/>
<line x1="116.1" y1="74.7" x2="106.3" y2="98.3" stroke="#10e010" stroke-width="3.2"/>
<ellipse cx="311.6" cy="86.6" rx="12.2" ry="12.2" fill="none" stroke="#e8474a" stroke-width="0.9"/>
<line x1="298" y1="86.6" x2="324.8" y2="86.6" stroke="#0000e0" stroke-width="3.3"/>
<line x1="311.3" y1="73.3" x2="311.3" y2="99.8" stroke="#10e010" stroke-width="3.3"/>
<text x="112.6" y="72.5" font-family="'Liberation Serif', serif" font-size="14" fill="#ff0000"><tspan font-style="italic">&#969;</tspan><tspan font-size="10" dy="2.6" dx="0.3">z</tspan></text>
<text x="127.3" y="97.6" font-family="'Liberation Serif', serif" font-size="14" fill="#ff0000"><tspan font-style="italic">&#969;</tspan><tspan font-size="10" dy="2.6" dx="0.3">y</tspan></text>
<text x="305.1" y="68.5" font-family="'Liberation Serif', serif" font-size="14" fill="#ff0000"><tspan font-style="italic">&#969;</tspan><tspan font-size="10" dy="2.6" dx="0.3">z</tspan></text>
<text x="330.8" y="91.0" font-family="'Liberation Serif', serif" font-size="14" fill="#ff0000"><tspan font-style="italic">&#969;</tspan><tspan font-size="10" dy="2.6" dx="0.3">y</tspan></text>
<path d="M37.2 157.6 V137" stroke="#111" stroke-width="1.3" fill="none"/>
<path d="M35.2 138.5 L37.2 134 L39.2 138.5 Z" fill="#111"/>
<path d="M37.2 157.6 H57.6" stroke="#111" stroke-width="1.3" fill="none"/>
<path d="M56.6 155.6 L61 157.6 L56.6 159.6 Z" fill="#111"/>
<text x="35" y="130.6" font-size="8" text-anchor="start" fill="#111" font-family="'Liberation Sans', sans-serif" >z</text>
<text x="62.8" y="159.8" font-size="8.5" text-anchor="start" fill="#111" font-family="'Liberation Sans', sans-serif" >y</text>
<path d="M237.2 157.6 V137" stroke="#111" stroke-width="1.3" fill="none"/>
<path d="M235.2 138.5 L237.2 134 L239.2 138.5 Z" fill="#111"/>
<path d="M237.2 157.6 H257.6" stroke="#111" stroke-width="1.3" fill="none"/>
<path d="M256.6 155.6 L261 157.6 L256.6 159.6 Z" fill="#111"/>
<text x="235" y="130.6" font-size="8" text-anchor="start" fill="#111" font-family="'Liberation Sans', sans-serif" >z</text>
<text x="262.8" y="159.8" font-size="8.5" text-anchor="start" fill="#111" font-family="'Liberation Sans', sans-serif" >y</text>
<text x="36.9" y="24.0" font-size="12" text-anchor="start" fill="#1a1a1a" font-family="'Liberation Sans', sans-serif" >(a)</text>
<text x="236.8" y="24.0" font-size="12" text-anchor="start" fill="#1a1a1a" font-family="'Liberation Sans', sans-serif" >(b)</text>
<rect x="29.5" y="199.5" width="162" height="98" fill="none" stroke="#d9d9d9"/>
<line x1="29.5" y1="212.5" x2="31.5" y2="212.5" stroke="#d9d9d9"/>
<rect x="230.5" y="199.5" width="161" height="98" fill="none" stroke="#d9d9d9"/>
<line x1="230.5" y1="212.5" x2="232.5" y2="212.5" stroke="#d9d9d9"/>
<line x1="110.5" y1="199.5" x2="110.5" y2="297.5" stroke="#c8c8c8" stroke-width="0.7"/>
<line x1="311.5" y1="199.5" x2="311.5" y2="297.5" stroke="#c8c8c8" stroke-width="0.7"/>
<polyline points="33.0,296.7 33.5,283.8 33.9,292.2 34.4,289.4 34.8,289.7 35.3,290.4 35.7,285.3 36.2,290.4 36.6,288.6 37.1,297.5 37.5,291.6 38.0,290.0 38.4,290.2 38.9,289.1 39.3,288.0 39.8,289.9 40.2,292.3 40.7,290.3 41.1,293.7 41.6,290.4 42.0,291.1 42.5,295.3 42.9,292.5 43.4,289.6 43.8,290.5 44.3,292.5 44.7,295.5 45.2,290.2 45.6,290.3 46.1,293.8 46.5,288.5 47.0,290.2 47.4,293.5 47.9,292.6 48.3,291.2 48.8,292.6 49.2,282.4 49.7,291.4 50.1,280.0 50.6,266.7 51.0,263.8 51.5,278.4 51.9,286.6 52.4,287.2 52.8,290.7 53.3,290.7 53.7,294.9 54.2,293.1 54.6,291.5 55.1,294.1 55.5,290.4 56.0,288.4 56.4,292.6 56.9,292.6 57.3,290.4 57.8,288.8 58.2,291.6 58.7,284.0 59.1,292.9 59.6,292.4 60.0,286.4 60.5,291.2 60.9,288.3 61.4,293.1 61.8,285.3 62.3,288.4 62.7,293.0 63.2,294.2 63.6,285.0 64.1,289.6 64.5,291.9 65.0,289.3 65.4,295.5 65.9,287.7 66.3,292.0 66.8,288.1 67.2,294.9 67.7,290.7 68.1,290.0 68.6,286.2 69.0,295.7 69.5,293.0 69.9,292.7 70.4,293.4 70.8,290.1 71.3,281.9 71.7,270.0 72.2,254.9 72.6,260.7 73.1,274.9 73.5,285.0 74.0,289.0 74.4,291.0 74.9,292.3 75.3,287.4 75.8,282.7 76.2,291.0 76.7,294.4 77.1,293.1 77.6,291.6 78.0,290.1 78.5,291.8 78.9,290.3 79.4,293.3 79.8,288.8 80.3,287.2 80.7,290.7 81.2,292.5 81.6,287.9 82.1,297.5 82.5,295.2 83.0,295.2 83.4,285.3 83.9,283.9 84.3,289.3 84.8,292.5 85.2,284.6 85.7,294.3 86.1,289.2 86.6,287.4 87.0,288.3 87.5,284.3 87.9,291.1 88.4,292.8 88.8,296.7 89.3,290.4 89.7,293.1 90.2,291.4 90.6,295.9 91.1,293.1 91.5,294.8 92.0,288.0 92.4,290.5 92.9,288.7 93.3,295.2 93.8,292.8 94.2,290.1 94.7,289.7 95.1,292.4 95.6,289.0 96.0,288.4 96.5,292.3 96.9,297.5 97.4,290.3 97.8,289.4 98.3,287.7 98.7,287.3 99.2,292.5 99.6,293.4 100.1,291.0 100.5,291.9 101.0,291.3 101.4,291.4 101.9,286.7 102.3,289.7 102.8,291.3 103.2,288.8 103.7,289.7 104.1,288.7 104.6,290.1 105.0,293.3 105.5,289.7 105.9,290.1 106.4,292.4 106.8,291.4 107.3,293.7 107.7,288.1 108.2,277.1 108.6,262.7 109.1,245.1 109.5,225.7 110.0,204.1 110.4,211.3 110.9,232.1 111.3,252.4 111.8,267.6 112.2,280.4 112.7,290.5 113.1,287.6 113.6,295.8 114.0,293.1 114.5,296.7 114.9,286.6 115.4,289.9 115.8,291.5 116.3,289.5 116.7,289.4 117.2,292.1 117.6,291.0 118.1,295.5 118.5,289.1 119.0,293.4 119.4,289.2 119.9,288.3 120.3,288.3 120.8,287.7 121.2,291.4 121.7,293.9 122.1,291.5 122.6,292.7 123.0,295.6 123.5,291.8 123.9,291.5 124.4,290.2 124.8,286.5 125.3,293.1 125.7,286.1 126.2,292.8 126.6,291.0 127.1,294.2 127.5,290.8 128.0,288.7 128.4,292.0 128.9,289.4 129.3,290.5 129.8,291.1 130.2,290.6 130.7,290.5 131.1,288.7 131.6,290.5 132.0,285.0 132.5,290.6 132.9,287.6 133.4,294.1 133.8,294.6 134.3,285.5 134.7,291.4 135.2,290.6 135.6,288.1 136.1,292.5 136.5,289.7 137.0,286.1 137.4,290.3 137.9,290.6 138.3,291.3 138.8,287.6 139.2,292.7 139.7,293.1 140.1,287.8 140.6,284.6 141.0,290.8 141.5,289.4 141.9,295.9 142.4,291.6 142.8,288.2 143.3,288.8 143.7,290.8 144.2,297.4 144.6,290.5 145.1,291.4 145.5,292.4 146.0,290.9 146.4,297.1 146.9,288.8 147.3,291.5 147.8,283.3 148.2,263.1 148.7,235.4 149.1,245.8 149.6,270.6 150.0,287.6 150.5,287.1 150.9,285.5 151.4,292.4 151.8,293.8 152.3,293.1 152.7,294.4 153.2,293.0 153.6,291.1 154.1,293.3 154.5,292.7 155.0,290.7 155.4,293.0 155.9,294.6 156.3,291.7 156.8,285.5 157.2,293.0 157.7,296.3 158.1,290.4 158.6,290.7 159.0,290.6 159.5,294.4 159.9,285.9 160.4,292.0 160.8,294.3 161.3,288.7 161.7,295.2 162.2,292.5 162.6,289.5 163.1,287.4 163.5,286.7 164.0,289.4 164.4,296.1 164.9,288.5 165.3,296.2 165.8,290.8 166.2,292.1 166.7,291.1 167.1,284.7 167.6,289.3 168.0,291.2 168.5,287.0 168.9,283.9 169.4,277.4 169.8,262.6 170.3,265.3 170.7,279.1 171.2,290.8 171.6,288.9 172.1,293.3 172.5,295.2 173.0,291.1 173.4,287.8 173.9,287.4 174.3,289.1 174.8,293.5 175.2,291.8 175.7,292.5 176.1,289.8 176.6,291.8 177.0,289.7 177.5,290.1 177.9,287.4 178.4,286.6 178.8,289.7 179.3,287.9 179.7,288.3 180.2,292.9 180.6,290.7 181.1,297.5 181.5,293.6 182.0,289.2 182.4,293.2 182.9,292.0 183.3,289.1 183.8,294.1 184.2,288.8 184.7,282.4 185.1,293.2 185.6,289.3 186.0,295.2 186.5,289.2 186.9,287.7 187.4,295.3 187.8,288.0" fill="none" stroke="#000" stroke-width="0.95" stroke-linejoin="round"/>
<polyline points="233.5,291.0 233.9,291.8 234.4,289.7 234.8,288.5 235.3,289.7 235.7,288.2 236.2,291.2 236.6,294.8 237.1,289.6 237.5,289.3 238.0,292.4 238.4,292.0 238.9,291.3 239.3,288.4 239.8,290.9 240.2,292.9 240.7,287.2 241.1,289.7 241.6,285.7 242.0,287.4 242.5,285.8 242.9,290.3 243.4,287.5 243.8,291.8 244.3,291.4 244.7,290.5 245.2,284.0 245.6,289.5 246.1,290.9 246.5,291.3 247.0,282.7 247.4,289.7 247.9,288.3 248.3,288.7 248.8,294.0 249.2,288.7 249.7,290.9 250.1,293.5 250.6,289.4 251.0,290.7 251.5,291.3 251.9,291.2 252.4,287.6 252.8,291.2 253.3,294.8 253.7,286.7 254.2,293.4 254.6,291.2 255.1,288.8 255.5,295.8 256.0,291.6 256.4,285.0 256.9,277.0 257.3,258.7 257.8,234.8 258.2,218.1 258.7,240.3 259.1,263.4 259.6,281.4 260.0,287.0 260.5,290.2 260.9,289.0 261.4,291.1 261.8,287.6 262.3,289.4 262.7,290.5 263.2,293.5 263.6,294.2 264.1,287.3 264.5,288.8 265.0,292.8 265.4,285.4 265.9,289.7 266.3,290.7 266.8,287.8 267.2,292.9 267.7,290.1 268.1,290.0 268.6,290.3 269.0,295.3 269.5,289.8 269.9,290.1 270.4,292.0 270.8,290.7 271.3,290.4 271.7,283.8 272.2,291.0 272.6,289.8 273.1,294.3 273.5,292.8 274.0,290.9 274.4,292.9 274.9,290.0 275.3,293.9 275.8,291.0 276.2,292.6 276.7,287.4 277.1,292.0 277.6,286.3 278.0,285.3 278.5,290.1 278.9,288.5 279.4,291.5 279.8,297.3 280.3,288.7 280.7,289.3 281.2,291.6 281.6,292.4 282.1,290.5 282.5,290.4 283.0,293.0 283.4,292.5 283.9,288.1 284.3,290.8 284.8,291.1 285.2,288.0 285.7,291.7 286.1,288.6 286.6,293.7 287.0,291.5 287.5,286.7 287.9,289.3 288.4,290.7 288.8,285.4 289.3,287.8 289.7,292.0 290.2,285.0 290.6,293.4 291.1,286.1 291.5,293.1 292.0,288.6 292.4,293.2 292.9,291.4 293.3,286.7 293.8,294.5 294.2,295.0 294.7,290.8 295.1,290.2 295.6,290.6 296.0,288.3 296.5,294.1 296.9,289.5 297.4,290.9 297.8,288.8 298.3,289.2 298.7,287.4 299.2,294.5 299.6,290.6 300.1,293.7 300.5,291.0 301.0,289.1 301.4,290.1 301.9,289.4 302.3,291.0 302.8,289.9 303.2,290.2 303.7,287.1 304.1,288.7 304.6,295.6 305.0,289.0 305.5,287.8 305.9,291.4 306.4,294.0 306.8,285.6 307.3,288.6 307.7,286.2 308.2,279.4 308.6,268.3 309.1,255.4 309.5,241.5 310.0,226.6 310.4,209.5 310.9,204.4 311.3,216.9 311.8,234.0 312.2,248.9 312.7,262.2 313.1,272.9 313.6,282.0 314.0,287.9 314.5,288.1 314.9,288.4 315.4,292.0 315.8,289.7 316.3,290.4 316.7,291.0 317.2,294.3 317.6,292.9 318.1,292.1 318.5,289.4 319.0,287.1 319.4,293.7 319.9,293.7 320.3,290.6 320.8,292.5 321.2,293.2 321.7,293.3 322.1,293.6 322.6,289.7 323.0,295.2 323.5,287.5 323.9,293.4 324.4,292.4 324.8,293.4 325.3,296.3 325.7,295.2 326.2,287.8 326.6,284.0 327.1,293.3 327.5,288.2 328.0,291.0 328.4,289.4 328.9,286.4 329.3,285.1 329.8,291.7 330.2,291.1 330.7,290.3 331.1,291.1 331.6,288.6 332.0,286.8 332.5,290.5 332.9,288.3 333.4,286.4 333.8,292.4 334.3,290.8 334.7,286.9 335.2,288.2 335.6,289.2 336.1,288.2 336.5,288.5 337.0,291.5 337.4,288.8 337.9,292.0 338.3,292.0 338.8,292.5 339.2,287.1 339.7,293.5 340.1,290.7 340.6,291.0 341.0,286.9 341.5,289.7 341.9,293.1 342.4,290.8 342.8,291.2 343.3,290.2 343.7,294.2 344.2,285.3 344.6,284.8 345.1,289.1 345.5,285.5 346.0,281.9 346.4,289.5 346.9,294.7 347.3,291.1 347.8,287.7 348.2,288.4 348.7,294.2 349.1,291.4 349.6,291.1 350.0,290.9 350.5,291.1 350.9,293.3 351.4,292.5 351.8,291.6 352.3,284.2 352.7,292.4 353.2,289.1 353.6,294.1 354.1,287.4 354.5,290.6 355.0,291.0 355.4,287.3 355.9,295.8 356.3,295.1 356.8,289.7 357.2,293.2 357.7,292.1 358.1,283.7 358.6,291.7 359.0,289.4 359.5,291.2 359.9,288.0 360.4,290.2 360.8,290.3 361.3,293.7 361.7,290.7 362.2,286.7 362.6,275.6 363.1,257.0 363.5,238.1 364.0,253.6 364.4,272.1 364.9,285.4 365.3,292.2 365.8,292.1 366.2,291.0 366.7,291.5 367.1,290.3 367.6,286.4 368.0,291.2 368.5,295.2 368.9,292.6 369.4,290.8 369.8,289.4 370.3,289.2 370.7,295.5 371.2,292.4 371.6,291.2 372.1,290.0 372.5,287.9 373.0,290.8 373.4,293.4 373.9,289.9 374.3,290.4 374.8,290.4 375.2,291.3 375.7,286.5 376.1,290.3 376.6,288.6 377.0,293.5 377.5,288.8 377.9,292.6 378.4,295.3 378.8,290.1 379.3,289.3 379.7,291.5 380.2,291.0 380.6,288.2 381.1,292.3 381.5,296.6 382.0,286.8 382.4,290.4 382.9,288.1 383.3,291.9 383.8,287.5 384.2,287.9 384.7,294.6 385.1,288.5 385.6,294.0 386.0,295.3 386.5,291.7 386.9,291.4 387.4,296.5 387.8,290.4" fill="none" stroke="#000" stroke-width="0.95" stroke-linejoin="round"/>
<circle cx="50.8" cy="259.3" r="1.9" fill="#ee1c1c"/>
<circle cx="72.3" cy="252.5" r="1.9" fill="#ee1c1c"/>
<circle cx="110.0" cy="203.7" r="1.9" fill="#ee1c1c"/>
<circle cx="148.8" cy="229.2" r="1.9" fill="#ee1c1c"/>
<circle cx="170.0" cy="257.5" r="1.9" fill="#ee1c1c"/>
<circle cx="258.0" cy="217.5" r="1.9" fill="#ee1c1c"/>
<circle cx="310.5" cy="203.8" r="1.9" fill="#ee1c1c"/>
<circle cx="363.5" cy="237.5" r="1.9" fill="#ee1c1c"/>
<text x="26.4" y="215.6" font-size="10" text-anchor="end" fill="#262626" font-family="'Liberation Sans', sans-serif" >0.5</text>
<text x="26.4" y="300.0" font-size="10" text-anchor="end" fill="#262626" font-family="'Liberation Sans', sans-serif" >0.0</text>
<text x="3.5" y="239.0" font-size="12.2" text-anchor="start" fill="#262626" font-family="'Liberation Sans', sans-serif" >P(&#8593;)</text>
<text x="226.4" y="215.6" font-size="10" text-anchor="end" fill="#262626" font-family="'Liberation Sans', sans-serif" >0.5</text>
<text x="226.4" y="300.0" font-size="10" text-anchor="end" fill="#262626" font-family="'Liberation Sans', sans-serif" >0.0</text>
<text x="203.5" y="239.0" font-size="12.2" text-anchor="start" fill="#262626" font-family="'Liberation Sans', sans-serif" >P(&#8593;)</text>
<text x="34.0" y="212.0" font-size="12" text-anchor="start" fill="#1a1a1a" font-family="'Liberation Sans', sans-serif" >(c)</text>
<text x="234.0" y="211.8" font-size="12" text-anchor="start" fill="#1a1a1a" font-family="'Liberation Sans', sans-serif" >(d)</text>
<text x="48.6" y="310.6" font-size="9.5" text-anchor="middle" fill="#262626" font-family="'Liberation Sans', sans-serif" >-2</text>
<text x="81.6" y="310.6" font-size="9.5" text-anchor="middle" fill="#262626" font-family="'Liberation Sans', sans-serif" >-1</text>
<text x="112.8" y="310.6" font-size="9.5" text-anchor="middle" fill="#262626" font-family="'Liberation Sans', sans-serif" >0</text>
<text x="143.6" y="310.6" font-size="9.5" text-anchor="middle" fill="#262626" font-family="'Liberation Sans', sans-serif" >1</text>
<text x="172.8" y="310.6" font-size="9.5" text-anchor="middle" fill="#262626" font-family="'Liberation Sans', sans-serif" >2</text>
<text x="249.5" y="310.6" font-size="9.5" text-anchor="middle" fill="#262626" font-family="'Liberation Sans', sans-serif" >-2</text>
<text x="282.5" y="310.6" font-size="9.5" text-anchor="middle" fill="#262626" font-family="'Liberation Sans', sans-serif" >-1</text>
<text x="314.3" y="310.6" font-size="9.5" text-anchor="middle" fill="#262626" font-family="'Liberation Sans', sans-serif" >0</text>
<text x="344.3" y="310.6" font-size="9.5" text-anchor="middle" fill="#262626" font-family="'Liberation Sans', sans-serif" >1</text>
<text x="372.8" y="310.6" font-size="9.5" text-anchor="middle" fill="#262626" font-family="'Liberation Sans', sans-serif" >2</text>
<text x="112" y="322.4" text-anchor="middle" font-size="12.2" fill="#262626" font-family="'Liberation Serif', serif">(<tspan font-style="italic">&#969;</tspan><tspan font-size="8.5" dy="1.8">0</tspan><tspan dy="-1.8"> &#8722; </tspan><tspan font-style="italic">&#969;</tspan><tspan font-size="8.5" dy="1.8">R</tspan><tspan dy="-1.8">)/(2</tspan><tspan font-style="italic">&#960;</tspan>) <tspan font-family="'Liberation Sans', sans-serif" font-size="11.4">(MHz)</tspan></text>
<text x="312.5" y="322.4" text-anchor="middle" font-size="12.2" fill="#262626" font-family="'Liberation Serif', serif">(<tspan font-style="italic">&#969;</tspan><tspan font-size="8.5" dy="1.8">0</tspan><tspan dy="-1.8"> &#8722; </tspan><tspan font-style="italic">&#969;</tspan><tspan font-size="8.5" dy="1.8">R</tspan><tspan dy="-1.8">)/(2</tspan><tspan font-style="italic">&#960;</tspan>) <tspan font-family="'Liberation Sans', sans-serif" font-size="11.4">(MHz)</tspan></text>
<text x="39.3" y="249.6" font-family="'Liberation Serif', serif" font-size="14" fill="#ff0000">&#8722;</text>
<text x="48.7" y="249.8" font-family="'Liberation Serif', serif" font-size="14" fill="#ff0000"><tspan font-style="italic">&#969;</tspan><tspan font-size="10" dy="2.6" dx="0.3">y</tspan></text>
<text x="64.3" y="226.8" font-family="'Liberation Serif', serif" font-size="14" fill="#ff0000">&#8722;</text>
<text x="73.7" y="227.0" font-family="'Liberation Serif', serif" font-size="14" fill="#ff0000"><tspan font-style="italic">&#969;</tspan><tspan font-size="10" dy="2.6" dx="0.3">z</tspan></text>
<text x="143.6" y="223.5" font-family="'Liberation Serif', serif" font-size="14" fill="#ff0000"><tspan font-style="italic">&#969;</tspan><tspan font-size="10" dy="2.6" dx="0.3">z</tspan></text>
<text x="162.3" y="251.0" font-family="'Liberation Serif', serif" font-size="14" fill="#ff0000"><tspan font-style="italic">&#969;</tspan><tspan font-size="10" dy="2.6" dx="0.3">y</tspan></text>
<text x="261.9" y="216.3" font-family="'Liberation Serif', serif" font-size="14" fill="#ff0000">&#8722;</text>
<text x="271.3" y="216.5" font-family="'Liberation Serif', serif" font-size="14" fill="#ff0000"><tspan font-style="italic">&#969;</tspan><tspan font-size="10" dy="2.6" dx="0.3">y</tspan></text>
<text x="365.8" y="232.0" font-family="'Liberation Serif', serif" font-size="14" fill="#ff0000"><tspan font-style="italic">&#969;</tspan><tspan font-size="10" dy="2.6" dx="0.3">y</tspan></text>
<rect x="46.5" y="337.5" width="344" height="213" fill="none" stroke="#d9d9d9"/>
<line x1="46.5" y1="550.3" x2="48.5" y2="550.3" stroke="#d9d9d9"/>
<text x="43.6" y="553.8" font-size="10" text-anchor="end" fill="#262626" font-family="'Liberation Sans', sans-serif" >0.0</text>
<line x1="46.5" y1="502.0" x2="48.5" y2="502.0" stroke="#d9d9d9"/>
<text x="43.6" y="505.5" font-size="10" text-anchor="end" fill="#262626" font-family="'Liberation Sans', sans-serif" >0.5</text>
<line x1="46.5" y1="453.7" x2="48.5" y2="453.7" stroke="#d9d9d9"/>
<text x="43.6" y="457.2" font-size="10" text-anchor="end" fill="#262626" font-family="'Liberation Sans', sans-serif" >1.0</text>
<line x1="46.5" y1="405.4" x2="48.5" y2="405.4" stroke="#d9d9d9"/>
<text x="43.6" y="408.9" font-size="10" text-anchor="end" fill="#262626" font-family="'Liberation Sans', sans-serif" >1.5</text>
<line x1="46.5" y1="357.1" x2="48.5" y2="357.1" stroke="#d9d9d9"/>
<text x="43.6" y="360.6" font-size="10" text-anchor="end" fill="#262626" font-family="'Liberation Sans', sans-serif" >2.0</text>
<line x1="88.4" y1="550.5" x2="88.4" y2="548.5" stroke="#d9d9d9"/>
<text x="88.4" y="562.8" font-size="10" text-anchor="middle" fill="#262626" font-family="'Liberation Sans', sans-serif" >140</text>
<line x1="145.9" y1="550.5" x2="145.9" y2="548.5" stroke="#d9d9d9"/>
<text x="145.9" y="562.8" font-size="10" text-anchor="middle" fill="#262626" font-family="'Liberation Sans', sans-serif" >155</text>
<line x1="203.4" y1="550.5" x2="203.4" y2="548.5" stroke="#d9d9d9"/>
<text x="203.4" y="562.8" font-size="10" text-anchor="middle" fill="#262626" font-family="'Liberation Sans', sans-serif" >170</text>
<line x1="260.9" y1="550.5" x2="260.9" y2="548.5" stroke="#d9d9d9"/>
<text x="260.9" y="562.8" font-size="10" text-anchor="middle" fill="#262626" font-family="'Liberation Sans', sans-serif" >185</text>
<line x1="318.4" y1="550.5" x2="318.4" y2="548.5" stroke="#d9d9d9"/>
<text x="318.4" y="562.8" font-size="10" text-anchor="middle" fill="#262626" font-family="'Liberation Sans', sans-serif" >200</text>
<line x1="375.9" y1="550.5" x2="375.9" y2="548.5" stroke="#d9d9d9"/>
<text x="375.9" y="562.8" font-size="10" text-anchor="middle" fill="#262626" font-family="'Liberation Sans', sans-serif" >215</text>
<text x="223.4" y="575.2" font-size="12" text-anchor="middle" fill="#262626" font-family="'Liberation Sans', sans-serif" >RF Voltage (V)</text>
<text transform="translate(18.6 445.9) rotate(-90)" text-anchor="middle" font-size="12.4" fill="#262626" font-family="'Liberation Sans', sans-serif">Trap frequency (MHz)</text>
<text x="6.0" y="353.1" font-size="13" text-anchor="start" fill="#1a1a1a" font-family="'Liberation Sans', sans-serif" >(e)</text>
<defs><clipPath id="ce"><rect x="46.5" y="337.5" width="344" height="213"/></clipPath></defs>
<g clip-path="url(#ce)">
<line x1="46.5" y1="486.0" x2="390.5" y2="458.8" stroke="#8b2aa8" stroke-width="1.3" stroke-dasharray="3.5 2.6"/>
<line x1="46.5" y1="499.0" x2="390.5" y2="477.2" stroke="#22e022" stroke-width="1.3" stroke-dasharray="3.6 2.4 1 2.4"/>
<line x1="46.5" y1="513.5" x2="390.5" y2="498.3" stroke="#ff3030" stroke-width="1.3" stroke-dasharray="4.5 1.6"/>
<line x1="46.5" y1="519.8" x2="390.5" y2="506.4" stroke="#1a1aee" stroke-width="1.3" stroke-dasharray="4 1.6 1.5 1.6"/>
<line x1="46.5" y1="523.3" x2="390.5" y2="523.3" stroke="#555" stroke-width="0.9"/>
<line x1="46.5" y1="410.5" x2="390.5" y2="350.7" stroke="#444" stroke-width="0.9"/>
<polyline points="63.3,549.8 65.0,541.8 66.6,538.3 68.3,535.7 69.9,533.4 71.6,531.4 73.2,529.5 74.9,527.9 76.5,526.3 78.2,524.8 79.8,523.4 81.5,522.1 83.1,520.8 84.8,519.6 86.4,518.4 88.1,517.3 89.7,516.1 91.4,515.1 93.0,514.0 94.7,513.0 96.3,512.0 98.0,511.0 99.6,510.1 101.3,509.1 102.9,508.2 104.6,507.3 106.2,506.4 107.9,505.6 109.5,504.7 111.2,503.9 112.9,503.0 114.5,502.2 116.2,501.4 117.8,500.6 119.5,499.8 121.1,499.0 122.8,498.3 124.4,497.5 126.1,496.8 127.7,496.0 129.4,495.3 131.0,494.6 132.7,493.8 134.3,493.1 136.0,492.4 137.6,491.7 139.3,491.0 140.9,490.4 142.6,489.7 144.2,489.0 145.9,488.3 147.5,487.7 149.2,487.0 150.8,486.4 152.5,485.7 154.1,485.1 155.8,484.4 157.5,483.8 159.1,483.2 160.8,482.5 162.4,481.9 164.1,481.3 165.7,480.7 167.4,480.1 169.0,479.5 170.7,478.9 172.3,478.3 174.0,477.7 175.6,477.1 177.3,476.5 178.9,475.9 180.6,475.3 182.2,474.7 183.9,474.2 185.5,473.6 187.2,473.0 188.8,472.4 190.5,471.9 192.1,471.3 193.8,470.7 195.4,470.2 197.1,469.6 198.7,469.1 200.4,468.5 202.0,468.0 203.7,467.4 205.4,466.9 207.0,466.3 208.7,465.8 210.3,465.3 212.0,464.7 213.6,464.2 215.3,463.7 216.9,463.1 218.6,462.6 220.2,462.1 221.9,461.5 223.5,461.0 225.2,460.5 226.8,460.0 228.5,459.5 230.1,458.9 231.8,458.4 233.4,457.9 235.1,457.4 236.7,456.9 238.4,456.4 240.0,455.9 241.7,455.4 243.3,454.9 245.0,454.4 246.6,453.9 248.3,453.4 249.9,452.9 251.6,452.4 253.3,451.9 254.9,451.4 256.6,450.9 258.2,450.4 259.9,449.9 261.5,449.4 263.2,448.9 264.8,448.4 266.5,448.0 268.1,447.5 269.8,447.0 271.4,446.5 273.1,446.0 274.7,445.5 276.4,445.1 278.0,444.6 279.7,444.1 281.3,443.6 283.0,443.2 284.6,442.7 286.3,442.2 287.9,441.7 289.6,441.3 291.2,440.8 292.9,440.3 294.5,439.9 296.2,439.4 297.8,438.9 299.5,438.5 301.2,438.0 302.8,437.5 304.5,437.1 306.1,436.6 307.8,436.2 309.4,435.7 311.1,435.2 312.7,434.8 314.4,434.3 316.0,433.9 317.7,433.4 319.3,433.0 321.0,432.5 322.6,432.1 324.3,431.6 325.9,431.1 327.6,430.7 329.2,430.2 330.9,429.8 332.5,429.3 334.2,428.9 335.8,428.5 337.5,428.0 339.1,427.6 340.8,427.1 342.4,426.7 344.1,426.2 345.8,425.8 347.4,425.3 349.1,424.9 350.7,424.5 352.4,424.0 354.0,423.6 355.7,423.1 357.3,422.7 359.0,422.3 360.6,421.8 362.3,421.4 363.9,420.9 365.6,420.5 367.2,420.1 368.9,419.6 370.5,419.2 372.2,418.8 373.8,418.3 375.5,417.9 377.1,417.5 378.8,417.0 380.4,416.6 382.1,416.2 383.7,415.8 385.4,415.3 387.0,414.9 388.7,414.5 390.3,414.0 392.0,413.6" fill="none" stroke="#444" stroke-width="0.9"/>
</g>
<circle cx="91.9" cy="405.0" r="2.2" fill="#ff1010"/>
<circle cx="149.6" cy="393.6" r="2.2" fill="#ff1010"/>
<circle cx="206.9" cy="380.1" r="2.2" fill="#ff1010"/>
<circle cx="264" cy="374" r="2.2" fill="#ff1010"/>
<circle cx="322.3" cy="364.2" r="2.2" fill="#ff1010"/>
<circle cx="379.3" cy="353" r="2.2" fill="#ff1010"/>
<circle cx="91.9" cy="515.5" r="2.2" fill="#ff1010"/>
<circle cx="91.9" cy="523.4" r="2.2" fill="#ff1010"/>
<circle cx="149.6" cy="486" r="2.2" fill="#ff1010"/>
<circle cx="206.9" cy="462.6" r="2.2" fill="#ff1010"/>
<circle cx="264" cy="445.2" r="2.2" fill="#ff1010"/>
<circle cx="322.3" cy="433.7" r="2.2" fill="#ff1010"/>
<circle cx="379.3" cy="416.6" r="2.2" fill="#ff1010"/>
<line x1="51.5" y1="345.7" x2="88" y2="345.7" stroke="#8b2aa8" stroke-width="1.4" stroke-dasharray="3.5 2.6"/>
<text x="131.2" y="349.3" font-size="10" text-anchor="end" fill="#262626" font-family="'Liberation Sans', sans-serif" >10 ions</text>
<line x1="51.5" y1="359.3" x2="88" y2="359.3" stroke="#22e022" stroke-width="1.4" stroke-dasharray="3.6 2.4 1 2.4" stroke-dashoffset="6"/>
<text x="131.2" y="362.9" font-size="10" text-anchor="end" fill="#262626" font-family="'Liberation Sans', sans-serif" >20 ions</text>
<line x1="51.5" y1="372.2" x2="88" y2="372.2" stroke="#ff3030" stroke-width="1.4" stroke-dasharray="4.5 1.6"/>
<text x="131.2" y="375.8" font-size="10" text-anchor="end" fill="#262626" font-family="'Liberation Sans', sans-serif" >100 ions</text>
<line x1="51.5" y1="385.2" x2="88" y2="385.2" stroke="#1a1aee" stroke-width="1.4" stroke-dasharray="4 1.6 1.5 1.6"/>
<text x="131.2" y="388.8" font-size="10" text-anchor="end" fill="#262626" font-family="'Liberation Sans', sans-serif" >200 ions</text>
<text x="329.8" y="353.5" font-family="'Liberation Serif', serif" font-size="13.2" fill="#ff0000"><tspan font-style="italic">&#969;</tspan><tspan font-size="9.6" dy="2.6" dx="0.3">y</tspan></text>
<text x="335.8" y="417.0" font-family="'Liberation Serif', serif" font-size="13.2" fill="#ff0000"><tspan font-style="italic">&#969;</tspan><tspan font-size="9.6" dy="2.6" dx="0.3">z</tspan></text>
<text x="338.9" y="534.0" font-family="'Liberation Serif', serif" font-size="13.2" fill="#ff0000"><tspan font-style="italic">&#969;</tspan><tspan font-size="9.6" dy="2.6" dx="0.3">x</tspan></text>
</svg>
</body></html>
